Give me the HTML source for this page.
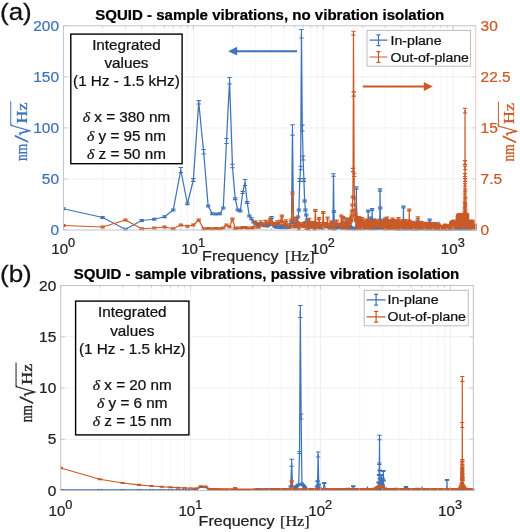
<!DOCTYPE html>
<html lang="en">
<head>
<meta charset="utf-8">
<title>SQUID sample vibrations</title>
<style>html,body{margin:0;padding:0;background:#fff}svg{display:block}</style>
</head>
<body>
<svg width="520" height="532" viewBox="0 0 520 532">
<rect width="520" height="532" fill="#fff"/>
<path d="M102.59 25.75V230M125.45 25.75V230M141.68 25.75V230M154.26 25.75V230M164.54 25.75V230M173.24 25.75V230M180.77 25.75V230M187.41 25.75V230M232.44 25.75V230M255.3 25.75V230M271.53 25.75V230M284.11 25.75V230M294.39 25.75V230M303.09 25.75V230M310.62 25.75V230M317.26 25.75V230M362.29 25.75V230M385.15 25.75V230M401.38 25.75V230M413.96 25.75V230M424.24 25.75V230M432.94 25.75V230M440.47 25.75V230M447.11 25.75V230" stroke="#f4f4f4" stroke-width="0.7" fill="none"/>
<path d="M193.35 25.75V230M323.2 25.75V230M453.05 25.75V230M63.5 178.94H475.75M63.5 127.88H475.75M63.5 76.81H475.75" stroke="#ebebeb" stroke-width="0.8" fill="none"/>
<clipPath id="c1"><rect x="63.5" y="24.75" width="413.25" height="206.25"/></clipPath>
<g clip-path="url(#c1)">
<path d="M63.5 208.75L102.59 217.5L125.45 229.25L141.68 220.5L154.26 219.25L164.54 216.75L173.24 210L180.77 170L187.41 203.75L193.35 180L198.72 102.3L203.63 151.75L208.15 206L212.32 213.75L216.22 214L219.85 213.75L223.27 208L226.5 141L229.55 80.75L232.44 166L235.19 198.75L237.81 210L240.32 211L242.72 192.5L245.02 182.5L247.23 202.5L249.36 216L251.41 218.75L253.39 222L255.3 223L257.15 224L258.94 225L260.68 224L262.36 225L264 225.5L265.59 225L267.13 226L268.63 225L270.1 224L271.53 217.5L272.92 224L274.28 226L275.61 226.68L276.9 227.33L278.17 225.44L279.41 227.63L280.62 225.87L281.81 226.52L282.97 227.68L284.11 225.98L285.23 227.76L286.32 226.26L287.4 227.64L288.45 227.56L289.49 226.3L290.5 224.77L291.5 222L292.48 130L293.45 221L294.39 224.32L295.33 225.75L296.24 226.45L297.14 222L298.03 217L298.91 210L299.77 180L300.62 168L301.45 33.75L302.27 128L303.09 158L303.89 180L304.67 201L305.45 210L306.22 215L306.98 220L307.72 222L308.46 227.92L309.19 227.44L309.91 225.87L310.62 226.73L311.32 227.13L312.01 226.25L312.69 226.71L313.37 227.22L314.04 225.64L314.69 225.97L315.35 227.44L315.99 226.4L316.63 226.58L317.26 225.49L317.88 225.97L318.5 227.37L319.11 225.23L319.71 227.92L320.31 227.01L320.9 225.98L321.48 227.85L322.06 226.83L322.63 228.21L323.2 226.32L323.76 226.05L324.32 226.64L324.87 225.76L325.41 227.43L325.95 226.32L326.49 226.64L327.02 226.69L327.54 227.06L328.06 225.97L328.57 225.68L329.09 227.05L329.59 226.52L330.09 228.25L330.59 226.44L331.08 226.61L331.57 225.65L332.05 226.14L332.53 227.66L333.01 222L333.48 175L333.95 211.5L334.41 223L334.87 228.02L335.33 228.17L335.78 228.33L336.23 226.42L336.68 228.15L337.12 227.84L337.56 227.46L338 226.19L338.43 228.31L338.86 227.34L339.28 227.08L339.7 226.21L340.12 226.39L340.54 226.29L340.95 227.83L341.36 227.48L341.77 227.63L342.17 226.28L342.58 226.11L342.97 228.19L343.37 228.13L343.76 227.99L344.15 228L344.54 227.36L344.93 227.11L345.31 227.94L345.69 228.6L346.07 222L346.44 227.69L346.81 227.21L347.18 226.26L347.55 226.92L347.91 227.36L348.28 227.12L348.64 226.98L349 228.51L349.35 226.45L349.7 221L350.06 226.53L350.41 226.73L350.75 227.71L351.1 227.71L351.44 228.42L351.78 227.15L352.12 228.53L352.46 228.52L352.79 228.19L353.12 228.3L353.45 227.89L353.78 228.57L354.11 228.7L354.44 228.35L354.76 228.47L355.08 227.86L355.4 228.65L355.72 226.69L356.03 220L356.35 188L356.66 218L356.97 227.93L357.28 227.9L357.59 228.45L357.89 226.8L358.2 226.48L358.5 227.68L358.8 227.65L359.1 228.55L359.4 228.52L359.69 227.98L359.99 228.16L360.28 226.91L360.57 228.4L360.86 228.71L361.15 226.66L361.44 227.6L361.72 228.45L362.01 227.58L362.29 228.72L362.57 227.62L362.85 226.64L363.13 226.9L363.41 227.27L363.68 228.22L363.96 228L364.23 228.44L364.5 227.13L364.77 227.65L365.04 227.13L365.31 228.1L365.57 228.33L365.84 227.08L366.1 226.71L366.37 227L366.63 227.11L366.89 227.09L367.15 227.26L367.41 228.35L367.66 227.74L367.92 228.08L368.17 211L368.43 221L368.68 228.26L368.93 228.3L369.18 227.4L369.43 226.86L369.68 227.92L369.92 226.91L370.17 226.81L370.42 226.89L370.66 218L370.9 228.41L371.14 228.4L371.38 228.46L371.62 228.45L371.86 227.6L372.1 209.5L372.33 221L372.57 227.9L372.8 227.56L373.04 227.27L373.27 228.71L373.5 227.55L373.73 227.06L373.96 220L374.19 227.39L374.42 227.94L374.65 228.54L374.87 227.33L375.1 228.24L375.32 227.31L375.55 226.98L375.77 228.12L375.99 228.11L376.21 227.04L376.43 227.49L376.65 228.58L376.87 228.66L377.08 228.62L377.3 227.15L377.52 227.35L377.73 228.64L377.95 227.32L378.16 227.02L378.37 227.65L378.58 228.25L378.79 227.87L379 228.68L379.21 228.91L379.42 227.07L379.63 227.69L379.84 220L380.04 190L380.25 208L380.45 220L380.66 227.38L380.86 228.55L381.06 228.47L381.26 222L381.46 228.5L381.66 227.85L381.86 228.47L382.06 228.17L382.26 228.71L382.46 227.26L382.66 228.3L382.85 228.11L383.05 227.88L383.24 227.28L383.44 228.19L383.63 227.27L383.82 228.04L384.01 227.99L384.21 228.01L384.4 228.94L384.59 228.17L384.78 228.64L384.97 228.97L385.15 219L385.34 228.67L385.53 228.12L385.72 227.66L385.9 227.97L386.09 228.4L386.27 228.05L386.45 227.99L386.64 227.57L386.82 228.8L387 227.99L387.18 228.55L387.37 228.5L387.55 227.61L387.73 228.09L387.91 228L388.08 227.65L388.26 227.38L388.44 228.22L388.62 227.92L388.79 228.11L388.97 228.1L389.15 227.78L389.32 228.21L389.49 228.07L389.67 228.17L389.84 227.36L390.01 227.79L390.19 227.48L390.36 227.37L390.53 228.57L390.7 228.05L390.87 227.38L391.04 227.56L391.21 228.79L391.38 228.82L391.55 228.26L391.71 228.91L391.88 228.62L392.05 228.91L392.21 227.88L392.38 227.68L392.54 227.49L392.71 228.78L392.87 227.81L393.04 227.91L393.2 228.8L393.36 227.53L393.52 227.39L393.69 228.67L393.85 227.42L394.01 228.37L394.17 228.22L394.33 227.37L394.49 227.64L394.65 228.78L394.81 228.33L394.96 228.19L395.12 228.49L395.28 228.73L395.44 221L395.59 227.85L395.75 229.03L395.9 228.13L396.06 228.33L396.21 229.04L396.37 228.51L396.52 228.03L396.68 228.22L396.83 228.97L396.98 227.43L397.13 227.76L397.29 227.46L397.44 228.9L397.59 228.64L397.74 229.01L397.89 227.79L398.04 228.63L398.19 228.87L398.34 228.39L398.48 227.58L398.63 227.74L398.78 228.66L398.93 228.84L399.08 227.58L399.22 228.16L399.37 227.95L399.51 228.95L399.66 229L399.8 227.97L399.95 228.4L400.09 228.98L400.24 227.57L400.38 228.07L400.53 227.8L400.67 228.97L400.81 227.72L400.95 229L401.09 227.71L401.24 228.37L401.38 228.56L401.52 228.22L401.66 227.62L401.8 228.68L401.94 228.9L402.08 228.27L402.22 228.73L402.36 228.94L402.49 228.86L402.63 229.03L402.77 228.79L402.91 228.62L403.04 228.63L403.18 227.91L403.32 222L403.45 207L403.59 221L403.72 228.57L403.86 229.09L403.99 228.73L404.13 229.1L404.26 227.97L404.4 228.26L404.53 228.83L404.66 228.38L404.8 227.67L404.93 228.96L405.06 227.85L405.19 228.46L405.32 228.36L405.46 227.83L405.59 228.52L405.72 228.35L405.85 228.07L405.98 227.61L406.11 228.61L406.24 227.85L406.37 228.05L406.5 228.16L406.62 228.52L406.75 228.61L406.88 229.06L407.01 228.95L407.14 229.04L407.26 228.01L407.39 228.76L407.52 228.9L407.64 229.02L407.77 227.86L407.89 227.82L408.02 228.13L408.14 228.72L408.27 228.78L408.39 228.71L408.52 228.46L408.64 228.92L408.77 228.48L408.89 228.76L409.01 227.7L409.14 227.69L409.26 228.33L409.38 228.79L409.5 227.71L409.63 228.7L409.75 228.63L409.87 229.16L409.99 228.59L410.11 228.45L410.23 228.41L410.35 228.87L410.47 228.41L410.59 229.16L410.71 228.78L410.83 229.04L410.95 228.58L411.07 229.11L411.19 229.14L411.31 228.72L411.42 228.83L411.54 228.31L411.66 222L411.78 228.07L411.89 228.2L412.01 228.12L412.13 227.88L412.24 228.61L412.36 228.7L412.48 227.73L412.59 228.96L412.71 228.12L412.82 228.24L412.94 229.12L413.05 227.96L413.17 227.88L413.28 228.27L413.39 228.11L413.51 228L413.62 228.99L413.74 228.43L413.85 228.46L413.96 227.98L414.07 228.02L414.19 227.99L414.3 228.35L414.41 227.9L414.52 228.21L414.63 228.19L414.75 228.86L414.86 229.15L414.97 229.01L415.08 228.68L415.19 229.05L415.3 228L415.41 228.4L415.52 228.3L415.63 228.3L415.74 228.23L415.85 228.5L415.96 229.2L416.06 228.06L416.17 228.14L416.28 228.49L416.39 228.44L416.5 228.27L416.61 229.11L416.71 228.16L416.82 228.85L416.93 229.1L417.03 228.83L417.14 228.18L417.25 228.92L417.35 228.16L417.46 227.83L417.57 221L417.67 228.67L417.78 228.54L417.88 228.25L417.99 228.14L418.09 228.35L418.2 228.31L418.3 229.11L418.41 229.01L418.51 228.86L418.61 228.18L418.72 228.79L418.82 228.43L418.92 229.21L419.03 229.14L419.13 228.85L419.23 228.29L419.34 228.26L419.44 228.28L419.54 228.82L419.64 228.51L419.74 228.58L419.85 228.58L419.95 229.06L420.05 227.99L420.15 228.95L420.25 227.88L420.35 227.94L420.45 229.21L420.55 228.6L420.65 228.1L420.75 227.9L420.85 228.62L420.95 228.87L421.05 228.95L421.15 227.94L421.25 228.95L421.35 228.44L421.45 229.04L421.55 228.52L421.65 227.93L421.74 229.06L421.84 228.12L421.94 228.55L422.04 228.03L422.14 228.28L422.23 228.93L422.33 228.02L422.43 228.58L422.53 229.21L422.62 229.24L422.72 228.58L422.82 228.63L422.91 228.84L423.01 229.06L423.1 228.78L423.2 228.82L423.3 228.11L423.39 229.25L423.49 228.24L423.58 228.12L423.68 229.09L423.77 228L423.87 228.29L423.96 228.04L424.05 228.86L424.15 228.75L424.24 228.73L424.34 227.92L424.43 228.47L424.52 228.77L424.62 228.68L424.71 228.89L424.8 229.19L424.9 229.12L424.99 228.15L425.08 228.88L425.18 228.01L425.27 228.93L425.36 228.91L425.45 228.58L425.54 229.01L425.64 228.77L425.73 228L425.82 228.09L425.91 228.19L426 228.43L426.09 228.06L426.18 228.02L426.27 228.54L426.36 228.32L426.45 229.2L426.55 228.3L426.64 228.68L426.73 228.28L426.82 228.42L426.9 228.89L426.99 229.21L427.08 228.06L427.17 229.11L427.26 228.65L427.35 228.82L427.44 228.88L427.53 228.31L427.62 228L427.71 228.94L427.79 228.42L427.88 228.88L427.97 228.55L428.06 228.76L428.15 229.06L428.23 229.07L428.32 229.01L428.41 228.1L428.5 228.64L428.58 229L428.67 228.11L428.76 227.99L428.84 228.7L428.93 229.1L429.02 229.03L429.1 229.17L429.19 228.84L429.27 229.17L429.36 228.98L429.45 228.95L429.53 228.55L429.62 220L429.7 228.32L429.79 228.76L429.87 228.76L429.96 228.62L430.04 228.81L430.13 228.86L430.21 229.21L430.3 228.94L430.38 228.05L430.47 229.13L430.55 228.65L430.63 228.49L430.72 228.19L430.8 229.02L430.89 228.95L430.97 228.98L431.05 228.79L431.14 228.73L431.22 228.09L431.3 228.22L431.38 228.19L431.47 229.27L431.55 229.26L431.63 228.4L431.71 228.17L431.8 228.7L431.88 228.56L431.96 229.3L432.04 228.81L432.12 228.13L432.21 228.26L432.29 228.23L432.37 228.08L432.45 228.99L432.53 229.17L432.61 229.11L432.69 228.65L432.77 228.45L432.86 228.13L432.94 228.4L433.02 228.5L433.1 228.35L433.18 228.74L433.26 228.62L433.34 229.26L433.42 228.33L433.5 229.02L433.58 228.16L433.66 228.51L433.74 228.93L433.82 229.15L433.89 229L433.97 228.52L434.05 228.44L434.13 229.17L434.21 229.22L434.29 228.66L434.37 228.59L434.45 228.83L434.52 229.04L434.6 228.57L434.68 229.3L434.76 228.94L434.84 228.75L434.91 228.13L434.99 228.52L435.07 228.23L435.15 228.73L435.23 229.03L435.3 229.01L435.38 228.14L435.46 228.45L435.53 228.94L435.61 229.29L435.69 228.71L435.76 228.5L435.84 228.81L435.92 229.01L435.99 228.51L436.07 228.19L436.15 229.05L436.22 229.28L436.3 228.91L436.37 228.81L436.45 228.49L436.53 229.08L436.6 228.36L436.68 228.43L436.75 228.71L436.83 229.08L436.9 228.15L436.98 228.95L437.05 228.33L437.13 229.05L437.2 229.06L437.28 228.41L437.35 228.97L437.43 228.18L437.5 228.73L437.57 229.1L437.65 229.06L437.72 228.83L437.8 228.53L437.87 228.19L437.94 229.16L438.02 228.86L438.09 229.08L438.16 228.16L438.24 229.16L438.31 229.27L438.38 229.26L438.46 228.86L438.53 228.26L438.6 228.28L438.68 228.46L438.75 228.14L438.82 228.22L438.89 228.94L438.97 229.12L439.04 222L439.11 228.45L439.18 229.3L439.25 228.55L439.33 228.89L439.4 228.9L439.47 228.95L439.54 229.14L439.61 229.34L439.69 229.01L439.76 228.93L439.83 228.21L439.9 229.2L439.97 228.2L440.04 229.1L440.11 228.92L440.18 228.37L440.25 228.37L440.33 228.83L440.4 229.29L440.47 228.79L440.54 229.2L440.61 229.2L440.68 229.2L440.75 229.2L440.82 229.2L440.89 229.2L440.96 229.2L441.03 229.2L441.1 229.2L441.17 229.2L441.24 229.2L441.31 229.2L441.38 229.2L441.44 229.2L441.51 229.2L441.58 229.2L441.65 229.2L441.72 229.2L441.79 229.2L441.86 229.2L441.93 229.2L442 229.2L442.06 229.2L442.13 229.2L442.2 229.2L442.27 229.2L442.34 229.2L442.41 229.2L442.47 229.2L442.54 229.2L442.61 229.2L442.68 229.2L442.75 229.2L442.81 229.2L442.88 229.2L442.95 229.2L443.02 229.2L443.08 229.2L443.15 229.2L443.22 229.2L443.28 229.2L443.35 229.2L443.42 229.2L443.49 229.2L443.55 229.2L443.62 229.2L443.69 229.2L443.75 229.2L443.82 229.2L443.89 229.2L443.95 229.2L444.02 229.2L444.08 229.2L444.15 229.2L444.22 229.2L444.28 229.2L444.35 229.2L444.41 229.2L444.48 229.2L444.54 229.2L444.61 229.2L444.68 229.2L444.74 229.2L444.81 229.2L444.87 229.2L444.94 229.2L445 229.2L445.07 229.2L445.13 229.2L445.2 229.2L445.26 229.2L445.33 229.2L445.39 229.2L445.46 229.2L445.52 229.2L445.58 229.2L445.65 229.2L445.71 229.2L445.78 229.2L445.84 229.2L445.91 229.2L445.97 229.2L446.03 229.2L446.1 229.2L446.16 229.2L446.22 229.2L446.29 229.2L446.35 229.2L446.41 229.2L446.48 229.2L446.54 229.2L446.6 229.2L446.67 229.2L446.73 229.2L446.79 229.2L446.86 229.2L446.92 229.2L446.98 229.2L447.05 229.2L447.11 229.2L447.17 229.2L447.23 229.2L447.3 229.2L447.36 229.2L447.42 229.2L447.48 229.2L447.55 229.2L447.61 229.2L447.67 229.2L447.73 229.2L447.79 229.2L447.86 229.2L447.92 229.2L447.98 229.2L448.04 229.2L448.1 229.2L448.16 229.2L448.23 229.2L448.29 229.2L448.35 229.2L448.41 229.2L448.47 229.2L448.53 229.2L448.59 229.2L448.65 229.2L448.71 229.2L448.78 229.2L448.84 229.2L448.9 229.2L448.96 229.2L449.02 229.2L449.08 229.2L449.14 229.2L449.2 229.2L449.26 229.2L449.32 229.2L449.38 229.2L449.44 229.2L449.5 229.2L449.56 229.2L449.62 229.2L449.68 229.2L449.74 229.2L449.8 229.2L449.86 229.2L449.92 229.2L449.98 229.2L450.04 229.2L450.1 229.2L450.16 229.2L450.22 229.2L450.28 229.2L450.34 229.2L450.39 229.2L450.45 229.2L450.51 229.2L450.57 229.2L450.63 229.2L450.69 229.2L450.75 229.2L450.81 229.2L450.87 229.2L450.92 229.2L450.98 229.2L451.04 229.2L451.1 229.2L451.16 229.2L451.22 229.2L451.27 229.2L451.33 229.2L451.39 229.2L451.45 229.2L451.51 229.2L451.56 229.2L451.62 229.2L451.68 229.2L451.74 229.2L451.8 229.2L451.85 229.2L451.91 229.2L451.97 229.2L452.03 229.2L452.08 229.2L452.14 229.2L452.2 229.2L452.25 229.2L452.31 229.2L452.37 229.2L452.43 229.2L452.48 229.2L452.54 229.2L452.6 229.2L452.65 229.2L452.71 229.2L452.77 229.2L452.82 229.2L452.88 229.2L452.94 229.2L452.99 229.2L453.05 229.2L453.11 229.2L453.16 229.2L453.22 229.2L453.28 229.2L453.33 229.2L453.39 229.2L453.44 229.2L453.5 229.2L453.56 229.2L453.61 229.2L453.67 229.2L453.72 229.2L453.78 229.2L453.83 229.2L453.89 229.2L453.95 229.2L454 229.2L454.06 229.2L454.11 229.2L454.17 229.2L454.22 229.2L454.28 229.2L454.33 229.2L454.39 229.2L454.44 229.2L454.5 229.2L454.55 229.2L454.61 229.2L454.66 229.2L454.72 229.2L454.77 229.2L454.83 229.2L454.88 229.2L454.94 229.2L454.99 229.2L455.04 229.2L455.1 229.2L455.15 229.2L455.21 229.2L455.26 229.2L455.32 229.2L455.37 229.2L455.42 229.2L455.48 229.2L455.53 229.2L455.59 229.2L455.64 229.2L455.69 229.2L455.75 229.2L455.8 229.2L455.86 229.2L455.91 229.2L455.96 229.2L456.02 229.2L456.07 229.2L456.12 229.2L456.18 229.2L456.23 229.2L456.28 229.2L456.34 229.2L456.39 229.2L456.44 229.2L456.5 229.2L456.55 229.2L456.6 229.2L456.65 229.2L456.71 229.2L456.76 229.2L456.81 229.2L456.87 229.2L456.92 229.2L456.97 229.2L457.02 229.2L457.08 229.2L457.13 229.2L457.18 229.2L457.23 229.2L457.29 229.2L457.34 229.2L457.39 229.2L457.44 229.2L457.49 229.2L457.55 229.2L457.6 229.2L457.65 229.2L457.7 229.2L457.75 229.2L457.81 229.2L457.86 229.2L457.91 229.2L457.96 229.2L458.01 229.2L458.06 229.2L458.12 229.2L458.17 229.2L458.22 229.2L458.27 229.2L458.32 229.2L458.37 229.2L458.42 229.2L458.48 229.2L458.53 229.2L458.58 229.2L458.63 229.2L458.68 229.2L458.73 229.2L458.78 229.2L458.83 229.2L458.88 229.2L458.94 229.2L458.99 229.2L459.04 229.2L459.09 229.2L459.14 229.2L459.19 229.2L459.24 229.2L459.29 229.2L459.34 229.2L459.39 229.2L459.44 229.2L459.49 229.2L459.54 229.2L459.59 229.2L459.64 229.2L459.69 229.2L459.74 229.2L459.79 229.2L459.84 229.2L459.89 229.2L459.94 229.2L459.99 229.2L460.04 229.2L460.09 229.2L460.14 229.2L460.19 229.2L460.24 229.2L460.29 229.2L460.34 229.2L460.39 229.2L460.44 229.2L460.49 229.2L460.54 229.2L460.59 229.2L460.64 229.2L460.69 229.2L460.74 229.2L460.78 229.2L460.83 229.2L460.88 229.2L460.93 229.2L460.98 229.2L461.03 229.2L461.08 229.2L461.13 229.2L461.18 229.2L461.23 229.2L461.27 229.2L461.32 229.2L461.37 229.2L461.42 229.2L461.47 229.2L461.52 229.2L461.57 229.2L461.61 229.2L461.66 229.2L461.71 229.2L461.76 229.2L461.81 229.2L461.86 229.2L461.9 229.2L461.95 229.2L462 229.2L462.05 229.2L462.1 229.2L462.14 229.2L462.19 229.2L462.24 229.2L462.29 229.2L462.34 229.2L462.38 229.2L462.43 229.2L462.48 229.2L462.53 229.2L462.57 229.2L462.62 229.2L462.67 229.2L462.72 229.2L462.76 229.2L462.81 229.2L462.86 229.2L462.91 229.2L462.95 229.2L463 229.2L463.05 229.2L463.1 229.2L463.14 229.2L463.19 229.2L463.24 229.2L463.28 229.2L463.33 229.2L463.38 229.2L463.43 229.2L463.47 229.2L463.52 229.2L463.57 229.2L463.61 229.2L463.66 229.2L463.71 229.2L463.75 229.2L463.8 229.2L463.85 229.2L463.89 229.2L463.94 229.2L463.99 229.2L464.03 229.2L464.08 229.2L464.12 229.2L464.17 229.2L464.22 229.2L464.26 229.2L464.31 229.2L464.36 229.2L464.4 229.2L464.45 229.2L464.49 229.2L464.54 229.2L464.59 229.2L464.63 229.2L464.68 229.2L464.72 229.2L464.77 229.2L464.82 229.2L464.86 229.2L464.91 229.2L464.95 229.2L465 229.2L465.04 229.2L465.09 229.2L465.14 229.2L465.18 229.2L465.23 229.2L465.27 229.2L465.32 229.2L465.36 229.2L465.41 229.2L465.45 229.2L465.5 229.2L465.54 229.2L465.59 229.2L465.63 229.2L465.68 229.2L465.72 229.2L465.77 229.2L465.81 229.2L465.86 229.2L465.9 229.2L465.95 229.2L465.99 229.2L466.04 229.2L466.08 229.2L466.13 229.2L466.17 229.2L466.22 229.2L466.26 229.2L466.31 229.2L466.35 229.2L466.4 229.2L466.44 229.2L466.48 229.2L466.53 229.2L466.57 229.2L466.62 229.2L466.66 229.2L466.71 229.2L466.75 229.2L466.79 229.2L466.84 229.2L466.88 229.2L466.93 229.2L466.97 229.2L467.02 229.2L467.06 229.2L467.1 229.2L467.15 229.2L467.19 229.2L467.23 229.2L467.28 229.2L467.32 229.2L467.37 229.2L467.41 229.2L467.45 229.2L467.5 229.2L467.54 229.2L467.58 229.2L467.63 229.2L467.67 229.2L467.72 229.2L467.76 229.2L467.8 229.2L467.85 229.2L467.89 229.2L467.93 229.2L467.98 229.2L468.02 229.2L468.06 229.2L468.11 229.2L468.15 229.2L468.19 229.2L468.23 229.2L468.28 229.2L468.32 229.2L468.36 229.2L468.41 229.2L468.45 229.2L468.49 229.2L468.54 229.2L468.58 229.2L468.62 229.2L468.66 229.2L468.71 229.2L468.75 229.2L468.79 229.2L468.83 229.2L468.88 229.2L468.92 229.2L468.96 229.2L469 229.2L469.05 229.2L469.09 229.2L469.13 229.2L469.17 229.2L469.22 229.2L469.26 229.2L469.3 229.2L469.34 229.2L469.39 229.2L469.43 229.2L469.47 229.2L469.51 229.2L469.55 229.2L469.6 229.2L469.64 229.2L469.68 229.2L469.72 229.2L469.76 229.2L469.81 229.2L469.85 229.2L469.89 229.2L469.93 229.2L469.97 229.2L470.02 229.2L470.06 229.2L470.1 229.2L470.14 229.2L470.18 229.2L470.22 229.2L470.27 229.2L470.31 229.2L470.35 229.2L470.39 229.2L470.43 229.2L470.47 229.2L470.51 229.2L470.56 229.2L470.6 229.2L470.64 229.2L470.68 229.2L470.72 229.2L470.76 229.2L470.8 229.2L470.84 229.2L470.89 229.2L470.93 229.2L470.97 229.2L471.01 229.2L471.05 229.2L471.09 229.2L471.13 229.2L471.17 229.2L471.21 229.2L471.25 229.2L471.29 229.2L471.34 229.2L471.38 229.2L471.42 229.2L471.46 229.2L471.5 229.2L471.54 229.2L471.58 229.2L471.62 229.2L471.66 229.2L471.7 229.2L471.74 229.2L471.78 229.2L471.82 229.2L471.86 229.2L471.9 229.2L471.94 229.2L471.98 229.2L472.02 229.2L472.06 229.2L472.11 229.2L472.15 229.2L472.19 229.2L472.23 229.2L472.27 229.2L472.31 229.2L472.35 229.2L472.39 229.2L472.43 229.2L472.47 229.2L472.51 229.2L472.55 229.2L472.59 229.2L472.63 229.2L472.67 229.2L472.71 229.2L472.75 229.2L472.78 229.2L472.82 229.2L472.86 229.2L472.9 229.2L472.94 229.2L472.98 229.2L473.02 229.2L473.06 229.2L473.1 229.2L473.14 229.2L473.18 229.2L473.22 229.2L473.26 229.2L473.3 229.2L473.34 229.2L473.38 229.2L473.42 229.2L473.46 229.2L473.5 229.2L473.53 229.2L473.57 229.2L473.61 229.2L473.65 229.2L473.69 229.2L473.73 229.2L473.77 229.2L473.81 229.2L473.85 229.2L473.89 229.2L473.93 229.2L473.96 229.2L474 229.2L474.04 229.2L474.08 229.2L474.12 229.2L474.16 229.2L474.2 229.2L474.24 229.2L474.28 229.2L474.31 229.2L474.35 229.2L474.39 229.2L474.43 229.2L474.47 229.2L474.51 229.2L474.55 229.2L474.58 229.2L474.62 229.2L474.66 229.2L474.7 229.2L474.74 229.2L474.78 229.2L474.81 229.2L474.85 229.2L474.89 229.2L474.93 229.2L474.97 229.2L475.01 229.2L475.04 229.2L475.08 229.2L475.12 229.2L475.16 229.2L475.2 229.2L475.23 229.2L475.27 229.2L475.31 229.2L475.35 229.2L475.39 229.2L475.42 229.2L475.46 229.2L475.5 229.2L475.54 229.2L475.58 229.2L475.61 229.2L475.65 229.2L475.69 229.2L475.73 229.2L475.76 229.2L475.8 229.2L475.84 229.2L475.88 229.2L475.92 229.2" stroke="#3f73b8" stroke-width="1.25" fill="none" stroke-linejoin="round"/>
<path d="M63.5 207.85V209.65M61.3 207.85h4.4M61.3 209.65h4.4M102.59 216.6V218.4M100.39 216.6h4.4M100.39 218.4h4.4M125.45 228.35V230M123.25 228.35h4.4M123.25 230h4.4M141.68 219.6V221.4M139.48 219.6h4.4M139.48 221.4h4.4M154.26 218.35V220.15M152.06 218.35h4.4M152.06 220.15h4.4M164.54 215.85V217.65M162.34 215.85h4.4M162.34 217.65h4.4M173.24 209.1V210.9M171.04 209.1h4.4M171.04 210.9h4.4M180.77 167.5V172.5M178.57 167.5h4.4M178.57 172.5h4.4M187.41 202.85V204.65M185.21 202.85h4.4M185.21 204.65h4.4M193.35 178.6V181.4M191.15 178.6h4.4M191.15 181.4h4.4M198.72 100.6V104M196.52 100.6h4.4M196.52 104h4.4M203.63 149.56V153.94M201.43 149.56h4.4M201.43 153.94h4.4M208.15 205.1V206.9M205.95 205.1h4.4M205.95 206.9h4.4M212.32 212.85V214.65M210.12 212.85h4.4M210.12 214.65h4.4M216.22 213.1V214.9M214.02 213.1h4.4M214.02 214.9h4.4M219.85 212.85V214.65M217.65 212.85h4.4M217.65 214.65h4.4M223.27 207.1V208.9M221.07 207.1h4.4M221.07 208.9h4.4M226.5 138.5V143.5M224.3 138.5h4.4M224.3 143.5h4.4M229.55 77.55V83.95M227.35 77.55h4.4M227.35 83.95h4.4M232.44 164.21V167.79M230.24 164.21h4.4M230.24 167.79h4.4M235.19 197.85V199.65M232.99 197.85h4.4M232.99 199.65h4.4M237.81 209.1V210.9M235.61 209.1h4.4M235.61 210.9h4.4M240.32 210.1V211.9M238.12 210.1h4.4M238.12 211.9h4.4M242.72 191.45V193.55M240.52 191.45h4.4M240.52 193.55h4.4M245.02 179.5V185.5M242.82 179.5h4.4M242.82 185.5h4.4M247.23 201.6V203.4M245.03 201.6h4.4M245.03 203.4h4.4M249.36 215.1V216.9M247.16 215.1h4.4M247.16 216.9h4.4M251.41 217.85V219.65M249.21 217.85h4.4M249.21 219.65h4.4M253.39 221.1V222.9M251.19 221.1h4.4M251.19 222.9h4.4M255.3 222.1V223.9M253.1 222.1h4.4M253.1 223.9h4.4M257.15 223.1V224.9M254.95 223.1h4.4M254.95 224.9h4.4M258.94 224.1V225.9M256.74 224.1h4.4M256.74 225.9h4.4M260.68 223.1V224.9M258.48 223.1h4.4M258.48 224.9h4.4M262.36 224.1V225.9M260.16 224.1h4.4M260.16 225.9h4.4M264 224.6V226.4M261.8 224.6h4.4M261.8 226.4h4.4M265.59 224.1V225.9M263.39 224.1h4.4M263.39 225.9h4.4M267.13 225.1V226.9M264.93 225.1h4.4M264.93 226.9h4.4M268.63 224.1V225.9M266.43 224.1h4.4M266.43 225.9h4.4M270.1 223.1V224.9M267.9 223.1h4.4M267.9 224.9h4.4M271.53 216.6V218.4M269.33 216.6h4.4M269.33 218.4h4.4M272.92 223.1V224.9M270.72 223.1h4.4M270.72 224.9h4.4M274.28 225.1V226.9M272.08 225.1h4.4M272.08 226.9h4.4M275.61 225.78V227.58M273.41 225.78h4.4M273.41 227.58h4.4M276.9 226.43V228.23M274.7 226.43h4.4M274.7 228.23h4.4M278.17 224.54V226.34M275.97 224.54h4.4M275.97 226.34h4.4M279.41 226.73V228.53M277.21 226.73h4.4M277.21 228.53h4.4M280.62 224.97V226.77M278.42 224.97h4.4M278.42 226.77h4.4M281.81 225.62V227.42M279.61 225.62h4.4M279.61 227.42h4.4M282.97 226.78V228.58M280.77 226.78h4.4M280.77 228.58h4.4M284.11 225.08V226.88M281.91 225.08h4.4M281.91 226.88h4.4M285.23 226.86V228.66M283.03 226.86h4.4M283.03 228.66h4.4M286.32 225.36V227.16M284.12 225.36h4.4M284.12 227.16h4.4M287.4 226.74V228.54M285.2 226.74h4.4M285.2 228.54h4.4M288.45 226.66V228.46M286.25 226.66h4.4M286.25 228.46h4.4M289.49 225.4V227.2M287.29 225.4h4.4M287.29 227.2h4.4M290.5 223.87V225.67M288.3 223.87h4.4M288.3 225.67h4.4M291.5 221.1V222.9M289.3 221.1h4.4M289.3 222.9h4.4M292.48 124.75V135.25M290.28 124.75h4.4M290.28 135.25h4.4M293.45 220.1V221.9M291.25 220.1h4.4M291.25 221.9h4.4M294.39 223.42V225.22M292.19 223.42h4.4M292.19 225.22h4.4M295.33 224.85V226.65M293.13 224.85h4.4M293.13 226.65h4.4M296.24 225.55V227.35M294.04 225.55h4.4M294.04 227.35h4.4M297.14 221.1V222.9M294.94 221.1h4.4M294.94 222.9h4.4M298.03 216.1V217.9M295.83 216.1h4.4M295.83 217.9h4.4M298.91 209.1V210.9M296.71 209.1h4.4M296.71 210.9h4.4M299.77 178.6V181.4M297.57 178.6h4.4M297.57 181.4h4.4M300.62 166.26V169.74M298.42 166.26h4.4M298.42 169.74h4.4M301.45 29.5V38M299.25 29.5h4.4M299.25 38h4.4M302.27 125.14V130.86M300.07 125.14h4.4M300.07 130.86h4.4M303.09 155.98V160.02M300.89 155.98h4.4M300.89 160.02h4.4M303.89 178.6V181.4M301.69 178.6h4.4M301.69 181.4h4.4M304.67 200.1V201.9M302.47 200.1h4.4M302.47 201.9h4.4M305.45 209.1V210.9M303.25 209.1h4.4M303.25 210.9h4.4M306.22 214.1V215.9M304.02 214.1h4.4M304.02 215.9h4.4M306.98 219.1V220.9M304.78 219.1h4.4M304.78 220.9h4.4M307.72 221.1V222.9M305.52 221.1h4.4M305.52 222.9h4.4M308.46 227.02V228.82M306.26 227.02h4.4M306.26 228.82h4.4M309.19 226.54V228.34M306.99 226.54h4.4M306.99 228.34h4.4M309.91 224.97V226.77M307.71 224.97h4.4M307.71 226.77h4.4M310.62 225.83V227.63M308.42 225.83h4.4M308.42 227.63h4.4M311.32 226.23V228.03M309.12 226.23h4.4M309.12 228.03h4.4M312.01 225.35V227.15M309.81 225.35h4.4M309.81 227.15h4.4M312.69 225.81V227.61M310.49 225.81h4.4M310.49 227.61h4.4M313.37 226.32V228.12M311.17 226.32h4.4M311.17 228.12h4.4M314.04 224.74V226.54M311.84 224.74h4.4M311.84 226.54h4.4M314.69 225.07V226.87M312.49 225.07h4.4M312.49 226.87h4.4M315.35 226.54V228.34M313.15 226.54h4.4M313.15 228.34h4.4M315.99 225.5V227.3M313.79 225.5h4.4M313.79 227.3h4.4M316.63 225.68V227.48M314.43 225.68h4.4M314.43 227.48h4.4M317.26 224.59V226.39M315.06 224.59h4.4M315.06 226.39h4.4M317.88 225.07V226.87M315.68 225.07h4.4M315.68 226.87h4.4M318.5 226.47V228.27M316.3 226.47h4.4M316.3 228.27h4.4M319.11 224.33V226.13M316.91 224.33h4.4M316.91 226.13h4.4M319.71 227.02V228.82M317.51 227.02h4.4M317.51 228.82h4.4M320.31 226.11V227.91M318.11 226.11h4.4M318.11 227.91h4.4M320.9 225.08V226.88M318.7 225.08h4.4M318.7 226.88h4.4M321.48 226.95V228.75M319.28 226.95h4.4M319.28 228.75h4.4M322.06 225.93V227.73M319.86 225.93h4.4M319.86 227.73h4.4M322.63 227.31V229.11M320.43 227.31h4.4M320.43 229.11h4.4M323.2 225.42V227.22M321 225.42h4.4M321 227.22h4.4M323.76 225.15V226.95M321.56 225.15h4.4M321.56 226.95h4.4M324.32 225.74V227.54M322.12 225.74h4.4M322.12 227.54h4.4M324.87 224.86V226.66M322.67 224.86h4.4M322.67 226.66h4.4M325.95 225.42V227.22M323.75 225.42h4.4M323.75 227.22h4.4M327.02 225.79V227.59M324.82 225.79h4.4M324.82 227.59h4.4M328.06 225.07V226.87M325.86 225.07h4.4M325.86 226.87h4.4M329.09 226.15V227.95M326.89 226.15h4.4M326.89 227.95h4.4M330.09 227.35V229.15M327.89 227.35h4.4M327.89 229.15h4.4M331.08 225.71V227.51M328.88 225.71h4.4M328.88 227.51h4.4M332.05 225.24V227.04M329.85 225.24h4.4M329.85 227.04h4.4M333.01 221.1V222.9M330.81 221.1h4.4M330.81 222.9h4.4M333.48 173.8V176.2M331.28 173.8h4.4M331.28 176.2h4.4M333.95 210.6V212.4M331.75 210.6h4.4M331.75 212.4h4.4M334.41 222.1V223.9M332.21 222.1h4.4M332.21 223.9h4.4M335.33 227.27V229.07M333.13 227.27h4.4M333.13 229.07h4.4M336.23 225.52V227.32M334.03 225.52h4.4M334.03 227.32h4.4M337.12 226.94V228.74M334.92 226.94h4.4M334.92 228.74h4.4M338 225.29V227.09M335.8 225.29h4.4M335.8 227.09h4.4M338.86 226.44V228.24M336.66 226.44h4.4M336.66 228.24h4.4M339.7 225.31V227.11M337.5 225.31h4.4M337.5 227.11h4.4M340.54 225.39V227.19M338.34 225.39h4.4M338.34 227.19h4.4M341.36 226.58V228.38M339.16 226.58h4.4M339.16 228.38h4.4M342.17 225.38V227.18M339.97 225.38h4.4M339.97 227.18h4.4M342.97 227.29V229.09M340.77 227.29h4.4M340.77 229.09h4.4M343.76 227.09V228.89M341.56 227.09h4.4M341.56 228.89h4.4M344.54 226.46V228.26M342.34 226.46h4.4M342.34 228.26h4.4M345.31 227.04V228.84M343.11 227.04h4.4M343.11 228.84h4.4M346.07 221.1V222.9M343.87 221.1h4.4M343.87 222.9h4.4M346.81 226.31V228.11M344.61 226.31h4.4M344.61 228.11h4.4M347.55 226.02V227.82M345.35 226.02h4.4M345.35 227.82h4.4M348.28 226.22V228.02M346.08 226.22h4.4M346.08 228.02h4.4M349 227.61V229.41M346.8 227.61h4.4M346.8 229.41h4.4M349.7 220.1V221.9M347.5 220.1h4.4M347.5 221.9h4.4M350.06 225.63V227.43M347.86 225.63h4.4M347.86 227.43h4.4M350.75 226.81V228.61M348.55 226.81h4.4M348.55 228.61h4.4M351.44 227.52V229.32M349.24 227.52h4.4M349.24 229.32h4.4M352.12 227.63V229.43M349.92 227.63h4.4M349.92 229.43h4.4M352.79 227.29V229.09M350.59 227.29h4.4M350.59 229.09h4.4M353.45 226.99V228.79M351.25 226.99h4.4M351.25 228.79h4.4M354.11 227.8V229.6M351.91 227.8h4.4M351.91 229.6h4.4M354.76 227.57V229.37M352.56 227.57h4.4M352.56 229.37h4.4M355.4 227.75V229.55M353.2 227.75h4.4M353.2 229.55h4.4M356.03 219.1V220.9M353.83 219.1h4.4M353.83 220.9h4.4M356.35 186.82V189.18M354.15 186.82h4.4M354.15 189.18h4.4M356.66 217.1V218.9M354.46 217.1h4.4M354.46 218.9h4.4M356.97 227.03V228.83M354.77 227.03h4.4M354.77 228.83h4.4M357.59 227.55V229.35M355.39 227.55h4.4M355.39 229.35h4.4M358.2 225.58V227.38M356 225.58h4.4M356 227.38h4.4M358.8 226.75V228.55M356.6 226.75h4.4M356.6 228.55h4.4M359.4 227.62V229.42M357.2 227.62h4.4M357.2 229.42h4.4M359.99 227.26V229.06M357.79 227.26h4.4M357.79 229.06h4.4M360.57 227.5V229.3M358.37 227.5h4.4M358.37 229.3h4.4M361.15 225.76V227.56M358.95 225.76h4.4M358.95 227.56h4.4M361.72 227.55V229.35M359.52 227.55h4.4M359.52 229.35h4.4M362.29 227.82V229.62M360.09 227.82h4.4M360.09 229.62h4.4M362.85 225.74V227.54M360.65 225.74h4.4M360.65 227.54h4.4M363.41 226.37V228.17M361.21 226.37h4.4M361.21 228.17h4.4M363.96 227.1V228.9M361.76 227.1h4.4M361.76 228.9h4.4M364.77 226.75V228.55M362.57 226.75h4.4M362.57 228.55h4.4M365.57 227.43V229.23M363.37 227.43h4.4M363.37 229.23h4.4M366.37 226.1V227.9M364.17 226.1h4.4M364.17 227.9h4.4M367.15 226.36V228.16M364.95 226.36h4.4M364.95 228.16h4.4M367.92 227.18V228.98M365.72 227.18h4.4M365.72 228.98h4.4M368.17 210.1V211.9M365.97 210.1h4.4M365.97 211.9h4.4M368.43 220.1V221.9M366.23 220.1h4.4M366.23 221.9h4.4M368.68 227.36V229.16M366.48 227.36h4.4M366.48 229.16h4.4M369.43 225.96V227.76M367.23 225.96h4.4M367.23 227.76h4.4M370.17 225.91V227.71M367.97 225.91h4.4M367.97 227.71h4.4M370.66 217.1V218.9M368.46 217.1h4.4M368.46 218.9h4.4M370.9 227.51V229.31M368.7 227.51h4.4M368.7 229.31h4.4M371.62 227.55V229.35M369.42 227.55h4.4M369.42 229.35h4.4M372.1 208.6V210.4M369.9 208.6h4.4M369.9 210.4h4.4M372.33 220.1V221.9M370.13 220.1h4.4M370.13 221.9h4.4M372.57 227V228.8M370.37 227h4.4M370.37 228.8h4.4M373.27 227.81V229.61M371.07 227.81h4.4M371.07 229.61h4.4M373.96 219.1V220.9M371.76 219.1h4.4M371.76 220.9h4.4M374.19 226.49V228.29M371.99 226.49h4.4M371.99 228.29h4.4M374.87 226.43V228.23M372.67 226.43h4.4M372.67 228.23h4.4M375.55 226.08V227.88M373.35 226.08h4.4M373.35 227.88h4.4M376.21 226.14V227.94M374.01 226.14h4.4M374.01 227.94h4.4M376.87 227.76V229.56M374.67 227.76h4.4M374.67 229.56h4.4M377.52 226.45V228.25M375.32 226.45h4.4M375.32 228.25h4.4M378.16 226.12V227.92M375.96 226.12h4.4M375.96 227.92h4.4M378.79 226.97V228.77M376.59 226.97h4.4M376.59 228.77h4.4M379.42 226.17V227.97M377.22 226.17h4.4M377.22 227.97h4.4M379.84 219.1V220.9M377.64 219.1h4.4M377.64 220.9h4.4M380.04 188.88V191.12M377.84 188.88h4.4M377.84 191.12h4.4M380.25 207.1V208.9M378.05 207.1h4.4M378.05 208.9h4.4M380.45 219.1V220.9M378.25 219.1h4.4M378.25 220.9h4.4M380.66 226.48V228.28M378.46 226.48h4.4M378.46 228.28h4.4M381.26 221.1V222.9M379.06 221.1h4.4M379.06 222.9h4.4M381.86 227.57V229.37M379.66 227.57h4.4M379.66 229.37h4.4M382.46 226.36V228.16M380.26 226.36h4.4M380.26 228.16h4.4M383.05 226.98V228.78M380.85 226.98h4.4M380.85 228.78h4.4M383.63 226.37V228.17M381.43 226.37h4.4M381.43 228.17h4.4M384.21 227.11V228.91M382.01 227.11h4.4M382.01 228.91h4.4M384.78 227.74V229.54M382.58 227.74h4.4M382.58 229.54h4.4M385.15 218.1V219.9M382.95 218.1h4.4M382.95 219.9h4.4M385.34 227.77V229.57M383.14 227.77h4.4M383.14 229.57h4.4M385.9 227.07V228.87M383.7 227.07h4.4M383.7 228.87h4.4M386.45 227.09V228.89M384.25 227.09h4.4M384.25 228.89h4.4M387.18 227.65V229.45M384.98 227.65h4.4M384.98 229.45h4.4M387.91 227.1V228.9M385.71 227.1h4.4M385.71 228.9h4.4M388.62 227.02V228.82M386.42 227.02h4.4M386.42 228.82h4.4M389.32 227.31V229.11M387.12 227.31h4.4M387.12 229.11h4.4M390.01 226.89V228.69M387.81 226.89h4.4M387.81 228.69h4.4M390.7 227.15V228.95M388.5 227.15h4.4M388.5 228.95h4.4M391.38 227.92V229.72M389.18 227.92h4.4M389.18 229.72h4.4M392.05 228.01V229.81M389.85 228.01h4.4M389.85 229.81h4.4M392.71 227.88V229.68M390.51 227.88h4.4M390.51 229.68h4.4M393.36 226.63V228.43M391.16 226.63h4.4M391.16 228.43h4.4M394.01 227.47V229.27M391.81 227.47h4.4M391.81 229.27h4.4M394.65 227.88V229.68M392.45 227.88h4.4M392.45 229.68h4.4M395.28 227.83V229.63M393.08 227.83h4.4M393.08 229.63h4.4M395.44 220.1V221.9M393.24 220.1h4.4M393.24 221.9h4.4M395.9 227.23V229.03M393.7 227.23h4.4M393.7 229.03h4.4M396.52 227.13V228.93M394.32 227.13h4.4M394.32 228.93h4.4M397.13 226.86V228.66M394.93 226.86h4.4M394.93 228.66h4.4M397.74 228.11V229.91M395.54 228.11h4.4M395.54 229.91h4.4M398.34 227.49V229.29M396.14 227.49h4.4M396.14 229.29h4.4M398.93 227.94V229.74M396.73 227.94h4.4M396.73 229.74h4.4M399.51 228.05V229.85M397.31 228.05h4.4M397.31 229.85h4.4M400.09 228.08V229.88M397.89 228.08h4.4M397.89 229.88h4.4M400.67 228.07V229.87M398.47 228.07h4.4M398.47 229.87h4.4M401.24 227.47V229.27M399.04 227.47h4.4M399.04 229.27h4.4M401.8 227.78V229.58M399.6 227.78h4.4M399.6 229.58h4.4M402.36 228.04V229.84M400.16 228.04h4.4M400.16 229.84h4.4M402.91 227.72V229.52M400.71 227.72h4.4M400.71 229.52h4.4M403.45 206.1V207.9M401.25 206.1h4.4M401.25 207.9h4.4M403.59 220.1V221.9M401.39 220.1h4.4M401.39 221.9h4.4M403.72 227.67V229.47M401.52 227.67h4.4M401.52 229.47h4.4M404.4 227.36V229.16M402.2 227.36h4.4M402.2 229.16h4.4M405.06 226.95V228.75M402.86 226.95h4.4M402.86 228.75h4.4M405.72 227.45V229.25M403.52 227.45h4.4M403.52 229.25h4.4M406.37 227.15V228.95M404.17 227.15h4.4M404.17 228.95h4.4M407.01 228.05V229.85M404.81 228.05h4.4M404.81 229.85h4.4M407.64 228.12V229.92M405.44 228.12h4.4M405.44 229.92h4.4M408.27 227.88V229.68M406.07 227.88h4.4M406.07 229.68h4.4M408.89 227.86V229.66M406.69 227.86h4.4M406.69 229.66h4.4M409.5 226.81V228.61M407.3 226.81h4.4M407.3 228.61h4.4M410.11 227.55V229.35M407.91 227.55h4.4M407.91 229.35h4.4M410.71 227.88V229.68M408.51 227.88h4.4M408.51 229.68h4.4M411.31 227.82V229.62M409.11 227.82h4.4M409.11 229.62h4.4M411.89 227.3V229.1M409.69 227.3h4.4M409.69 229.1h4.4M412.48 226.83V228.63M410.28 226.83h4.4M410.28 228.63h4.4M413.05 227.06V228.86M410.85 227.06h4.4M410.85 228.86h4.4M413.62 228.09V229.89M411.42 228.09h4.4M411.42 229.89h4.4M414.19 227.09V228.89M411.99 227.09h4.4M411.99 228.89h4.4M414.75 227.96V229.76M412.55 227.96h4.4M412.55 229.76h4.4M415.3 227.1V228.9M413.1 227.1h4.4M413.1 228.9h4.4M415.96 228.3V230M413.76 228.3h4.4M413.76 230h4.4M416.61 228.21V230M414.41 228.21h4.4M414.41 230h4.4M417.25 228.02V229.82M415.05 228.02h4.4M415.05 229.82h4.4M417.57 220.1V221.9M415.37 220.1h4.4M415.37 221.9h4.4M417.88 227.35V229.15M415.68 227.35h4.4M415.68 229.15h4.4M418.51 227.96V229.76M416.31 227.96h4.4M416.31 229.76h4.4M419.13 227.95V229.75M416.93 227.95h4.4M416.93 229.75h4.4M419.74 227.68V229.48M417.54 227.68h4.4M417.54 229.48h4.4M420.35 227.04V228.84M418.15 227.04h4.4M418.15 228.84h4.4M420.95 227.97V229.77M418.75 227.97h4.4M418.75 229.77h4.4M421.55 227.62V229.42M419.35 227.62h4.4M419.35 229.42h4.4M422.14 227.38V229.18M419.94 227.38h4.4M419.94 229.18h4.4M422.72 227.68V229.48M420.52 227.68h4.4M420.52 229.48h4.4M423.3 227.21V229.01M421.1 227.21h4.4M421.1 229.01h4.4M423.87 227.39V229.19M421.67 227.39h4.4M421.67 229.19h4.4M424.43 227.57V229.37M422.23 227.57h4.4M422.23 229.37h4.4M424.99 227.25V229.05M422.79 227.25h4.4M422.79 229.05h4.4M425.54 228.11V229.91M423.34 228.11h4.4M423.34 229.91h4.4M426.18 227.12V228.92M423.98 227.12h4.4M423.98 228.92h4.4M426.82 227.52V229.32M424.62 227.52h4.4M424.62 229.32h4.4M427.44 227.98V229.78M425.24 227.98h4.4M425.24 229.78h4.4M428.06 227.86V229.66M425.86 227.86h4.4M425.86 229.66h4.4M428.67 227.21V229.01M426.47 227.21h4.4M426.47 229.01h4.4M429.27 228.27V230M427.07 228.27h4.4M427.07 230h4.4M429.62 219.1V220.9M427.42 219.1h4.4M427.42 220.9h4.4M429.87 227.86V229.66M427.67 227.86h4.4M427.67 229.66h4.4M430.47 228.23V230M428.27 228.23h4.4M428.27 230h4.4M431.05 227.89V229.69M428.85 227.89h4.4M428.85 229.69h4.4M431.63 227.5V229.3M429.43 227.5h4.4M429.43 229.3h4.4M432.21 227.36V229.16M430.01 227.36h4.4M430.01 229.16h4.4M432.77 227.55V229.35M430.57 227.55h4.4M430.57 229.35h4.4M433.34 228.36V230M431.14 228.36h4.4M431.14 230h4.4M433.89 228.1V229.9M431.69 228.1h4.4M431.69 229.9h4.4M434.45 227.93V229.73M432.25 227.93h4.4M432.25 229.73h4.4M435.07 227.33V229.13M432.87 227.33h4.4M432.87 229.13h4.4M435.69 227.81V229.61M433.49 227.81h4.4M433.49 229.61h4.4M436.3 228.01V229.81M434.1 228.01h4.4M434.1 229.81h4.4M436.9 227.25V229.05M434.7 227.25h4.4M434.7 229.05h4.4M437.5 227.83V229.63M435.3 227.83h4.4M435.3 229.63h4.4M438.09 228.18V229.98M435.89 228.18h4.4M435.89 229.98h4.4M438.68 227.56V229.36M436.48 227.56h4.4M436.48 229.36h4.4M439.25 227.65V229.45M437.05 227.65h4.4M437.05 229.45h4.4M439.83 227.31V229.11M437.63 227.31h4.4M437.63 229.11h4.4M440.4 228.39V230M438.2 228.39h4.4M438.2 230h4.4M440.96 228.3V230M438.76 228.3h4.4M438.76 230h4.4M441.51 228.3V230M439.31 228.3h4.4M439.31 230h4.4M442.06 228.3V230M439.86 228.3h4.4M439.86 230h4.4M442.68 228.3V230M440.48 228.3h4.4M440.48 230h4.4M443.28 228.3V230M441.08 228.3h4.4M441.08 230h4.4M443.89 228.3V230M441.69 228.3h4.4M441.69 230h4.4M444.48 228.3V230M442.28 228.3h4.4M442.28 230h4.4M445.07 228.3V230M442.87 228.3h4.4M442.87 230h4.4M445.65 228.3V230M443.45 228.3h4.4M443.45 230h4.4M446.22 228.3V230M444.02 228.3h4.4M444.02 230h4.4M446.79 228.3V230M444.59 228.3h4.4M444.59 230h4.4M447.36 228.3V230M445.16 228.3h4.4M445.16 230h4.4M447.92 228.3V230M445.72 228.3h4.4M445.72 230h4.4M448.47 228.3V230M446.27 228.3h4.4M446.27 230h4.4M449.08 228.3V230M446.88 228.3h4.4M446.88 230h4.4M449.68 228.3V230M447.48 228.3h4.4M447.48 230h4.4M450.28 228.3V230M448.08 228.3h4.4M448.08 230h4.4M450.87 228.3V230M448.67 228.3h4.4M448.67 230h4.4M451.45 228.3V230M449.25 228.3h4.4M449.25 230h4.4M452.03 228.3V230M449.83 228.3h4.4M449.83 230h4.4M452.6 228.3V230M450.4 228.3h4.4M450.4 230h4.4M453.16 228.3V230M450.96 228.3h4.4M450.96 230h4.4M453.72 228.3V230M451.52 228.3h4.4M451.52 230h4.4M454.28 228.3V230M452.08 228.3h4.4M452.08 230h4.4M454.88 228.3V230M452.68 228.3h4.4M452.68 230h4.4M455.48 228.3V230M453.28 228.3h4.4M453.28 230h4.4M456.07 228.3V230M453.87 228.3h4.4M453.87 230h4.4M456.65 228.3V230M454.45 228.3h4.4M454.45 230h4.4M457.23 228.3V230M455.03 228.3h4.4M455.03 230h4.4M457.81 228.3V230M455.61 228.3h4.4M455.61 230h4.4M458.37 228.3V230M456.17 228.3h4.4M456.17 230h4.4M458.94 228.3V230M456.74 228.3h4.4M456.74 230h4.4M459.49 228.3V230M457.29 228.3h4.4M457.29 230h4.4M460.04 228.3V230M457.84 228.3h4.4M457.84 230h4.4M460.64 228.3V230M458.44 228.3h4.4M458.44 230h4.4M461.23 228.3V230M459.03 228.3h4.4M459.03 230h4.4M461.81 228.3V230M459.61 228.3h4.4M459.61 230h4.4M462.38 228.3V230M460.18 228.3h4.4M460.18 230h4.4M462.95 228.3V230M460.75 228.3h4.4M460.75 230h4.4M463.52 228.3V230M461.32 228.3h4.4M461.32 230h4.4M464.08 228.3V230M461.88 228.3h4.4M461.88 230h4.4M464.63 228.3V230M462.43 228.3h4.4M462.43 230h4.4M465.23 228.3V230M463.03 228.3h4.4M463.03 230h4.4M465.81 228.3V230M463.61 228.3h4.4M463.61 230h4.4M466.4 228.3V230M464.2 228.3h4.4M464.2 230h4.4M466.97 228.3V230M464.77 228.3h4.4M464.77 230h4.4M467.54 228.3V230M465.34 228.3h4.4M465.34 230h4.4M468.11 228.3V230M465.91 228.3h4.4M465.91 230h4.4M468.66 228.3V230M466.46 228.3h4.4M466.46 230h4.4M469.22 228.3V230M467.02 228.3h4.4M467.02 230h4.4M469.81 228.3V230M467.61 228.3h4.4M467.61 230h4.4M470.39 228.3V230M468.19 228.3h4.4M468.19 230h4.4M470.97 228.3V230M468.77 228.3h4.4M468.77 230h4.4M471.54 228.3V230M469.34 228.3h4.4M469.34 230h4.4M472.11 228.3V230M469.91 228.3h4.4M469.91 230h4.4M472.67 228.3V230M470.47 228.3h4.4M470.47 230h4.4M473.22 228.3V230M471.02 228.3h4.4M471.02 230h4.4M473.81 228.3V230M471.61 228.3h4.4M471.61 230h4.4M474.39 228.3V230M472.19 228.3h4.4M472.19 230h4.4M474.97 228.3V230M472.77 228.3h4.4M472.77 230h4.4M475.54 228.3V230M473.34 228.3h4.4M473.34 230h4.4" stroke="#3f73b8" stroke-width="1.125" fill="none"/>
<path d="M63.5 225.5L102.59 227L125.45 220L141.68 228.75L154.26 228L164.54 227L173.24 228.75L180.77 225L187.41 226.25L193.35 225L198.72 220L203.63 228.75L208.15 228.5L212.32 228.8L216.22 228.5L219.85 228.8L223.27 228L226.5 225L229.55 227L232.44 219L235.19 228.5L237.81 228L240.32 228L242.72 227.5L245.02 227.5L247.23 228L249.36 228L251.41 228L253.39 227.5L255.3 222L257.15 227.24L258.94 227.01L260.68 221.61L262.36 223.53L264 225.89L265.59 221.33L267.13 222.83L268.63 223.45L270.1 219.27L271.53 222.9L272.92 224.45L274.28 223.5L275.61 224.12L276.9 221.64L278.17 223.47L279.41 223.19L280.62 221L281.81 216L282.97 222L284.11 223.72L285.23 225.39L286.32 220.64L287.4 224.75L288.45 226.35L289.49 226.51L290.5 227.03L291.5 220L292.48 193L293.45 218L294.39 227.01L295.33 225.8L296.24 218.33L297.14 225.47L298.03 223.24L298.91 229.13L299.77 223.39L300.62 225.96L301.45 225.31L302.27 224.6L303.09 223.4L303.89 226.6L304.67 226.3L305.45 222.57L306.22 228.66L306.98 224.8L307.72 224.8L308.46 228.98L309.19 219.13L309.91 224.48L310.62 222.77L311.32 226.9L312.01 222.43L312.69 225.66L313.37 225.84L314.04 223L314.69 228.94L315.35 210.5L315.99 224.88L316.63 226.85L317.26 223.25L317.88 226.66L318.5 225.91L319.11 218.47L319.71 223.88L320.31 227.73L320.9 226.18L321.48 226.27L322.06 225.37L322.63 223.49L323.2 212.5L323.76 223.48L324.32 226.4L324.87 225.71L325.41 227.31L325.95 225.69L326.49 222.47L327.02 224.67L327.54 218.08L328.06 226.9L328.57 226.99L329.09 227.12L329.59 225.14L330.09 224.81L330.59 223.78L331.08 221.87L331.57 224.21L332.05 223.09L332.53 225.43L333.01 228.83L333.48 227.11L333.95 229.13L334.41 227.87L334.87 222.84L335.33 224.99L335.78 224.65L336.23 223.75L336.68 221.06L337.12 224.97L337.56 224.94L338 224.87L338.43 224.39L338.86 225.08L339.28 224.49L339.7 227.71L340.12 224.59L340.54 226.03L340.95 223.93L341.36 216L341.77 227.93L342.17 228.92L342.58 223.85L342.97 217.5L343.37 224.67L343.76 226.64L344.15 223.52L344.54 223.77L344.93 225.31L345.31 227.4L345.69 227.1L346.07 218.83L346.44 226.99L346.81 226.21L347.18 224.76L347.55 222.75L347.91 228.8L348.28 225.27L348.64 228.9L349 219.24L349.35 223.6L349.7 225.22L350.06 222.86L350.41 226.11L350.75 221L351.1 220L351.44 218L351.78 215L352.12 211L352.46 205L352.79 197L353.12 170L353.45 33.1L353.78 94L354.11 175L354.44 198L354.76 205L355.08 210L355.4 214L355.72 217L356.03 219L356.35 220.5L356.66 221L356.97 228.83L357.28 222.87L357.59 226.92L357.89 222.74L358.2 227.39L358.5 228.55L358.8 222.4L359.1 217.5L359.4 221.71L359.69 222.78L359.99 228.26L360.28 223.64L360.57 222.95L360.86 225.07L361.15 221.06L361.44 226.82L361.72 220.78L362.01 218.5L362.29 221.85L362.57 228.85L362.85 223.45L363.13 222.03L363.41 228.3L363.68 226.34L363.96 222.78L364.23 227.57L364.5 221.66L364.77 224.85L365.04 228.47L365.31 225.86L365.57 224.09L365.84 225.25L366.1 219.98L366.37 227.75L366.63 222.2L366.89 225.89L367.15 223.5L367.41 223.63L367.66 225.43L367.92 225.7L368.17 222.3L368.43 220.95L368.68 222.31L368.93 224.16L369.18 226.49L369.43 228.46L369.68 220.7L369.92 223L370.17 221.07L370.42 226.16L370.66 223.83L370.9 220.67L371.14 221.91L371.38 223.87L371.62 226.36L371.86 225.34L372.1 221.43L372.33 225.78L372.57 223.16L372.8 223.86L373.04 221.36L373.27 222.12L373.5 226.57L373.73 228.97L373.96 226.74L374.19 225.39L374.42 223.99L374.65 222.04L374.87 220.28L375.1 228.62L375.32 221.9L375.55 222.08L375.77 221.61L375.99 224.12L376.21 226.65L376.43 221.74L376.65 222.12L376.87 223.16L377.08 221.21L377.3 226.03L377.52 221.58L377.73 224.27L377.95 222.2L378.16 227.28L378.37 222.6L378.58 221.06L378.79 226.99L379 223.82L379.21 223.22L379.42 225.02L379.63 227.22L379.84 226.81L380.04 222.6L380.25 222.25L380.45 225.07L380.66 228.23L380.86 222.12L381.06 222.42L381.26 227L381.46 224.05L381.66 221.36L381.86 221.46L382.06 224.54L382.26 224.93L382.46 223.97L382.66 227.37L382.85 227.35L383.05 227.44L383.24 221.92L383.44 225.9L383.63 224.18L383.82 225.56L384.01 224.58L384.21 227.71L384.4 228.6L384.59 220.5L384.78 225.8L384.97 228.08L385.15 223.6L385.34 222.29L385.53 227.65L385.72 223.9L385.9 226.05L386.09 224.56L386.27 228.81L386.45 228.69L386.64 220.56L386.82 221.62L387 218.04L387.18 224.16L387.37 226.76L387.55 222.36L387.73 225.36L387.91 220.93L388.08 222.46L388.26 222.02L388.44 220.79L388.62 226.82L388.79 228.66L388.97 227.27L389.15 227.44L389.32 228.27L389.49 228.55L389.67 224.24L389.84 221.58L390.01 225.08L390.19 220.93L390.36 221.25L390.53 220.73L390.7 223.9L390.87 225.6L391.04 227.96L391.21 220.83L391.38 226.79L391.55 224.18L391.71 223.53L391.88 220.85L392.05 223.29L392.21 225.64L392.38 225.17L392.54 219L392.71 220.77L392.87 220.55L393.04 227.1L393.2 228.65L393.36 226.81L393.52 225.99L393.69 221.31L393.85 221.29L394.01 221.86L394.17 228.58L394.33 222.3L394.49 222.95L394.65 223.48L394.81 220.6L394.96 228.51L395.12 227.75L395.28 222.56L395.44 221L395.59 223.23L395.75 226.44L395.9 223.95L396.06 222.54L396.21 228.08L396.37 226.23L396.52 226.8L396.68 227.92L396.83 224.89L396.98 227.55L397.13 226.95L397.29 227.76L397.44 223.22L397.59 228.87L397.74 222.88L397.89 227.32L398.04 228.67L398.19 221.09L398.34 227.11L398.48 218.49L398.63 221.61L398.78 221.43L398.93 227.79L399.08 225.18L399.22 228.16L399.37 221.09L399.51 221.82L399.66 223.64L399.8 225.14L399.95 226.09L400.09 221.98L400.24 224.92L400.38 223.64L400.53 227.77L400.67 227.1L400.81 228.5L400.95 222.91L401.09 224.28L401.24 227.75L401.38 221.58L401.52 226.72L401.66 225.48L401.8 227.66L401.94 226.68L402.08 221.84L402.22 226.14L402.36 227.55L402.49 224.81L402.63 226.28L402.77 221.3L402.91 228.01L403.04 220.66L403.18 228.5L403.32 221.37L403.45 223.3L403.59 227.19L403.72 224.92L403.86 226.55L403.99 226.79L404.13 227.27L404.26 225.88L404.4 220.56L404.53 220.5L404.66 221.12L404.8 228.15L404.93 226.52L405.06 221.36L405.19 228.49L405.32 222.8L405.46 226.49L405.59 220.66L405.72 228.84L405.85 222.12L405.98 226.08L406.11 227.79L406.24 228.96L406.37 221.91L406.5 224.5L406.62 227.4L406.75 225.28L406.88 221.23L407.01 227.12L407.14 224.12L407.26 227.81L407.39 227.45L407.52 222.43L407.64 222.93L407.77 227.31L407.89 228.31L408.02 228.24L408.14 223.81L408.27 224.78L408.39 226.66L408.52 227.24L408.64 223.81L408.77 223.01L408.89 222.14L409.01 224.08L409.14 221L409.26 210L409.38 221L409.5 225.57L409.63 222.95L409.75 228.53L409.87 222.22L409.99 226.2L410.11 221.98L410.23 221.8L410.35 224.9L410.47 228.87L410.59 221.44L410.71 225.05L410.83 221.78L410.95 226.8L411.07 227.47L411.19 222.14L411.31 225.98L411.42 227.66L411.54 225.96L411.66 224.12L411.78 228.98L411.89 224.75L412.01 225.36L412.13 224.8L412.24 228.03L412.36 223.18L412.48 222.36L412.59 221.97L412.71 226.41L412.82 223.24L412.94 225.93L413.05 222.93L413.17 228.53L413.28 221.97L413.39 221.32L413.51 225.04L413.62 224.89L413.74 224.76L413.85 224.71L413.96 228.87L414.07 221.27L414.19 227.24L414.3 227.58L414.41 228.22L414.52 227.04L414.63 222.52L414.75 228.8L414.86 228.28L414.97 223.49L415.08 227.5L415.19 228.91L415.3 224.3L415.41 224.49L415.52 224.92L415.63 223.5L415.74 228.24L415.85 222.2L415.96 223.41L416.06 228.7L416.17 228.09L416.28 225.19L416.39 225.14L416.5 226.87L416.61 228.11L416.71 225.9L416.82 228L416.93 224.46L417.03 222.37L417.14 227.92L417.25 224.63L417.35 223.29L417.46 227.8L417.57 222.69L417.67 221.84L417.78 226.08L417.88 217.6L417.99 222.62L418.09 225.04L418.2 226.04L418.3 221.87L418.41 223.13L418.51 226.49L418.61 227.25L418.72 226.53L418.82 225.77L418.92 221.62L419.03 222.98L419.13 222.16L419.23 222.91L419.34 222.67L419.44 228.69L419.54 225.19L419.64 221.87L419.74 222.06L419.85 227.22L419.95 225.93L420.05 224.35L420.15 226.37L420.25 225.13L420.35 228.58L420.45 225.87L420.55 225.34L420.65 228.95L420.75 228.07L420.85 221.9L420.95 223.34L421.05 222.16L421.15 224.42L421.25 223.13L421.35 222.58L421.45 222.59L421.55 228.86L421.65 224.4L421.74 227.17L421.84 224.14L421.94 227.12L422.04 225.15L422.14 222.36L422.23 224.59L422.33 227.3L422.43 225.34L422.53 225.97L422.62 222.22L422.72 227.04L422.82 226.92L422.91 224.45L423.01 228.26L423.1 224.84L423.2 222.24L423.3 225.44L423.39 227.21L423.49 225.79L423.58 225.31L423.68 228.08L423.77 228.26L423.87 228.2L423.96 227.05L424.05 226.25L424.15 227.09L424.24 227.42L424.34 228.52L424.43 225.28L424.52 223.21L424.62 224.84L424.71 225.13L424.8 224.57L424.9 227.74L424.99 224.16L425.08 225.92L425.18 225.31L425.27 224.87L425.36 225.88L425.45 226.99L425.54 227.47L425.64 227.62L425.73 225.6L425.82 226.5L425.91 225.1L426 229.09L426.09 226.73L426.18 223.21L426.27 227.53L426.36 225.34L426.45 225.79L426.55 227.22L426.64 222.4L426.73 227.15L426.82 223.89L426.9 228.1L426.99 228.72L427.08 223.24L427.17 226.19L427.26 228.76L427.35 226.55L427.44 226.2L427.53 224.21L427.62 228.45L427.71 227.67L427.79 222.72L427.88 224.22L427.97 228.15L428.06 226.93L428.15 226.83L428.23 224.67L428.32 225.07L428.41 223.52L428.5 223.72L428.58 225.75L428.67 224.29L428.76 224.27L428.84 224.16L428.93 226.06L429.02 224.01L429.1 224.53L429.19 223.17L429.27 228.37L429.36 223.48L429.45 229.18L429.53 224.19L429.62 225.38L429.7 225.96L429.79 222.93L429.87 225.49L429.96 226.5L430.04 224.12L430.13 223.55L430.21 225.28L430.3 226.76L430.38 226.3L430.47 226.27L430.55 224.56L430.63 227.34L430.72 226.72L430.8 225.66L430.89 226.77L430.97 227.17L431.05 224.2L431.14 223.81L431.22 226.05L431.3 226.41L431.38 228.07L431.47 227.31L431.55 228.32L431.63 225.6L431.71 225.57L431.8 228.69L431.88 223.45L431.96 227.21L432.04 223.95L432.12 223.99L432.21 223.24L432.29 227.97L432.37 226.59L432.45 223.58L432.53 229.19L432.61 228.96L432.69 225.75L432.77 226.17L432.86 223.56L432.94 224.48L433.02 225.94L433.1 223.11L433.18 226.08L433.26 226.09L433.34 225.06L433.42 226.88L433.5 227.08L433.58 225.64L433.66 227.13L433.74 223.5L433.82 225.16L433.89 226.09L433.97 228.67L434.05 227.01L434.13 226.85L434.21 225.89L434.29 225.82L434.37 223.99L434.45 223.49L434.52 226.36L434.6 226.65L434.68 225.55L434.76 223.34L434.84 227.24L434.91 226.13L434.99 224.44L435.07 228.28L435.15 227.41L435.23 223.51L435.3 224.42L435.38 226.27L435.46 228.64L435.53 224.04L435.61 225.25L435.69 224.49L435.76 223.51L435.84 224.12L435.92 226.85L435.99 228.39L436.07 227.62L436.15 226.34L436.22 226.38L436.3 228.22L436.37 228.26L436.45 225.68L436.53 225.84L436.6 227.28L436.68 223.62L436.75 225.67L436.83 229.07L436.9 226.97L436.98 224.83L437.05 227.57L437.13 225.4L437.2 229.2L437.28 227.6L437.35 224.56L437.43 226.02L437.5 225.56L437.57 228.22L437.65 226.53L437.72 226.23L437.8 227.84L437.87 225.72L437.94 226.37L438.02 223.78L438.09 226.14L438.16 227.05L438.24 228.66L438.31 228.47L438.38 225.15L438.46 228.75L438.53 228.79L438.6 228.4L438.68 226.48L438.75 224.84L438.82 226L438.89 224.95L438.97 229.01L439.04 229.2L439.11 225.17L439.18 227.6L439.25 225.48L439.33 227.44L439.4 228.44L439.47 227.92L439.54 228.82L439.61 224.51L439.69 226.24L439.76 227.49L439.83 226.96L439.9 227.31L439.97 229.07L440.04 224.64L440.11 226.28L440.18 224.29L440.25 227.05L440.33 226.1L440.4 228.06L440.47 229.06L440.54 227.83L440.61 229.01L440.68 228.03L440.75 228.86L440.82 227.17L440.89 228.96L440.96 226.99L441.03 227.78L441.1 229.08L441.17 228.28L441.24 227.8L441.31 226.38L441.38 228.29L441.44 228.74L441.51 226.22L441.58 226.5L441.65 227.01L441.72 228.55L441.79 228.87L441.86 228.57L441.93 229.23L442 229.32L442.06 227.76L442.13 228.09L442.2 227.6L442.27 228.25L442.34 229.42L442.41 227.16L442.47 227.27L442.54 227.64L442.61 227.62L442.68 227.15L442.75 226.17L442.81 226.53L442.88 227.06L442.95 228.12L443.02 228.39L443.08 227.41L443.15 224.94L443.22 227.55L443.28 227.56L443.35 227.45L443.42 228.64L443.49 224.82L443.55 229.26L443.62 226.57L443.69 225.15L443.75 228.14L443.82 226.55L443.89 227.6L443.95 228.21L444.02 228.39L444.08 228.76L444.15 225.52L444.22 225.78L444.28 225.22L444.35 229.06L444.41 226.18L444.48 227.83L444.54 226.4L444.61 226.83L444.68 227.87L444.74 224.94L444.81 229.28L444.87 225.95L444.94 225.47L445 227L445.07 226.64L445.13 224.84L445.2 228.23L445.26 226.47L445.33 225.96L445.39 227.59L445.46 226.1L445.52 227.52L445.58 226.93L445.65 226.54L445.71 226.26L445.78 227.84L445.84 226.47L445.91 226.86L445.97 228.28L446.03 226.55L446.1 228.1L446.16 225.22L446.22 227.17L446.29 226.06L446.35 226.95L446.41 227.15L446.48 228.29L446.54 228.65L446.6 225.14L446.67 226.92L446.73 226.94L446.79 226.93L446.86 225.65L446.92 228.21L446.98 228.51L447.05 225.61L447.11 227.23L447.17 226.42L447.23 225.59L447.3 225.29L447.36 225.41L447.42 229.09L447.48 227.58L447.55 225.57L447.61 225.63L447.67 228.73L447.73 228.59L447.79 228.16L447.86 228.82L447.92 227.69L447.98 225.69L448.04 226.95L448.1 227.26L448.16 228.89L448.23 227.51L448.29 224.83L448.35 226.18L448.41 227.27L448.47 227.14L448.53 225.72L448.59 225.89L448.65 228.61L448.71 226.24L448.78 227.64L448.84 226.96L448.9 228.22L448.96 227.62L449.02 227.76L449.08 227.58L449.14 229.2L449.2 228.38L449.26 226.73L449.32 229.02L449.38 228.48L449.44 226.07L449.5 228.05L449.56 226.16L449.62 226.81L449.68 222.13L449.74 228L449.8 223.7L449.86 221.94L449.92 227.13L449.98 225.38L450.04 222.46L450.1 223.84L450.16 225.79L450.22 228.38L450.28 225.23L450.34 225.82L450.39 223.09L450.45 226.39L450.51 225.5L450.57 223.6L450.63 222.32L450.69 225.94L450.75 225.68L450.81 224.15L450.87 221.41L450.92 227.21L450.98 221.05L451.04 223.1L451.1 225.78L451.16 223.46L451.22 226.12L451.27 228.17L451.33 222.75L451.39 225.73L451.45 224.57L451.51 224.8L451.56 221.6L451.62 222.74L451.68 228.52L451.74 224.04L451.8 225.07L451.85 225.07L451.91 222.09L451.97 225.45L452.03 224.98L452.08 221.69L452.14 225.25L452.2 224.84L452.25 224.68L452.31 222.21L452.37 223.43L452.43 222.87L452.48 225.55L452.54 228.4L452.6 223.35L452.65 224.35L452.71 222.64L452.77 222.64L452.82 227.79L452.88 226.98L452.94 228.12L452.99 222.26L453.05 227.92L453.11 228.03L453.16 222.77L453.22 224.26L453.28 228.29L453.33 223.34L453.39 223.1L453.44 224.91L453.5 228.29L453.56 223.26L453.61 225.42L453.67 224.11L453.72 220.84L453.78 222.27L453.83 221.83L453.89 227.57L453.95 226.08L454 224.63L454.06 228.68L454.11 220.91L454.17 226.55L454.22 226.65L454.28 226.25L454.33 226.71L454.39 221.94L454.44 224.33L454.5 224.69L454.55 225.4L454.61 228.32L454.66 226.32L454.72 221.87L454.77 222.39L454.83 221.95L454.88 226.69L454.94 227.13L454.99 228.31L455.04 224.48L455.1 225.77L455.15 225.06L455.21 224.86L455.26 224.11L455.32 225.83L455.37 222.39L455.42 227.14L455.48 221.46L455.53 224.33L455.59 228.32L455.64 226.24L455.69 224.51L455.75 225.49L455.8 224.26L455.86 226.17L455.91 226.56L455.96 222.43L456.02 226.42L456.07 223.11L456.12 222.38L456.18 224.04L456.23 225.13L456.28 221.33L456.34 225.21L456.39 221.78L456.44 228.27L456.5 225.3L456.55 223.67L456.6 228.34L456.65 221.91L456.71 228.16L456.76 224.01L456.81 227.3L456.87 221.43L456.92 224.29L456.97 222.4L457.02 224.79L457.08 223.4L457.13 223.39L457.18 226.39L457.23 227.06L457.29 222.1L457.34 227.57L457.39 221.47L457.44 227.09L457.49 227.93L457.55 227.97L457.6 222.53L457.65 221.21L457.7 225.45L457.75 218.94L457.81 224.35L457.86 215.61L457.91 218.58L457.96 225.74L458.01 227.06L458.06 218.44L458.12 227.26L458.17 216.55L458.22 223.87L458.27 224.69L458.32 219.98L458.37 223.53L458.42 220.27L458.48 225.75L458.53 215.53L458.58 223.45L458.63 216.48L458.68 225.78L458.73 217.05L458.78 214.61L458.83 222.55L458.88 227.38L458.94 222.7L458.99 219.18L459.04 224.81L459.09 220.47L459.14 226.56L459.19 221.56L459.24 218L459.29 222.03L459.34 218.67L459.39 226.28L459.44 216.65L459.49 226.18L459.54 215.37L459.59 214.39L459.64 215.16L459.69 220.73L459.74 223.9L459.79 223.13L459.84 217.71L459.89 221.13L459.94 215.29L459.99 226.57L460.04 221.29L460.09 216.17L460.14 219.76L460.19 220.53L460.24 226.63L460.29 225.94L460.34 224.17L460.39 215.78L460.44 216.42L460.49 224.76L460.54 215.36L460.59 227.39L460.64 219.75L460.69 214.78L460.74 223.18L460.78 215.09L460.83 218.97L460.88 227.15L460.93 223.33L460.98 221.76L461.03 224.49L461.08 217.81L461.13 225.41L461.18 217.2L461.23 223.8L461.27 226.89L461.32 220.28L461.37 226.53L461.42 220.39L461.47 217.2L461.52 219.79L461.57 221.6L461.61 227.37L461.66 220.9L461.71 226.51L461.76 219.1L461.81 226.05L461.86 220.03L461.9 223.07L461.95 222.77L462 218.88L462.05 225.62L462.1 225.54L462.14 215.13L462.19 223.35L462.24 216.47L462.29 216.05L462.34 221.35L462.38 225.82L462.43 226.56L462.48 215.97L462.53 226.25L462.57 221.13L462.62 220.6L462.67 226.24L462.72 221.52L462.76 225.61L462.81 220.6L462.86 220.99L462.91 222.88L462.95 225.16L463 222.38L463.05 225.08L463.1 226.11L463.14 224.59L463.19 216.07L463.24 221.06L463.28 215.82L463.33 227.62L463.38 215.1L463.43 221.24L463.47 217.16L463.52 220.13L463.57 218.53L463.61 224.73L463.66 217.71L463.71 225.75L463.75 224.26L463.8 227.41L463.85 222.52L463.89 220.84L463.94 223.89L463.99 215.82L464.03 226.69L464.08 220.02L464.12 224.67L464.17 219.8L464.22 217.25L464.26 218.24L464.31 226.99L464.36 224.51L464.4 219.75L464.45 214.57L464.49 227.27L464.54 219.49L464.59 218.5L464.63 216.84L464.68 223.21L464.72 212L464.77 208L464.82 202L464.86 194L464.91 185L464.95 175L465 162.5L465.04 110.6L465.09 168L465.14 180L465.18 190L465.23 198L465.27 205L465.32 210L465.36 213.5L465.41 224.86L465.45 223.36L465.5 214.66L465.54 214.38L465.59 217.15L465.63 221.36L465.68 221.12L465.72 217.32L465.77 215.58L465.81 217.69L465.86 219.24L465.9 225.14L465.95 219.39L465.99 216.42L466.04 217.22L466.08 226.58L466.13 218.15L466.17 223.12L466.22 225.64L466.26 214.8L466.31 218.75L466.35 217.77L466.4 226.01L466.44 216.65L466.48 215.19L466.53 215.62L466.57 217.78L466.62 216.6L466.66 217.01L466.71 219.86L466.75 221.95L466.79 216.7L466.84 217.25L466.88 216.08L466.93 223.79L466.97 214.87L467.02 220.66L467.06 215.07L467.1 226.26L467.15 214.77L467.19 217.21L467.23 224.43L467.28 222.1L467.32 226.89L467.37 227.16L467.41 225.11L467.45 226.85L467.5 224.83L467.54 221.55L467.58 223.31L467.63 223.11L467.67 225.63L467.72 222.53L467.76 222.45L467.8 223.33L467.85 221.28L467.89 222.2L467.93 225.51L467.98 228.04L468.02 223.57L468.06 222.11L468.11 226.04L468.15 224.02L468.19 222.11L468.23 222.46L468.28 228.69L468.32 224.86L468.36 228.6L468.41 227.85L468.45 222.3L468.49 225.42L468.54 223.94L468.58 225.11L468.62 226.07L468.66 227.04L468.71 225.93L468.75 222.05L468.79 223.83L468.83 226.42L468.88 228.03L468.92 226.58L468.96 223.18L469 225.23L469.05 223.5L469.09 222.34L469.13 227.77L469.17 223.33L469.22 228.4L469.26 222.22L469.3 227.27L469.34 226.58L469.39 221.15L469.43 225.86L469.47 226.95L469.51 221.69L469.55 223.9L469.6 221.66L469.64 225.61L469.68 224.78L469.72 221.17L469.76 224.72L469.81 220.91L469.85 227.23L469.89 222.16L469.93 227.44L469.97 224.56L470.02 228.72L470.06 227.34L470.1 221.25L470.14 225.13L470.18 222.33L470.22 226.74L470.27 225.94L470.31 227.93L470.35 224.36L470.39 221.91L470.43 224.66L470.47 225.75L470.51 221.38L470.56 221.66L470.6 223.46L470.64 228.12L470.68 223.79L470.72 225.21L470.76 221.15L470.8 225.86L470.84 223.5L470.89 223.73L470.93 225.75L470.97 224.6L471.01 223.38L471.05 221.55L471.09 224.79L471.13 225.85L471.17 221.01L471.21 228.27L471.25 222.13L471.29 223.32L471.34 224.32L471.38 225.19L471.42 222.79L471.46 221.68L471.5 222.96L471.54 222.8L471.58 228.45L471.62 226.15L471.66 227.64L471.7 221.19L471.74 221.68L471.78 227.58L471.82 224.08L471.86 224.17L471.9 228.36L471.94 225.62L471.98 222.82L472.02 223.65L472.06 226.5L472.11 222.7L472.15 226.42L472.19 224.42L472.23 225.4L472.27 220.99L472.31 223.6L472.35 222.36L472.39 223.38L472.43 225.72L472.47 221.11L472.51 223.11L472.55 223.26L472.59 226.53L472.63 227.45L472.67 224.18L472.71 222.2L472.75 222.45L472.78 225.98L472.82 227.62L472.86 224.65L472.9 221.79L472.94 227.44L472.98 222.89L473.02 227.38L473.06 226.26L473.1 228.3L473.14 226.37L473.18 225.7L473.22 221.08L473.26 221.12L473.3 227.25L473.34 226.28L473.38 221.26L473.42 227.16L473.46 226.19L473.5 225.26L473.53 227.87L473.57 226.67L473.61 225.61L473.65 225.68L473.69 221.11L473.73 226.62L473.77 227.11L473.81 221.54L473.85 225.17L473.89 222.11L473.93 223.69L473.96 222.57L474 226.24L474.04 227.52L474.08 225.9L474.12 227.18L474.16 226.79L474.2 226.29L474.24 225.92L474.28 228.05L474.31 227.66L474.35 225.18L474.39 226.92L474.43 227.99L474.47 226.47L474.51 228.12L474.55 225.84L474.58 229.1L474.62 225.59L474.66 226.75L474.7 227.7L474.74 225.08L474.78 228.09L474.81 228.19L474.85 228.97L474.89 226.83L474.93 225.92L474.97 226.25L475.01 227.44L475.04 225.67L475.08 228.78L475.12 227.91L475.16 226.4L475.2 224.96L475.23 226.45L475.27 226.19L475.31 225.82L475.35 227.52L475.39 225.08L475.42 225.97L475.46 227.75L475.5 227.53L475.54 225.68L475.58 227.72L475.61 228.45L475.65 225.39L475.69 226.91L475.73 226.95L475.76 226.29L475.8 225.26L475.84 228.68L475.88 227.77L475.92 228.99" stroke="#c95a27" stroke-width="1.25" fill="none" stroke-linejoin="round"/>
<path d="M63.5 224.6V226.4M61.3 224.6h4.4M61.3 226.4h4.4M102.59 226.1V227.9M100.39 226.1h4.4M100.39 227.9h4.4M125.45 219.1V220.9M123.25 219.1h4.4M123.25 220.9h4.4M141.68 227.85V229.65M139.48 227.85h4.4M139.48 229.65h4.4M154.26 227.1V228.9M152.06 227.1h4.4M152.06 228.9h4.4M164.54 226.1V227.9M162.34 226.1h4.4M162.34 227.9h4.4M173.24 227.85V229.65M171.04 227.85h4.4M171.04 229.65h4.4M180.77 224.1V225.9M178.57 224.1h4.4M178.57 225.9h4.4M187.41 225.35V227.15M185.21 225.35h4.4M185.21 227.15h4.4M193.35 224.1V225.9M191.15 224.1h4.4M191.15 225.9h4.4M198.72 219.1V220.9M196.52 219.1h4.4M196.52 220.9h4.4M203.63 227.85V229.65M201.43 227.85h4.4M201.43 229.65h4.4M208.15 227.6V229.4M205.95 227.6h4.4M205.95 229.4h4.4M212.32 227.9V229.7M210.12 227.9h4.4M210.12 229.7h4.4M216.22 227.6V229.4M214.02 227.6h4.4M214.02 229.4h4.4M219.85 227.9V229.7M217.65 227.9h4.4M217.65 229.7h4.4M223.27 227.1V228.9M221.07 227.1h4.4M221.07 228.9h4.4M226.5 224.1V225.9M224.3 224.1h4.4M224.3 225.9h4.4M229.55 226.1V227.9M227.35 226.1h4.4M227.35 227.9h4.4M232.44 218.1V219.9M230.24 218.1h4.4M230.24 219.9h4.4M235.19 227.6V229.4M232.99 227.6h4.4M232.99 229.4h4.4M237.81 227.1V228.9M235.61 227.1h4.4M235.61 228.9h4.4M240.32 227.1V228.9M238.12 227.1h4.4M238.12 228.9h4.4M242.72 226.6V228.4M240.52 226.6h4.4M240.52 228.4h4.4M245.02 226.6V228.4M242.82 226.6h4.4M242.82 228.4h4.4M247.23 227.1V228.9M245.03 227.1h4.4M245.03 228.9h4.4M249.36 227.1V228.9M247.16 227.1h4.4M247.16 228.9h4.4M251.41 227.1V228.9M249.21 227.1h4.4M249.21 228.9h4.4M253.39 226.6V228.4M251.19 226.6h4.4M251.19 228.4h4.4M255.3 221.1V222.9M253.1 221.1h4.4M253.1 222.9h4.4M257.15 226.34V228.14M254.95 226.34h4.4M254.95 228.14h4.4M258.94 226.11V227.91M256.74 226.11h4.4M256.74 227.91h4.4M260.68 220.71V222.51M258.48 220.71h4.4M258.48 222.51h4.4M262.36 222.63V224.43M260.16 222.63h4.4M260.16 224.43h4.4M264 224.99V226.79M261.8 224.99h4.4M261.8 226.79h4.4M265.59 220.43V222.23M263.39 220.43h4.4M263.39 222.23h4.4M267.13 221.93V223.73M264.93 221.93h4.4M264.93 223.73h4.4M268.63 222.55V224.35M266.43 222.55h4.4M266.43 224.35h4.4M270.1 218.37V220.17M267.9 218.37h4.4M267.9 220.17h4.4M271.53 222V223.8M269.33 222h4.4M269.33 223.8h4.4M272.92 223.55V225.35M270.72 223.55h4.4M270.72 225.35h4.4M274.28 222.6V224.4M272.08 222.6h4.4M272.08 224.4h4.4M275.61 223.22V225.02M273.41 223.22h4.4M273.41 225.02h4.4M276.9 220.74V222.54M274.7 220.74h4.4M274.7 222.54h4.4M278.17 222.57V224.37M275.97 222.57h4.4M275.97 224.37h4.4M279.41 222.29V224.09M277.21 222.29h4.4M277.21 224.09h4.4M280.62 220.1V221.9M278.42 220.1h4.4M278.42 221.9h4.4M281.81 215.1V216.9M279.61 215.1h4.4M279.61 216.9h4.4M282.97 221.1V222.9M280.77 221.1h4.4M280.77 222.9h4.4M284.11 222.82V224.62M281.91 222.82h4.4M281.91 224.62h4.4M285.23 224.49V226.29M283.03 224.49h4.4M283.03 226.29h4.4M286.32 219.74V221.54M284.12 219.74h4.4M284.12 221.54h4.4M287.4 223.85V225.65M285.2 223.85h4.4M285.2 225.65h4.4M288.45 225.45V227.25M286.25 225.45h4.4M286.25 227.25h4.4M289.49 225.61V227.41M287.29 225.61h4.4M287.29 227.41h4.4M290.5 226.13V227.93M288.3 226.13h4.4M288.3 227.93h4.4M291.5 219.1V220.9M289.3 219.1h4.4M289.3 220.9h4.4M292.48 191.96V194.04M290.28 191.96h4.4M290.28 194.04h4.4M293.45 217.1V218.9M291.25 217.1h4.4M291.25 218.9h4.4M294.39 226.11V227.91M292.19 226.11h4.4M292.19 227.91h4.4M295.33 224.9V226.7M293.13 224.9h4.4M293.13 226.7h4.4M296.24 217.43V219.23M294.04 217.43h4.4M294.04 219.23h4.4M297.14 224.57V226.37M294.94 224.57h4.4M294.94 226.37h4.4M298.03 222.34V224.14M295.83 222.34h4.4M295.83 224.14h4.4M298.91 228.23V230M296.71 228.23h4.4M296.71 230h4.4M299.77 222.49V224.29M297.57 222.49h4.4M297.57 224.29h4.4M300.62 225.06V226.86M298.42 225.06h4.4M298.42 226.86h4.4M301.45 224.41V226.21M299.25 224.41h4.4M299.25 226.21h4.4M302.27 223.7V225.5M300.07 223.7h4.4M300.07 225.5h4.4M303.09 222.5V224.3M300.89 222.5h4.4M300.89 224.3h4.4M303.89 225.7V227.5M301.69 225.7h4.4M301.69 227.5h4.4M304.67 225.4V227.2M302.47 225.4h4.4M302.47 227.2h4.4M305.45 221.67V223.47M303.25 221.67h4.4M303.25 223.47h4.4M306.22 227.76V229.56M304.02 227.76h4.4M304.02 229.56h4.4M306.98 223.9V225.7M304.78 223.9h4.4M304.78 225.7h4.4M307.72 223.9V225.7M305.52 223.9h4.4M305.52 225.7h4.4M308.46 228.08V229.88M306.26 228.08h4.4M306.26 229.88h4.4M309.19 218.23V220.03M306.99 218.23h4.4M306.99 220.03h4.4M309.91 223.58V225.38M307.71 223.58h4.4M307.71 225.38h4.4M310.62 221.87V223.67M308.42 221.87h4.4M308.42 223.67h4.4M311.32 226V227.8M309.12 226h4.4M309.12 227.8h4.4M312.01 221.53V223.33M309.81 221.53h4.4M309.81 223.33h4.4M312.69 224.76V226.56M310.49 224.76h4.4M310.49 226.56h4.4M313.37 224.94V226.74M311.17 224.94h4.4M311.17 226.74h4.4M314.04 222.1V223.9M311.84 222.1h4.4M311.84 223.9h4.4M314.69 228.04V229.84M312.49 228.04h4.4M312.49 229.84h4.4M315.35 209.6V211.4M313.15 209.6h4.4M313.15 211.4h4.4M315.99 223.98V225.78M313.79 223.98h4.4M313.79 225.78h4.4M316.63 225.95V227.75M314.43 225.95h4.4M314.43 227.75h4.4M317.26 222.35V224.15M315.06 222.35h4.4M315.06 224.15h4.4M317.88 225.76V227.56M315.68 225.76h4.4M315.68 227.56h4.4M318.5 225.01V226.81M316.3 225.01h4.4M316.3 226.81h4.4M319.11 217.57V219.37M316.91 217.57h4.4M316.91 219.37h4.4M319.71 222.98V224.78M317.51 222.98h4.4M317.51 224.78h4.4M320.31 226.83V228.63M318.11 226.83h4.4M318.11 228.63h4.4M320.9 225.28V227.08M318.7 225.28h4.4M318.7 227.08h4.4M321.48 225.37V227.17M319.28 225.37h4.4M319.28 227.17h4.4M322.06 224.47V226.27M319.86 224.47h4.4M319.86 226.27h4.4M322.63 222.59V224.39M320.43 222.59h4.4M320.43 224.39h4.4M323.2 211.6V213.4M321 211.6h4.4M321 213.4h4.4M323.76 222.58V224.38M321.56 222.58h4.4M321.56 224.38h4.4M324.32 225.5V227.3M322.12 225.5h4.4M322.12 227.3h4.4M324.87 224.81V226.61M322.67 224.81h4.4M322.67 226.61h4.4M325.95 224.79V226.59M323.75 224.79h4.4M323.75 226.59h4.4M327.02 223.77V225.57M324.82 223.77h4.4M324.82 225.57h4.4M327.54 217.18V218.98M325.34 217.18h4.4M325.34 218.98h4.4M328.06 226V227.8M325.86 226h4.4M325.86 227.8h4.4M329.09 226.22V228.02M326.89 226.22h4.4M326.89 228.02h4.4M330.09 223.91V225.71M327.89 223.91h4.4M327.89 225.71h4.4M331.08 220.97V222.77M328.88 220.97h4.4M328.88 222.77h4.4M332.05 222.19V223.99M329.85 222.19h4.4M329.85 223.99h4.4M333.01 227.93V229.73M330.81 227.93h4.4M330.81 229.73h4.4M333.95 228.23V230M331.75 228.23h4.4M331.75 230h4.4M334.87 221.94V223.74M332.67 221.94h4.4M332.67 223.74h4.4M335.78 223.75V225.55M333.58 223.75h4.4M333.58 225.55h4.4M336.68 220.16V221.96M334.48 220.16h4.4M334.48 221.96h4.4M337.56 224.04V225.84M335.36 224.04h4.4M335.36 225.84h4.4M338.43 223.49V225.29M336.23 223.49h4.4M336.23 225.29h4.4M339.28 223.59V225.39M337.08 223.59h4.4M337.08 225.39h4.4M340.12 223.69V225.49M337.92 223.69h4.4M337.92 225.49h4.4M340.95 223.03V224.83M338.75 223.03h4.4M338.75 224.83h4.4M341.36 215.1V216.9M339.16 215.1h4.4M339.16 216.9h4.4M341.77 227.03V228.83M339.57 227.03h4.4M339.57 228.83h4.4M342.58 222.95V224.75M340.38 222.95h4.4M340.38 224.75h4.4M342.97 216.6V218.4M340.77 216.6h4.4M340.77 218.4h4.4M343.37 223.77V225.57M341.17 223.77h4.4M341.17 225.57h4.4M344.15 222.62V224.42M341.95 222.62h4.4M341.95 224.42h4.4M344.93 224.41V226.21M342.73 224.41h4.4M342.73 226.21h4.4M345.69 226.2V228M343.49 226.2h4.4M343.49 228h4.4M346.07 217.93V219.73M343.87 217.93h4.4M343.87 219.73h4.4M346.44 226.09V227.89M344.24 226.09h4.4M344.24 227.89h4.4M347.18 223.86V225.66M344.98 223.86h4.4M344.98 225.66h4.4M347.91 227.9V229.7M345.71 227.9h4.4M345.71 229.7h4.4M348.64 228V229.8M346.44 228h4.4M346.44 229.8h4.4M349 218.34V220.14M346.8 218.34h4.4M346.8 220.14h4.4M349.35 222.7V224.5M347.15 222.7h4.4M347.15 224.5h4.4M350.06 221.96V223.76M347.86 221.96h4.4M347.86 223.76h4.4M350.75 220.1V221.9M348.55 220.1h4.4M348.55 221.9h4.4M351.1 219.1V220.9M348.9 219.1h4.4M348.9 220.9h4.4M351.44 217.1V218.9M349.24 217.1h4.4M349.24 218.9h4.4M351.78 214.1V215.9M349.58 214.1h4.4M349.58 215.9h4.4M352.12 210.1V211.9M349.92 210.1h4.4M349.92 211.9h4.4M352.46 204.1V205.9M350.26 204.1h4.4M350.26 205.9h4.4M352.79 196.08V197.92M350.59 196.08h4.4M350.59 197.92h4.4M353.12 168.32V171.68M350.92 168.32h4.4M350.92 171.68h4.4M353.45 31.2V35M351.25 31.2h4.4M351.25 35h4.4M353.78 91.9V96.1M351.58 91.9h4.4M351.58 96.1h4.4M354.11 173.46V176.54M351.91 173.46h4.4M351.91 176.54h4.4M354.44 197.1V198.9M352.24 197.1h4.4M352.24 198.9h4.4M354.76 204.1V205.9M352.56 204.1h4.4M352.56 205.9h4.4M355.08 209.1V210.9M352.88 209.1h4.4M352.88 210.9h4.4M355.4 213.1V214.9M353.2 213.1h4.4M353.2 214.9h4.4M355.72 216.1V217.9M353.52 216.1h4.4M353.52 217.9h4.4M356.03 218.1V219.9M353.83 218.1h4.4M353.83 219.9h4.4M356.35 219.6V221.4M354.15 219.6h4.4M354.15 221.4h4.4M356.66 220.1V221.9M354.46 220.1h4.4M354.46 221.9h4.4M356.97 227.93V229.73M354.77 227.93h4.4M354.77 229.73h4.4M357.59 226.02V227.82M355.39 226.02h4.4M355.39 227.82h4.4M358.2 226.49V228.29M356 226.49h4.4M356 228.29h4.4M358.8 221.5V223.3M356.6 221.5h4.4M356.6 223.3h4.4M359.1 216.6V218.4M356.9 216.6h4.4M356.9 218.4h4.4M359.4 220.81V222.61M357.2 220.81h4.4M357.2 222.61h4.4M359.99 227.36V229.16M357.79 227.36h4.4M357.79 229.16h4.4M360.57 222.05V223.85M358.37 222.05h4.4M358.37 223.85h4.4M361.15 220.16V221.96M358.95 220.16h4.4M358.95 221.96h4.4M361.72 219.88V221.68M359.52 219.88h4.4M359.52 221.68h4.4M362.01 217.6V219.4M359.81 217.6h4.4M359.81 219.4h4.4M362.29 220.95V222.75M360.09 220.95h4.4M360.09 222.75h4.4M362.85 222.55V224.35M360.65 222.55h4.4M360.65 224.35h4.4M363.41 227.4V229.2M361.21 227.4h4.4M361.21 229.2h4.4M363.96 221.88V223.68M361.76 221.88h4.4M361.76 223.68h4.4M364.77 223.95V225.75M362.57 223.95h4.4M362.57 225.75h4.4M365.57 223.19V224.99M363.37 223.19h4.4M363.37 224.99h4.4M366.1 219.08V220.88M363.9 219.08h4.4M363.9 220.88h4.4M366.37 226.85V228.65M364.17 226.85h4.4M364.17 228.65h4.4M367.15 222.6V224.4M364.95 222.6h4.4M364.95 224.4h4.4M367.92 224.8V226.6M365.72 224.8h4.4M365.72 226.6h4.4M368.43 220.05V221.85M366.23 220.05h4.4M366.23 221.85h4.4M368.68 221.41V223.21M366.48 221.41h4.4M366.48 223.21h4.4M369.43 227.56V229.36M367.23 227.56h4.4M367.23 229.36h4.4M369.68 219.8V221.6M367.48 219.8h4.4M367.48 221.6h4.4M370.17 220.17V221.97M367.97 220.17h4.4M367.97 221.97h4.4M370.9 219.77V221.57M368.7 219.77h4.4M368.7 221.57h4.4M371.14 221.01V222.81M368.94 221.01h4.4M368.94 222.81h4.4M371.86 224.44V226.24M369.66 224.44h4.4M369.66 226.24h4.4M372.57 222.26V224.06M370.37 222.26h4.4M370.37 224.06h4.4M373.27 221.22V223.02M371.07 221.22h4.4M371.07 223.02h4.4M373.96 225.84V227.64M371.76 225.84h4.4M371.76 227.64h4.4M374.65 221.14V222.94M372.45 221.14h4.4M372.45 222.94h4.4M374.87 219.38V221.18M372.67 219.38h4.4M372.67 221.18h4.4M375.32 221V222.8M373.12 221h4.4M373.12 222.8h4.4M375.99 223.22V225.02M373.79 223.22h4.4M373.79 225.02h4.4M376.65 221.22V223.02M374.45 221.22h4.4M374.45 223.02h4.4M377.3 225.13V226.93M375.1 225.13h4.4M375.1 226.93h4.4M377.95 221.3V223.1M375.75 221.3h4.4M375.75 223.1h4.4M378.58 220.16V221.96M376.38 220.16h4.4M376.38 221.96h4.4M379.21 222.32V224.12M377.01 222.32h4.4M377.01 224.12h4.4M379.84 225.91V227.71M377.64 225.91h4.4M377.64 227.71h4.4M380.45 224.17V225.97M378.25 224.17h4.4M378.25 225.97h4.4M381.06 221.52V223.32M378.86 221.52h4.4M378.86 223.32h4.4M381.66 220.46V222.26M379.46 220.46h4.4M379.46 222.26h4.4M382.26 224.03V225.83M380.06 224.03h4.4M380.06 225.83h4.4M382.85 226.45V228.25M380.65 226.45h4.4M380.65 228.25h4.4M383.44 225V226.8M381.24 225h4.4M381.24 226.8h4.4M384.01 223.68V225.48M381.81 223.68h4.4M381.81 225.48h4.4M384.59 219.6V221.4M382.39 219.6h4.4M382.39 221.4h4.4M384.78 224.9V226.7M382.58 224.9h4.4M382.58 226.7h4.4M385.34 221.39V223.19M383.14 221.39h4.4M383.14 223.19h4.4M385.9 225.15V226.95M383.7 225.15h4.4M383.7 226.95h4.4M386.45 227.79V229.59M384.25 227.79h4.4M384.25 229.59h4.4M386.64 219.66V221.46M384.44 219.66h4.4M384.44 221.46h4.4M387 217.14V218.94M384.8 217.14h4.4M384.8 218.94h4.4M387.18 223.26V225.06M384.98 223.26h4.4M384.98 225.06h4.4M387.91 220.03V221.83M385.71 220.03h4.4M385.71 221.83h4.4M388.08 221.56V223.36M385.88 221.56h4.4M385.88 223.36h4.4M388.44 219.89V221.69M386.24 219.89h4.4M386.24 221.69h4.4M388.79 227.76V229.56M386.59 227.76h4.4M386.59 229.56h4.4M389.49 227.65V229.45M387.29 227.65h4.4M387.29 229.45h4.4M390.19 220.03V221.83M387.99 220.03h4.4M387.99 221.83h4.4M390.36 220.35V222.15M388.16 220.35h4.4M388.16 222.15h4.4M390.53 219.83V221.63M388.33 219.83h4.4M388.33 221.63h4.4M391.04 227.06V228.86M388.84 227.06h4.4M388.84 228.86h4.4M391.21 219.93V221.73M389.01 219.93h4.4M389.01 221.73h4.4M391.71 222.63V224.43M389.51 222.63h4.4M389.51 224.43h4.4M391.88 219.95V221.75M389.68 219.95h4.4M389.68 221.75h4.4M392.38 224.27V226.07M390.18 224.27h4.4M390.18 226.07h4.4M392.54 218.1V219.9M390.34 218.1h4.4M390.34 219.9h4.4M392.71 219.87V221.67M390.51 219.87h4.4M390.51 221.67h4.4M392.87 219.65V221.45M390.67 219.65h4.4M390.67 221.45h4.4M393.04 226.2V228M390.84 226.2h4.4M390.84 228h4.4M393.69 220.41V222.21M391.49 220.41h4.4M391.49 222.21h4.4M394.33 221.4V223.2M392.13 221.4h4.4M392.13 223.2h4.4M394.81 219.7V221.5M392.61 219.7h4.4M392.61 221.5h4.4M394.96 227.61V229.41M392.76 227.61h4.4M392.76 229.41h4.4M395.44 220.1V221.9M393.24 220.1h4.4M393.24 221.9h4.4M395.59 222.33V224.13M393.39 222.33h4.4M393.39 224.13h4.4M396.21 227.18V228.98M394.01 227.18h4.4M394.01 228.98h4.4M396.83 223.99V225.79M394.63 223.99h4.4M394.63 225.79h4.4M397.44 222.32V224.12M395.24 222.32h4.4M395.24 224.12h4.4M398.04 227.77V229.57M395.84 227.77h4.4M395.84 229.57h4.4M398.48 217.59V219.39M396.28 217.59h4.4M396.28 219.39h4.4M398.63 220.71V222.51M396.43 220.71h4.4M396.43 222.51h4.4M399.22 227.26V229.06M397.02 227.26h4.4M397.02 229.06h4.4M399.8 224.24V226.04M397.6 224.24h4.4M397.6 226.04h4.4M400.38 222.74V224.54M398.18 222.74h4.4M398.18 224.54h4.4M400.95 222.01V223.81M398.75 222.01h4.4M398.75 223.81h4.4M401.52 225.82V227.62M399.32 225.82h4.4M399.32 227.62h4.4M402.08 220.94V222.74M399.88 220.94h4.4M399.88 222.74h4.4M402.63 225.38V227.18M400.43 225.38h4.4M400.43 227.18h4.4M403.04 219.76V221.56M400.84 219.76h4.4M400.84 221.56h4.4M403.32 220.47V222.27M401.12 220.47h4.4M401.12 222.27h4.4M403.99 225.89V227.69M401.79 225.89h4.4M401.79 227.69h4.4M404.4 219.66V221.46M402.2 219.66h4.4M402.2 221.46h4.4M404.53 219.6V221.4M402.33 219.6h4.4M402.33 221.4h4.4M404.66 220.22V222.02M402.46 220.22h4.4M402.46 222.02h4.4M405.32 221.9V223.7M403.12 221.9h4.4M403.12 223.7h4.4M405.59 219.76V221.56M403.39 219.76h4.4M403.39 221.56h4.4M405.98 225.18V226.98M403.78 225.18h4.4M403.78 226.98h4.4M406.62 226.5V228.3M404.42 226.5h4.4M404.42 228.3h4.4M407.26 226.91V228.71M405.06 226.91h4.4M405.06 228.71h4.4M407.89 227.41V229.21M405.69 227.41h4.4M405.69 229.21h4.4M408.52 226.34V228.14M406.32 226.34h4.4M406.32 228.14h4.4M409.14 220.1V221.9M406.94 220.1h4.4M406.94 221.9h4.4M409.26 209.1V210.9M407.06 209.1h4.4M407.06 210.9h4.4M409.38 220.1V221.9M407.18 220.1h4.4M407.18 221.9h4.4M409.5 224.67V226.47M407.3 224.67h4.4M407.3 226.47h4.4M410.11 221.08V222.88M407.91 221.08h4.4M407.91 222.88h4.4M410.71 224.15V225.95M408.51 224.15h4.4M408.51 225.95h4.4M411.31 225.08V226.88M409.11 225.08h4.4M409.11 226.88h4.4M411.89 223.85V225.65M409.69 223.85h4.4M409.69 225.65h4.4M412.48 221.46V223.26M410.28 221.46h4.4M410.28 223.26h4.4M413.05 222.03V223.83M410.85 222.03h4.4M410.85 223.83h4.4M413.62 223.99V225.79M411.42 223.99h4.4M411.42 225.79h4.4M414.19 226.34V228.14M411.99 226.34h4.4M411.99 228.14h4.4M414.75 227.9V229.7M412.55 227.9h4.4M412.55 229.7h4.4M415.3 223.4V225.2M413.1 223.4h4.4M413.1 225.2h4.4M415.96 222.51V224.31M413.76 222.51h4.4M413.76 224.31h4.4M416.61 227.21V229.01M414.41 227.21h4.4M414.41 229.01h4.4M417.25 223.73V225.53M415.05 223.73h4.4M415.05 225.53h4.4M417.88 216.7V218.5M415.68 216.7h4.4M415.68 218.5h4.4M417.99 221.72V223.52M415.79 221.72h4.4M415.79 223.52h4.4M418.61 226.35V228.15M416.41 226.35h4.4M416.41 228.15h4.4M419.23 222.01V223.81M417.03 222.01h4.4M417.03 223.81h4.4M419.85 226.32V228.12M417.65 226.32h4.4M417.65 228.12h4.4M420.45 224.97V226.77M418.25 224.97h4.4M418.25 226.77h4.4M421.05 221.26V223.06M418.85 221.26h4.4M418.85 223.06h4.4M421.65 223.5V225.3M419.45 223.5h4.4M419.45 225.3h4.4M422.23 223.69V225.49M420.03 223.69h4.4M420.03 225.49h4.4M422.82 226.02V227.82M420.62 226.02h4.4M420.62 227.82h4.4M423.39 226.31V228.11M421.19 226.31h4.4M421.19 228.11h4.4M423.96 226.15V227.95M421.76 226.15h4.4M421.76 227.95h4.4M424.52 222.31V224.11M422.32 222.31h4.4M422.32 224.11h4.4M425.08 225.02V226.82M422.88 225.02h4.4M422.88 226.82h4.4M425.64 226.72V228.52M423.44 226.72h4.4M423.44 228.52h4.4M426.27 226.63V228.43M424.07 226.63h4.4M424.07 228.43h4.4M426.9 227.2V229M424.7 227.2h4.4M424.7 229h4.4M427.53 223.31V225.11M425.33 223.31h4.4M425.33 225.11h4.4M428.15 225.93V227.73M425.95 225.93h4.4M425.95 227.73h4.4M428.76 223.37V225.17M426.56 223.37h4.4M426.56 225.17h4.4M429.36 222.58V224.38M427.16 222.58h4.4M427.16 224.38h4.4M429.96 225.6V227.4M427.76 225.6h4.4M427.76 227.4h4.4M430.55 223.66V225.46M428.35 223.66h4.4M428.35 225.46h4.4M431.14 222.91V224.71M428.94 222.91h4.4M428.94 224.71h4.4M431.71 224.67V226.47M429.51 224.67h4.4M429.51 226.47h4.4M432.29 227.07V228.87M430.09 227.07h4.4M430.09 228.87h4.4M432.86 222.66V224.46M430.66 222.66h4.4M430.66 224.46h4.4M433.42 225.98V227.78M431.22 225.98h4.4M431.22 227.78h4.4M433.97 227.77V229.57M431.77 227.77h4.4M431.77 229.57h4.4M434.52 225.46V227.26M432.32 225.46h4.4M432.32 227.26h4.4M435.15 226.51V228.31M432.95 226.51h4.4M432.95 228.31h4.4M435.76 222.61V224.41M433.56 222.61h4.4M433.56 224.41h4.4M436.37 227.36V229.16M434.17 227.36h4.4M434.17 229.16h4.4M436.98 223.93V225.73M434.78 223.93h4.4M434.78 225.73h4.4M437.57 227.32V229.12M435.37 227.32h4.4M435.37 229.12h4.4M438.16 226.15V227.95M435.96 226.15h4.4M435.96 227.95h4.4M438.75 223.94V225.74M436.55 223.94h4.4M436.55 225.74h4.4M439.33 226.54V228.34M437.13 226.54h4.4M437.13 228.34h4.4M439.9 226.41V228.21M437.7 226.41h4.4M437.7 228.21h4.4M440.47 228.16V229.96M438.27 228.16h4.4M438.27 229.96h4.4M441.03 226.88V228.68M438.83 226.88h4.4M438.83 228.68h4.4M441.58 225.6V227.4M439.38 225.6h4.4M439.38 227.4h4.4M442.13 227.19V228.99M439.93 227.19h4.4M439.93 228.99h4.4M442.75 225.27V227.07M440.55 225.27h4.4M440.55 227.07h4.4M443.35 226.55V228.35M441.15 226.55h4.4M441.15 228.35h4.4M443.95 227.31V229.11M441.75 227.31h4.4M441.75 229.11h4.4M444.54 225.5V227.3M442.34 225.5h4.4M442.34 227.3h4.4M445.13 223.94V225.74M442.93 223.94h4.4M442.93 225.74h4.4M445.71 225.36V227.16M443.51 225.36h4.4M443.51 227.16h4.4M446.29 225.16V226.96M444.09 225.16h4.4M444.09 226.96h4.4M446.86 224.75V226.55M444.66 224.75h4.4M444.66 226.55h4.4M447.42 228.19V229.99M445.22 228.19h4.4M445.22 229.99h4.4M447.98 224.79V226.59M445.78 224.79h4.4M445.78 226.59h4.4M448.53 224.82V226.62M446.33 224.82h4.4M446.33 226.62h4.4M449.14 228.3V230M446.94 228.3h4.4M446.94 230h4.4M449.74 227.1V228.9M447.54 227.1h4.4M447.54 228.9h4.4M450.34 224.92V226.72M448.14 224.92h4.4M448.14 226.72h4.4M450.92 226.31V228.11M448.72 226.31h4.4M448.72 228.11h4.4M451.51 223.9V225.7M449.31 223.9h4.4M449.31 225.7h4.4M452.08 220.79V222.59M449.88 220.79h4.4M449.88 222.59h4.4M452.65 223.45V225.25M450.45 223.45h4.4M450.45 225.25h4.4M453.22 223.36V225.16M451.02 223.36h4.4M451.02 225.16h4.4M453.72 219.94V221.74M451.52 219.94h4.4M451.52 221.74h4.4M453.78 221.37V223.17M451.58 221.37h4.4M451.58 223.17h4.4M454.11 220.01V221.81M451.91 220.01h4.4M451.91 221.81h4.4M454.33 225.81V227.61M452.13 225.81h4.4M452.13 227.61h4.4M454.94 226.23V228.03M452.74 226.23h4.4M452.74 228.03h4.4M455.53 223.43V225.23M453.33 223.43h4.4M453.33 225.23h4.4M456.12 221.48V223.28M453.92 221.48h4.4M453.92 223.28h4.4M456.71 227.26V229.06M454.51 227.26h4.4M454.51 229.06h4.4M457.29 221.2V223M455.09 221.2h4.4M455.09 223h4.4M457.75 218.04V219.84M455.55 218.04h4.4M455.55 219.84h4.4M457.86 214.71V216.51M455.66 214.71h4.4M455.66 216.51h4.4M457.91 217.68V219.48M455.71 217.68h4.4M455.71 219.48h4.4M457.96 224.84V226.64M455.76 224.84h4.4M455.76 226.64h4.4M458.06 217.54V219.34M455.86 217.54h4.4M455.86 219.34h4.4M458.17 215.65V217.45M455.97 215.65h4.4M455.97 217.45h4.4M458.32 219.08V220.88M456.12 219.08h4.4M456.12 220.88h4.4M458.42 219.37V221.17M456.22 219.37h4.4M456.22 221.17h4.4M458.53 214.63V216.43M456.33 214.63h4.4M456.33 216.43h4.4M458.58 222.55V224.35M456.38 222.55h4.4M456.38 224.35h4.4M458.63 215.58V217.38M456.43 215.58h4.4M456.43 217.38h4.4M458.73 216.15V217.95M456.53 216.15h4.4M456.53 217.95h4.4M458.78 213.71V215.51M456.58 213.71h4.4M456.58 215.51h4.4M458.99 218.28V220.08M456.79 218.28h4.4M456.79 220.08h4.4M459.09 219.57V221.37M456.89 219.57h4.4M456.89 221.37h4.4M459.14 225.66V227.46M456.94 225.66h4.4M456.94 227.46h4.4M459.24 217.1V218.9M457.04 217.1h4.4M457.04 218.9h4.4M459.34 217.77V219.57M457.14 217.77h4.4M457.14 219.57h4.4M459.44 215.75V217.55M457.24 215.75h4.4M457.24 217.55h4.4M459.54 214.47V216.27M457.34 214.47h4.4M457.34 216.27h4.4M459.59 213.49V215.29M457.39 213.49h4.4M457.39 215.29h4.4M459.64 214.26V216.06M457.44 214.26h4.4M457.44 216.06h4.4M459.69 219.83V221.63M457.49 219.83h4.4M457.49 221.63h4.4M459.74 223V224.8M457.54 223h4.4M457.54 224.8h4.4M459.84 216.81V218.61M457.64 216.81h4.4M457.64 218.61h4.4M459.94 214.39V216.19M457.74 214.39h4.4M457.74 216.19h4.4M460.09 215.27V217.07M457.89 215.27h4.4M457.89 217.07h4.4M460.14 218.86V220.66M457.94 218.86h4.4M457.94 220.66h4.4M460.19 219.63V221.43M457.99 219.63h4.4M457.99 221.43h4.4M460.34 223.27V225.07M458.14 223.27h4.4M458.14 225.07h4.4M460.39 214.88V216.68M458.19 214.88h4.4M458.19 216.68h4.4M460.44 215.52V217.32M458.24 215.52h4.4M458.24 217.32h4.4M460.54 214.46V216.26M458.34 214.46h4.4M458.34 216.26h4.4M460.64 218.85V220.65M458.44 218.85h4.4M458.44 220.65h4.4M460.69 213.88V215.68M458.49 213.88h4.4M458.49 215.68h4.4M460.78 214.19V215.99M458.58 214.19h4.4M458.58 215.99h4.4M460.83 218.07V219.87M458.63 218.07h4.4M458.63 219.87h4.4M460.93 222.43V224.23M458.73 222.43h4.4M458.73 224.23h4.4M461.08 216.91V218.71M458.88 216.91h4.4M458.88 218.71h4.4M461.18 216.3V218.1M458.98 216.3h4.4M458.98 218.1h4.4M461.32 219.38V221.18M459.12 219.38h4.4M459.12 221.18h4.4M461.42 219.49V221.29M459.22 219.49h4.4M459.22 221.29h4.4M461.47 216.3V218.1M459.27 216.3h4.4M459.27 218.1h4.4M461.52 218.89V220.69M459.32 218.89h4.4M459.32 220.69h4.4M461.57 220.7V222.5M459.37 220.7h4.4M459.37 222.5h4.4M461.66 220V221.8M459.46 220h4.4M459.46 221.8h4.4M461.76 218.2V220M459.56 218.2h4.4M459.56 220h4.4M461.86 219.13V220.93M459.66 219.13h4.4M459.66 220.93h4.4M462 217.98V219.78M459.8 217.98h4.4M459.8 219.78h4.4M462.14 214.23V216.03M459.94 214.23h4.4M459.94 216.03h4.4M462.19 222.45V224.25M459.99 222.45h4.4M459.99 224.25h4.4M462.24 215.57V217.37M460.04 215.57h4.4M460.04 217.37h4.4M462.29 215.15V216.95M460.09 215.15h4.4M460.09 216.95h4.4M462.48 215.07V216.87M460.28 215.07h4.4M460.28 216.87h4.4M462.62 219.7V221.5M460.42 219.7h4.4M460.42 221.5h4.4M462.76 224.71V226.51M460.56 224.71h4.4M460.56 226.51h4.4M462.81 219.7V221.5M460.61 219.7h4.4M460.61 221.5h4.4M462.86 220.09V221.89M460.66 220.09h4.4M460.66 221.89h4.4M463.19 215.17V216.97M460.99 215.17h4.4M460.99 216.97h4.4M463.28 214.92V216.72M461.08 214.92h4.4M461.08 216.72h4.4M463.33 226.72V228.52M461.13 226.72h4.4M461.13 228.52h4.4M463.38 214.2V216M461.18 214.2h4.4M461.18 216h4.4M463.47 216.26V218.06M461.27 216.26h4.4M461.27 218.06h4.4M463.52 219.23V221.03M461.32 219.23h4.4M461.32 221.03h4.4M463.57 217.63V219.43M461.37 217.63h4.4M461.37 219.43h4.4M463.66 216.81V218.61M461.46 216.81h4.4M461.46 218.61h4.4M463.89 219.94V221.74M461.69 219.94h4.4M461.69 221.74h4.4M463.94 222.99V224.79M461.74 222.99h4.4M461.74 224.79h4.4M463.99 214.92V216.72M461.79 214.92h4.4M461.79 216.72h4.4M464.08 219.12V220.92M461.88 219.12h4.4M461.88 220.92h4.4M464.17 218.9V220.7M461.97 218.9h4.4M461.97 220.7h4.4M464.22 216.35V218.15M462.02 216.35h4.4M462.02 218.15h4.4M464.26 217.34V219.14M462.06 217.34h4.4M462.06 219.14h4.4M464.4 218.85V220.65M462.2 218.85h4.4M462.2 220.65h4.4M464.45 213.67V215.47M462.25 213.67h4.4M462.25 215.47h4.4M464.49 226.37V228.17M462.29 226.37h4.4M462.29 228.17h4.4M464.54 218.59V220.39M462.34 218.59h4.4M462.34 220.39h4.4M464.59 217.6V219.4M462.39 217.6h4.4M462.39 219.4h4.4M464.63 215.94V217.74M462.43 215.94h4.4M462.43 217.74h4.4M464.72 211.1V212.9M462.52 211.1h4.4M462.52 212.9h4.4M464.77 207.1V208.9M462.57 207.1h4.4M462.57 208.9h4.4M464.82 201.1V202.9M462.62 201.1h4.4M462.62 202.9h4.4M464.86 192.99V195.01M462.66 192.99h4.4M462.66 195.01h4.4M464.91 183.74V186.26M462.71 183.74h4.4M462.71 186.26h4.4M464.95 173.46V176.54M462.75 173.46h4.4M462.75 176.54h4.4M465 160.61V164.39M462.8 160.61h4.4M462.8 164.39h4.4M465.04 108.2V113M462.84 108.2h4.4M462.84 113h4.4M465.09 166.26V169.74M462.89 166.26h4.4M462.89 169.74h4.4M465.14 178.6V181.4M462.94 178.6h4.4M462.94 181.4h4.4M465.18 188.88V191.12M462.98 188.88h4.4M462.98 191.12h4.4M465.23 197.1V198.9M463.03 197.1h4.4M463.03 198.9h4.4M465.27 204.1V205.9M463.07 204.1h4.4M463.07 205.9h4.4M465.32 209.1V210.9M463.12 209.1h4.4M463.12 210.9h4.4M465.36 212.6V214.4M463.16 212.6h4.4M463.16 214.4h4.4M465.41 223.96V225.76M463.21 223.96h4.4M463.21 225.76h4.4M465.5 213.76V215.56M463.3 213.76h4.4M463.3 215.56h4.4M465.54 213.48V215.28M463.34 213.48h4.4M463.34 215.28h4.4M465.59 216.25V218.05M463.39 216.25h4.4M463.39 218.05h4.4M465.72 216.42V218.22M463.52 216.42h4.4M463.52 218.22h4.4M465.77 214.68V216.48M463.57 214.68h4.4M463.57 216.48h4.4M465.81 216.79V218.59M463.61 216.79h4.4M463.61 218.59h4.4M465.86 218.34V220.14M463.66 218.34h4.4M463.66 220.14h4.4M465.95 218.49V220.29M463.75 218.49h4.4M463.75 220.29h4.4M465.99 215.52V217.32M463.79 215.52h4.4M463.79 217.32h4.4M466.04 216.32V218.12M463.84 216.32h4.4M463.84 218.12h4.4M466.08 225.68V227.48M463.88 225.68h4.4M463.88 227.48h4.4M466.13 217.25V219.05M463.93 217.25h4.4M463.93 219.05h4.4M466.26 213.9V215.7M464.06 213.9h4.4M464.06 215.7h4.4M466.31 217.85V219.65M464.11 217.85h4.4M464.11 219.65h4.4M466.35 216.87V218.67M464.15 216.87h4.4M464.15 218.67h4.4M466.44 215.75V217.55M464.24 215.75h4.4M464.24 217.55h4.4M466.48 214.29V216.09M464.28 214.29h4.4M464.28 216.09h4.4M466.53 214.72V216.52M464.33 214.72h4.4M464.33 216.52h4.4M466.57 216.88V218.68M464.37 216.88h4.4M464.37 218.68h4.4M466.62 215.7V217.5M464.42 215.7h4.4M464.42 217.5h4.4M466.66 216.11V217.91M464.46 216.11h4.4M464.46 217.91h4.4M466.71 218.96V220.76M464.51 218.96h4.4M464.51 220.76h4.4M466.75 221.05V222.85M464.55 221.05h4.4M464.55 222.85h4.4M466.79 215.8V217.6M464.59 215.8h4.4M464.59 217.6h4.4M466.84 216.35V218.15M464.64 216.35h4.4M464.64 218.15h4.4M466.88 215.18V216.98M464.68 215.18h4.4M464.68 216.98h4.4M466.97 213.97V215.77M464.77 213.97h4.4M464.77 215.77h4.4M467.02 219.76V221.56M464.82 219.76h4.4M464.82 221.56h4.4M467.06 214.17V215.97M464.86 214.17h4.4M464.86 215.97h4.4M467.15 213.87V215.67M464.95 213.87h4.4M464.95 215.67h4.4M467.19 216.31V218.11M464.99 216.31h4.4M464.99 218.11h4.4M467.32 225.99V227.79M465.12 225.99h4.4M465.12 227.79h4.4M467.89 221.3V223.1M465.69 221.3h4.4M465.69 223.1h4.4M468.45 221.4V223.2M466.25 221.4h4.4M466.25 223.2h4.4M469 224.33V226.13M466.8 224.33h4.4M466.8 226.13h4.4M469.6 220.76V222.56M467.4 220.76h4.4M467.4 222.56h4.4M469.81 220.01V221.81M467.61 220.01h4.4M467.61 221.81h4.4M470.18 221.43V223.23M467.98 221.43h4.4M467.98 223.23h4.4M470.76 220.25V222.05M468.56 220.25h4.4M468.56 222.05h4.4M471.34 223.42V225.22M469.14 223.42h4.4M469.14 225.22h4.4M471.9 227.46V229.26M469.7 227.46h4.4M469.7 229.26h4.4M472.27 220.09V221.89M470.07 220.09h4.4M470.07 221.89h4.4M472.47 220.21V222.01M470.27 220.21h4.4M470.27 222.01h4.4M473.02 226.48V228.28M470.82 226.48h4.4M470.82 228.28h4.4M473.57 225.77V227.57M471.37 225.77h4.4M471.37 227.57h4.4M474.16 225.89V227.69M471.96 225.89h4.4M471.96 227.69h4.4M474.74 224.18V225.98M472.54 224.18h4.4M472.54 225.98h4.4M475.31 224.92V226.72M473.11 224.92h4.4M473.11 226.72h4.4M475.88 226.87V228.67M473.68 226.87h4.4M473.68 228.67h4.4" stroke="#c95a27" stroke-width="1.125" fill="none"/>
</g>
<path d="M63.5 25.75H475.75" stroke="#bdbdbd" stroke-width="0.9" fill="none"/>
<path d="M63.5 230H475.75" stroke="#bdbdbd" stroke-width="0.9" fill="none"/>
<path d="M63.5 25.75V230" stroke="#b4c4de" stroke-width="0.9" fill="none"/>
<path d="M475.75 25.75V230" stroke="#e6c3b3" stroke-width="0.9" fill="none"/>
<path d="M63.5 230v-4M63.5 25.75v4M102.59 230v-2M102.59 25.75v2M125.45 230v-2M125.45 25.75v2M141.68 230v-2M141.68 25.75v2M154.26 230v-2M154.26 25.75v2M164.54 230v-2M164.54 25.75v2M173.24 230v-2M173.24 25.75v2M180.77 230v-2M180.77 25.75v2M187.41 230v-2M187.41 25.75v2M193.35 230v-4M193.35 25.75v4M232.44 230v-2M232.44 25.75v2M255.3 230v-2M255.3 25.75v2M271.53 230v-2M271.53 25.75v2M284.11 230v-2M284.11 25.75v2M294.39 230v-2M294.39 25.75v2M303.09 230v-2M303.09 25.75v2M310.62 230v-2M310.62 25.75v2M317.26 230v-2M317.26 25.75v2M323.2 230v-4M323.2 25.75v4M362.29 230v-2M362.29 25.75v2M385.15 230v-2M385.15 25.75v2M401.38 230v-2M401.38 25.75v2M413.96 230v-2M413.96 25.75v2M424.24 230v-2M424.24 25.75v2M432.94 230v-2M432.94 25.75v2M440.47 230v-2M440.47 25.75v2M447.11 230v-2M447.11 25.75v2M453.05 230v-4M453.05 25.75v4" stroke="#bdbdbd" stroke-width="0.7" fill="none"/>
<path d="M63.5 230h4M63.5 178.94h4M63.5 127.88h4M63.5 76.81h4M63.5 25.75h4" stroke="#b4c4de" stroke-width="0.7" fill="none"/>
<path d="M475.75 230h-4M475.75 178.94h-4M475.75 127.88h-4M475.75 76.81h-4M475.75 25.75h-4" stroke="#e6c3b3" stroke-width="0.7" fill="none"/>
<text transform="translate(59 235.2) scale(1.045 1)" font-family="'Liberation Sans', Arial, Helvetica, sans-serif" font-size="14.8" fill="#3f73b8" stroke="#3f73b8" stroke-width="0.25" text-anchor="end">0</text>
<text transform="translate(59 184.14) scale(1.045 1)" font-family="'Liberation Sans', Arial, Helvetica, sans-serif" font-size="14.8" fill="#3f73b8" stroke="#3f73b8" stroke-width="0.25" text-anchor="end">50</text>
<text transform="translate(59 133.07) scale(1.045 1)" font-family="'Liberation Sans', Arial, Helvetica, sans-serif" font-size="14.8" fill="#3f73b8" stroke="#3f73b8" stroke-width="0.25" text-anchor="end">100</text>
<text transform="translate(59 82.01) scale(1.045 1)" font-family="'Liberation Sans', Arial, Helvetica, sans-serif" font-size="14.8" fill="#3f73b8" stroke="#3f73b8" stroke-width="0.25" text-anchor="end">150</text>
<text transform="translate(59 30.95) scale(1.045 1)" font-family="'Liberation Sans', Arial, Helvetica, sans-serif" font-size="14.8" fill="#3f73b8" stroke="#3f73b8" stroke-width="0.25" text-anchor="end">200</text>
<text transform="translate(480.55 235.2) scale(1.045 1)" font-family="'Liberation Sans', Arial, Helvetica, sans-serif" font-size="14.8" fill="#c95a27" stroke="#c95a27" stroke-width="0.25">0</text>
<text transform="translate(480.55 184.14) scale(1.045 1)" font-family="'Liberation Sans', Arial, Helvetica, sans-serif" font-size="14.8" fill="#c95a27" stroke="#c95a27" stroke-width="0.25">7.5</text>
<text transform="translate(480.55 133.07) scale(1.045 1)" font-family="'Liberation Sans', Arial, Helvetica, sans-serif" font-size="14.8" fill="#c95a27" stroke="#c95a27" stroke-width="0.25">15</text>
<text transform="translate(480.55 82.01) scale(1.045 1)" font-family="'Liberation Sans', Arial, Helvetica, sans-serif" font-size="14.8" fill="#c95a27" stroke="#c95a27" stroke-width="0.25">22.5</text>
<text transform="translate(480.55 30.95) scale(1.045 1)" font-family="'Liberation Sans', Arial, Helvetica, sans-serif" font-size="14.8" fill="#c95a27" stroke="#c95a27" stroke-width="0.25">30</text>
<text transform="translate(51.28 253.75) scale(1.045 1)" font-family="'Liberation Sans', Arial, Helvetica, sans-serif" font-size="14.5" fill="#222222" stroke="#262626" stroke-width="0.25">10<tspan dy="-6.9" font-size="12.2">0</tspan></text>
<text transform="translate(181.13 253.75) scale(1.045 1)" font-family="'Liberation Sans', Arial, Helvetica, sans-serif" font-size="14.5" fill="#222222" stroke="#262626" stroke-width="0.25">10<tspan dy="-6.9" font-size="12.2">1</tspan></text>
<text transform="translate(310.98 253.75) scale(1.045 1)" font-family="'Liberation Sans', Arial, Helvetica, sans-serif" font-size="14.5" fill="#222222" stroke="#262626" stroke-width="0.25">10<tspan dy="-6.9" font-size="12.2">2</tspan></text>
<text transform="translate(440.83 253.75) scale(1.045 1)" font-family="'Liberation Sans', Arial, Helvetica, sans-serif" font-size="14.5" fill="#222222" stroke="#262626" stroke-width="0.25">10<tspan dy="-6.9" font-size="12.2">3</tspan></text>
<path d="M297 51.15H236" stroke="#3f73b8" stroke-width="2" fill="none"/>
<path d="M228.2 51.15L237.2 46.7V55.6Z" fill="#3f73b8"/>
<path d="M362.8 86.6H425" stroke="#c95a27" stroke-width="2" fill="none"/>
<path d="M432.8 86.6L423.8 82.1V91.1Z" fill="#c95a27"/>
<rect x="70.8" y="34.1" width="111.3" height="129.6" fill="#fff" stroke="#000" stroke-width="1.4"/>
<text transform="translate(126.45 50) scale(1.045 1)" font-family="'Liberation Sans', Arial, Helvetica, sans-serif" font-size="14.6" fill="#111" stroke="#111" stroke-width="0.25" text-anchor="middle">Integrated</text>
<text transform="translate(126.45 68.1) scale(1.045 1)" font-family="'Liberation Sans', Arial, Helvetica, sans-serif" font-size="14.6" fill="#111" stroke="#111" stroke-width="0.25" text-anchor="middle">values</text>
<text transform="translate(126.45 86.2) scale(1.045 1)" font-family="'Liberation Sans', Arial, Helvetica, sans-serif" font-size="14.6" fill="#111" stroke="#111" stroke-width="0.25" text-anchor="middle">(1 Hz - 1.5 kHz)</text>
<text transform="translate(126.45 122.4) scale(1.045 1)" text-anchor="middle" font-family="'Liberation Sans', Arial, Helvetica, sans-serif" font-size="14.6" fill="#111" stroke="#111" stroke-width="0.25"><tspan font-family="'Liberation Serif', 'Times New Roman', serif" font-style="italic" font-size="15.1">δ</tspan> x = 380 nm</text>
<text transform="translate(126.45 140.5) scale(1.045 1)" text-anchor="middle" font-family="'Liberation Sans', Arial, Helvetica, sans-serif" font-size="14.6" fill="#111" stroke="#111" stroke-width="0.25"><tspan font-family="'Liberation Serif', 'Times New Roman', serif" font-style="italic" font-size="15.1">δ</tspan> y = 95 nm</text>
<text transform="translate(126.45 158.6) scale(1.045 1)" text-anchor="middle" font-family="'Liberation Sans', Arial, Helvetica, sans-serif" font-size="14.6" fill="#111" stroke="#111" stroke-width="0.25"><tspan font-family="'Liberation Serif', 'Times New Roman', serif" font-style="italic" font-size="15.1">δ</tspan> z = 50 nm</text>
<rect x="367" y="30.4" width="103.6" height="35.8" fill="#fff" stroke="#b5b5b5" stroke-width="0.9"/>
<path d="M369.6 40.2H387.4M378.5 34.8V45.6M376.5 34.8h4M376.5 45.6h4" stroke="#3f73b8" stroke-width="1.2" fill="none"/>
<text transform="translate(390.6 44.8) scale(1.045 1)" font-family="'Liberation Sans', Arial, Helvetica, sans-serif" font-size="13.5" fill="#111" stroke="#111" stroke-width="0.25">In-plane</text>
<path d="M369.6 57H387.4M378.5 51.6V62.4M376.5 51.6h4M376.5 62.4h4" stroke="#c95a27" stroke-width="1.2" fill="none"/>
<text transform="translate(390.6 61.6) scale(1.045 1)" font-family="'Liberation Sans', Arial, Helvetica, sans-serif" font-size="13.5" fill="#111" stroke="#111" stroke-width="0.25">Out-of-plane</text>
<text transform="translate(269.75 19.5) scale(1.045 1)" font-family="'Liberation Sans', Arial, Helvetica, sans-serif" font-size="14.7" fill="#000" stroke="#000" stroke-width="0.25" text-anchor="middle" font-weight="bold" textLength="333.97" lengthAdjust="spacingAndGlyphs">SQUID - sample vibrations, no vibration isolation</text>
<text transform="translate(202 261.2) scale(1.045 1)" font-family="'Liberation Sans', Arial, Helvetica, sans-serif" font-size="15.4" fill="#222222" stroke="#222222" stroke-width="0.25" textLength="73.21" lengthAdjust="spacingAndGlyphs">Frequency</text>
<text transform="translate(285 261.4) scale(1.045 1)" font-family="'Liberation Serif', 'Times New Roman', serif" font-size="14.8" fill="#222222" stroke="#222222" stroke-width="0.25" textLength="28.33" lengthAdjust="spacingAndGlyphs">[Hz]</text>
<g transform="translate(26.5 160.7) rotate(-90)"><text transform="translate(-0.3 0) scale(0.87 1.1)" font-family="'Liberation Serif', 'Times New Roman', serif" font-size="15.4" fill="#3f73b8" stroke="#3f73b8" stroke-width="0.3">nm</text><text transform="translate(18.2 1.3) scale(1.77 1.3)" font-family="'Liberation Serif', 'Times New Roman', serif" font-size="14.8" fill="#3f73b8" stroke="#3f73b8" stroke-width="0.3">/</text><text transform="translate(25.05 3.16) scale(0.76 1)" font-family="'DejaVu Sans', sans-serif" font-size="23.9" fill="#3f73b8" stroke="#3f73b8" stroke-width="0.3">√</text><path d="M36.2 -15.75H59.5" stroke="#3f73b8" stroke-width="1.0" fill="none"/><text transform="translate(37.3 0) scale(1.21 1)" font-family="'Liberation Serif', 'Times New Roman', serif" font-size="14.8" fill="#3f73b8" stroke="#3f73b8" stroke-width="0.3">Hz</text></g>
<g transform="translate(514.2 161.2) rotate(-90)"><text transform="translate(-0.3 0) scale(0.87 1.1)" font-family="'Liberation Serif', 'Times New Roman', serif" font-size="15.4" fill="#c95a27" stroke="#c95a27" stroke-width="0.3">nm</text><text transform="translate(18.2 1.3) scale(1.77 1.3)" font-family="'Liberation Serif', 'Times New Roman', serif" font-size="14.8" fill="#c95a27" stroke="#c95a27" stroke-width="0.3">/</text><text transform="translate(25.05 3.16) scale(0.76 1)" font-family="'DejaVu Sans', sans-serif" font-size="23.9" fill="#c95a27" stroke="#c95a27" stroke-width="0.3">√</text><path d="M36.2 -15.75H59.5" stroke="#c95a27" stroke-width="1.0" fill="none"/><text transform="translate(37.3 0) scale(1.21 1)" font-family="'Liberation Serif', 'Times New Roman', serif" font-size="14.8" fill="#c95a27" stroke="#c95a27" stroke-width="0.3">Hz</text></g>
<text transform="translate(0 20.1) scale(1.07 1)" font-family="'Liberation Sans', Arial, Helvetica, sans-serif" font-size="24.3" fill="#111" stroke="#111" stroke-width="0.25">(a)</text>
<path d="M99.84 285.5V490.5M122.7 285.5V490.5M138.93 285.5V490.5M151.51 285.5V490.5M161.79 285.5V490.5M170.49 285.5V490.5M178.02 285.5V490.5M184.66 285.5V490.5M229.69 285.5V490.5M252.55 285.5V490.5M268.78 285.5V490.5M281.36 285.5V490.5M291.64 285.5V490.5M300.34 285.5V490.5M307.87 285.5V490.5M314.51 285.5V490.5M359.54 285.5V490.5M382.4 285.5V490.5M398.63 285.5V490.5M411.21 285.5V490.5M421.49 285.5V490.5M430.19 285.5V490.5M437.72 285.5V490.5M444.36 285.5V490.5" stroke="#f4f4f4" stroke-width="0.7" fill="none"/>
<path d="M190.6 285.5V490.5M320.45 285.5V490.5M450.3 285.5V490.5M60.75 439.25H473.25M60.75 388H473.25M60.75 336.75H473.25" stroke="#ebebeb" stroke-width="0.8" fill="none"/>
<clipPath id="c2"><rect x="60.75" y="284.5" width="413.5" height="207"/></clipPath>
<g clip-path="url(#c2)">
<path d="M60.75 489.95L99.84 489.95L122.7 489.95L138.93 489.95L151.51 489.95L161.79 489.95L170.49 489.95L178.02 489.95L184.66 489.95L190.6 489.95L195.97 489.5L200.88 487L205.4 487.3L209.57 489.5L213.47 489.95L217.1 489.95L220.52 489.95L223.75 489.95L226.8 489.95L229.69 489.95L232.44 489.95L235.06 489L237.57 489.95L239.97 489.95L242.27 489.95L244.48 489.95L246.61 489.95L248.66 489.95L250.64 489.95L252.55 489.95L254.4 489.6L256.19 489.5L257.93 489.08L259.61 489.3L261.25 489.41L262.84 489.62L264.38 489.41L265.88 489.77L267.35 489.09L268.78 489.15L270.17 489.09L271.53 489.92L272.86 489.29L274.15 489.2L275.42 489.5L276.66 489.02L277.87 489.02L279.06 489.21L280.22 489.11L281.36 489.32L282.48 489.05L283.57 489.94L284.65 489.26L285.7 489.26L286.74 489.37L287.75 489.77L288.75 490.02L289.73 489.38L290.7 486.5L291.64 462.75L292.58 486.5L293.49 489.83L294.39 489.99L295.28 489.29L296.16 487.5L297.02 486L297.87 485L298.7 484.5L299.52 452.5L300.34 311.5L301.14 416.5L301.92 483.5L302.7 485L303.47 485.5L304.23 486.5L304.97 487.5L305.71 489.57L306.44 489.43L307.16 489.13L307.87 490.05L308.57 489.11L309.26 489.97L309.94 489.83L310.62 489.34L311.29 489.69L311.94 489.7L312.6 489.42L313.24 489.84L313.88 489.15L314.51 489.85L315.13 489.09L315.75 489.13L316.36 489.46L316.96 486.5L317.56 481.25L318.15 454.5L318.73 484.5L319.31 487.5L319.88 490.02L320.45 489.34L321.01 489.23L321.57 489.4L322.12 489.62L322.66 489.49L323.2 489.39L323.74 486.5L324.27 483L324.79 486.5L325.31 489.13L325.82 488.95L326.34 489.7L326.84 488.92L327.34 490.01L327.84 489.53L328.33 489.94L328.82 489.56L329.3 489.28L329.78 489.25L330.26 489.55L330.73 489.69L331.2 489.87L331.66 489.62L332.12 489.76L332.58 489.87L333.03 489.22L333.48 489.48L333.93 489.57L334.37 489.86L334.81 489.26L335.25 489.86L335.68 489.78L336.11 489.43L336.53 489.26L336.95 488.93L337.37 489.2L337.79 488.96L338.2 489L338.61 489.23L339.02 489.24L339.42 490.02L339.83 489.85L340.22 490.08L340.62 489.06L341.01 489.23L341.4 489.34L341.79 489.78L342.18 489.67L342.56 489.9L342.94 489.34L343.32 488.91L343.69 489.73L344.06 490.05L344.43 489.89L344.8 489.67L345.16 489.02L345.53 489.13L345.89 489.55L346.25 489.98L346.6 489.97L346.95 489.92L347.31 489.17L347.66 489.53L348 488.91L348.35 489.01L348.69 489.15L349.03 489.53L349.37 489.11L349.71 489.95L350.04 489.97L350.37 489.42L350.7 489.49L351.03 489.85L351.36 489.8L351.69 490.07L352.01 489.01L352.33 489.25L352.65 488.97L352.97 488.92L353.28 486.25L353.6 489.22L353.91 489.64L354.22 489.13L354.53 489.09L354.84 489.94L355.14 490.08L355.45 489.84L355.75 489.4L356.05 489.65L356.35 490.09L356.65 489.1L356.94 489.16L357.24 489.54L357.53 490.05L357.82 489.03L358.11 489.46L358.4 490.01L358.69 489.71L358.97 489.35L359.26 489.04L359.54 489.52L359.82 489.33L360.1 489.85L360.38 489.81L360.66 489.01L360.93 489.64L361.21 489.98L361.48 489.39L361.75 489.95L362.02 489.86L362.29 489.55L362.56 489.4L362.82 489.34L363.09 489.25L363.35 489.57L363.62 490.02L363.88 489.23L364.14 490.04L364.4 489.54L364.66 489.62L364.91 489.29L365.17 489.24L365.42 489.81L365.68 489.32L365.93 489.27L366.18 489.53L366.43 489.93L366.68 489.01L366.93 489.38L367.17 490.02L367.42 487L367.67 488.92L367.91 489.83L368.15 489.63L368.39 489.15L368.63 489.11L368.87 489.34L369.11 489.21L369.35 490.05L369.58 489.99L369.82 488.93L370.05 489.14L370.29 490.05L370.52 490.04L370.75 489.81L370.98 488.98L371.21 489.84L371.44 489.29L371.67 488.98L371.9 489.33L372.12 489L372.35 489.78L372.57 489.92L372.8 490.08L373.02 489.19L373.24 489.98L373.46 488.93L373.68 489.25L373.9 489.88L374.12 489.13L374.33 489.9L374.55 489.49L374.77 489.97L374.98 489.16L375.2 489.03L375.41 489L375.62 490.1L375.83 489.08L376.04 489.43L376.25 489.11L376.46 487.5L376.67 489.36L376.88 489.39L377.09 489.14L377.29 490.01L377.5 485.5L377.7 489.45L377.91 489.75L378.11 489.62L378.31 490.09L378.51 482.5L378.71 490.07L378.91 489.1L379.11 475L379.31 463.75L379.51 437.5L379.71 470.5L379.91 478.5L380.1 489.59L380.3 489.97L380.49 481.5L380.69 489.44L380.88 489.68L381.07 489.99L381.26 489.22L381.46 475L381.65 481.5L381.84 489.98L382.03 489.66L382.22 489.74L382.4 478.5L382.59 489.92L382.78 489.37L382.97 488.93L383.15 489.18L383.34 471L383.52 480.5L383.7 489.96L383.89 489.27L384.07 489.38L384.25 484.5L384.43 489.55L384.62 489.61L384.8 489.37L384.98 489.32L385.16 489L385.33 489.22L385.51 489.14L385.69 489L385.87 489.1L386.04 487.5L386.22 490.06L386.4 489.28L386.57 489.08L386.74 489.58L386.92 489.05L387.09 489.88L387.26 488.97L387.44 489.57L387.61 489.25L387.78 489.8L387.95 489.74L388.12 489.68L388.29 489.71L388.46 489.99L388.63 489.57L388.8 488.92L388.96 489.32L389.13 488.98L389.3 489.19L389.46 489.1L389.63 488.91L389.79 489.2L389.96 489.77L390.12 489.8L390.29 489.61L390.45 490.07L390.61 489.82L390.77 489.04L390.94 488.99L391.1 489.71L391.26 489.18L391.42 489.17L391.58 489.03L391.74 489.15L391.9 489.46L392.06 489.97L392.21 489.11L392.37 489.72L392.53 489.35L392.69 489.66L392.84 489.46L393 488.94L393.15 489.91L393.31 489.46L393.46 489.32L393.62 489.45L393.77 488.97L393.93 489.61L394.08 489L394.23 489.27L394.38 488.94L394.54 489.99L394.69 489.85L394.84 489.76L394.99 489.01L395.14 490.08L395.29 489.79L395.44 489.24L395.59 488.91L395.73 489.89L395.88 489.57L396.03 489.28L396.18 489.27L396.33 489.2L396.47 489.2L396.62 489.8L396.76 489.79L396.91 490.07L397.05 489.27L397.2 489.85L397.34 489.79L397.49 488.94L397.63 489.33L397.78 489.39L397.92 489.31L398.06 489.38L398.2 489.27L398.34 489.74L398.49 490.02L398.63 490.02L398.77 490.08L398.91 489.67L399.05 489.93L399.19 489.96L399.33 489.51L399.47 488.94L399.61 489.27L399.74 489.77L399.88 489.18L400.02 489.89L400.16 489.98L400.29 489.74L400.43 489.61L400.57 489.27L400.7 489.57L400.84 489.23L400.97 489.99L401.11 488.98L401.24 489.69L401.38 489.1L401.51 490.06L401.65 489.11L401.78 489.83L401.91 489.07L402.05 489.14L402.18 489.3L402.31 489.77L402.44 490.09L402.57 489.87L402.71 489.01L402.84 489.91L402.97 489.31L403.1 489.4L403.23 489.31L403.36 489.88L403.49 489.93L403.62 489.98L403.75 488.92L403.87 489.64L404 489.32L404.13 489.42L404.26 489.83L404.39 490.02L404.51 490.08L404.64 489.08L404.77 489.94L404.89 488.94L405.02 489.66L405.14 489.23L405.27 489.93L405.39 489.15L405.52 489.8L405.64 489.66L405.77 489.47L405.89 489.97L406.02 487L406.14 489.14L406.26 489.76L406.39 489.64L406.51 489.18L406.63 489.83L406.75 489.87L406.88 489.84L407 489.64L407.12 489.66L407.24 489.33L407.36 489.53L407.48 489.06L407.6 490.04L407.72 489.3L407.84 489.1L407.96 489.82L408.08 490.06L408.2 489.57L408.32 489.96L408.44 489.55L408.56 489.25L408.67 489.99L408.79 489.96L408.91 489.52L409.03 489.89L409.14 489.82L409.26 489.57L409.38 489.96L409.49 490.02L409.61 489.67L409.73 489.54L409.84 488.98L409.96 489.43L410.07 490.01L410.19 489.83L410.3 489.21L410.42 489.42L410.53 489.06L410.64 488.95L410.76 489.07L410.87 489.97L410.99 488.97L411.1 489.47L411.21 489.81L411.32 489.9L411.44 489.06L411.55 489.85L411.66 490L411.77 489.78L411.88 488.99L412 489.55L412.11 489.22L412.22 490.01L412.33 489.56L412.44 489.72L412.55 489.85L412.66 489.3L412.77 489.67L412.88 489.96L412.99 488.92L413.1 489.52L413.21 489.88L413.31 490.09L413.42 489.32L413.53 489.48L413.64 490.07L413.75 489.54L413.86 489.21L413.96 489.46L414.07 489.82L414.18 489.5L414.28 489.37L414.39 489.32L414.5 489.93L414.6 489.14L414.71 488.97L414.82 489.21L414.92 489.07L415.03 489.66L415.13 489.02L415.24 489.88L415.34 489.83L415.45 489.38L415.55 489.02L415.66 490L415.76 489.84L415.86 490.06L415.97 489.57L416.07 489.93L416.17 489.87L416.28 489.2L416.38 489.4L416.48 488.97L416.59 489.62L416.69 489.29L416.79 490.08L416.89 488.96L416.99 489.82L417.1 489.53L417.2 489.49L417.3 488.96L417.4 489.51L417.5 488.91L417.6 489.35L417.7 489.84L417.8 489.1L417.9 489.86L418 488.9L418.1 489.55L418.2 489.83L418.3 488.95L418.4 489.71L418.5 489.61L418.6 489.69L418.7 489.3L418.8 490.07L418.9 489.65L418.99 489.91L419.09 489.11L419.19 490.1L419.29 489.37L419.39 489.79L419.48 489.56L419.58 489.43L419.68 489.25L419.78 489.93L419.87 489.81L419.97 489.96L420.07 488.95L420.16 489.92L420.26 489.94L420.35 489.47L420.45 489.4L420.55 489.04L420.64 490.03L420.74 489.82L420.83 489.9L420.93 489.4L421.02 489.56L421.12 489.61L421.21 489.03L421.3 489.31L421.4 489.07L421.49 488.95L421.59 489.78L421.68 488.97L421.77 489.61L421.87 490.04L421.96 489L422.05 487L422.15 490.08L422.24 489.75L422.33 489.75L422.43 488.94L422.52 489.06L422.61 489.6L422.7 489.46L422.79 489.08L422.89 489.13L422.98 489.32L423.07 489.48L423.16 489.96L423.25 489.81L423.34 489.31L423.43 489.4L423.52 489.14L423.61 489.02L423.7 488.95L423.8 489.87L423.89 490.01L423.98 489.02L424.07 489.42L424.15 489.88L424.24 489.27L424.33 489.79L424.42 489.82L424.51 489.66L424.6 489.47L424.69 489.29L424.78 490.01L424.87 489.21L424.96 489.35L425.04 489.53L425.13 489.29L425.22 489.14L425.31 490.09L425.4 489.53L425.48 489.29L425.57 489.25L425.66 489.32L425.75 489.88L425.83 488.95L425.92 489.16L426.01 489.82L426.09 489.58L426.18 488.95L426.27 489.85L426.35 489.61L426.44 488.95L426.52 489.02L426.61 489.82L426.7 489.22L426.78 489.67L426.87 489.3L426.95 489.18L427.04 489.95L427.12 489.83L427.21 489.84L427.29 489.78L427.38 490.06L427.46 489.94L427.55 489.61L427.63 489.6L427.72 490.01L427.8 489.4L427.88 488.97L427.97 489.41L428.05 489.67L428.14 489.25L428.22 489.58L428.3 489.89L428.39 489.52L428.47 490.08L428.55 489.29L428.63 489.91L428.72 489.66L428.8 488.95L428.88 489.18L428.96 489.1L429.05 489.33L429.13 489.34L429.21 489.25L429.29 488.94L429.37 489.86L429.46 489.18L429.54 489.74L429.62 489.79L429.7 489.11L429.78 489.38L429.86 489.08L429.94 489.05L430.02 489.39L430.11 489.86L430.19 490.08L430.27 489.46L430.35 489.23L430.43 489.77L430.51 490.02L430.59 490.09L430.67 489.89L430.75 489.26L430.83 490.1L430.91 489.82L430.99 489.78L431.07 489.25L431.14 488.92L431.22 490.08L431.3 489.96L431.38 488.98L431.46 488.94L431.54 489.92L431.62 489.7L431.7 489.47L431.77 489.72L431.85 489.6L431.93 489.53L432.01 489.79L432.09 490.03L432.16 490L432.24 489.91L432.32 489.99L432.4 489.35L432.48 489.26L432.55 489.78L432.63 489.15L432.71 489.23L432.78 489.69L432.86 489.51L432.94 489.87L433.01 488.99L433.09 489.43L433.17 490.04L433.24 489.92L433.32 489.27L433.4 489.64L433.47 489.24L433.55 489.82L433.62 489.14L433.7 489.14L433.78 489.99L433.85 489.4L433.93 489.87L434 489.25L434.08 489.14L434.15 489.15L434.23 489.82L434.3 489.99L434.38 489.3L434.45 489.42L434.53 489.93L434.6 489.87L434.68 489.4L434.75 489.97L434.82 489.34L434.9 489.81L434.97 489.79L435.05 489.59L435.12 489.46L435.19 489.23L435.27 490.06L435.34 489.23L435.41 489.83L435.49 489.75L435.56 489.33L435.63 489.27L435.71 489.36L435.78 489.02L435.85 489.85L435.93 489.73L436 489.3L436.07 489.79L436.14 489.91L436.22 489.83L436.29 489.17L436.36 489.11L436.43 489.24L436.5 488.95L436.58 489.15L436.65 489.73L436.72 489.72L436.79 489.23L436.86 490.03L436.94 489.37L437.01 489.99L437.08 490.04L437.15 489.48L437.22 489.92L437.29 488.98L437.36 489.05L437.43 489.55L437.5 489.86L437.58 489.96L437.65 489.49L437.72 489.47L437.79 489.66L437.86 489.24L437.93 489.46L438 489.17L438.07 489.97L438.14 490.02L438.21 489.64L438.28 489.52L438.35 489.8L438.42 489.3L438.49 489.83L438.56 489.72L438.63 489.53L438.69 489.25L438.76 489.18L438.83 489.65L438.9 489.56L438.97 488.99L439.04 488.98L439.11 489.36L439.18 489.97L439.25 489.55L439.31 489.34L439.38 489.77L439.45 490.06L439.52 488.92L439.59 489.01L439.66 489.95L439.72 489.54L439.79 489.36L439.86 489.74L439.93 490.02L440 489.2L440.06 489.18L440.13 489.58L440.2 490L440.27 489.63L440.33 489.99L440.4 488.94L440.47 490.04L440.53 489.75L440.6 489.18L440.67 489.94L440.74 489.97L440.8 490.02L440.87 489.9L440.94 489.46L441 489.1L441.07 489.9L441.14 489.89L441.2 489.18L441.27 489.59L441.33 489.69L441.4 489.95L441.47 489.81L441.53 488.93L441.6 489.96L441.66 489.79L441.73 489.21L441.79 489.03L441.86 489.01L441.93 489.53L441.99 488.95L442.06 489.38L442.12 489.75L442.19 489.54L442.25 489.24L442.32 489.22L442.38 489.94L442.45 489.87L442.51 488.95L442.58 489.97L442.64 489.12L442.71 489.69L442.77 489.8L442.83 489.79L442.9 489.54L442.96 488.91L443.03 489.92L443.09 489.07L443.16 489.71L443.22 489.89L443.28 489.21L443.35 489.69L443.41 489.87L443.47 489.6L443.54 489.11L443.6 489.06L443.66 489.41L443.73 490.09L443.79 489.18L443.85 489.37L443.92 489.02L443.98 488.96L444.04 489.71L444.11 489.08L444.17 489.12L444.23 489.78L444.3 489.66L444.36 489.65L444.42 489.68L444.48 489.65L444.55 489.97L444.61 489.83L444.67 489.01L444.73 489.61L444.8 489.34L444.86 489.04L444.92 489.19L444.98 489.81L445.04 489L445.11 489.13L445.17 488.91L445.23 489.23L445.29 489.19L445.35 489.12L445.41 489.8L445.48 489.31L445.54 489.64L445.6 489.09L445.66 489.94L445.72 489.45L445.78 489.7L445.84 489.12L445.9 489.69L445.96 489.09L446.03 489.08L446.09 489.05L446.15 489.93L446.21 488.97L446.27 489.21L446.33 489.29L446.39 489.32L446.45 490.04L446.51 489.06L446.57 489.44L446.63 489.55L446.69 489.69L446.75 489.16L446.81 486.5L446.87 489.06L446.93 482.5L446.99 480L447.05 482.5L447.11 489.98L447.17 486.5L447.23 490.07L447.29 489.14L447.35 489.83L447.41 490.02L447.47 490.02L447.53 489.21L447.59 489.86L447.64 489.55L447.7 489.62L447.76 489.14L447.82 488.96L447.88 489.73L447.94 489.34L448 489.03L448.06 489.54L448.12 489.02L448.17 489.22L448.23 489.73L448.29 489.05L448.35 489.41L448.41 489.97L448.47 489.4L448.52 489.1L448.58 489.48L448.64 489.52L448.7 489.6L448.76 489.04L448.81 489.3L448.87 489.85L448.93 489.67L448.99 489.66L449.05 488.95L449.1 489.26L449.16 489.95L449.22 489L449.28 490.06L449.33 489.39L449.39 489.58L449.45 489.24L449.5 489.58L449.56 489.99L449.62 489.47L449.68 489.12L449.73 489.15L449.79 489.67L449.85 489.83L449.9 489.21L449.96 489.14L450.02 489.84L450.07 489.04L450.13 488.91L450.19 489.58L450.24 489.64L450.3 489.25L450.36 488.98L450.41 489.86L450.47 489.74L450.53 489.71L450.58 489.22L450.64 489.88L450.69 489.44L450.75 489.5L450.81 489.3L450.86 489.93L450.92 488.95L450.97 488.9L451.03 489.43L451.08 489.15L451.14 489.88L451.2 489.01L451.25 489.44L451.31 489.19L451.36 489.06L451.42 489.67L451.47 488.99L451.53 489.85L451.58 490.07L451.64 489.5L451.69 489.02L451.75 489.02L451.8 488.95L451.86 489.49L451.91 488.98L451.97 489.43L452.02 489.93L452.08 489.34L452.13 489.14L452.19 489.59L452.24 489.38L452.29 489.79L452.35 489.77L452.4 489.6L452.46 489.48L452.51 489.54L452.57 489.99L452.62 490.09L452.67 489.69L452.73 489.24L452.78 489.2L452.84 489.82L452.89 489.79L452.94 489.48L453 489.89L453.05 489.38L453.11 489.02L453.16 489.86L453.21 489.4L453.27 489.24L453.32 489.2L453.37 489.25L453.43 489.25L453.48 489.77L453.53 489.09L453.59 488.99L453.64 490.04L453.69 488.97L453.75 489.57L453.8 490L453.85 490.02L453.9 489.14L453.96 489.29L454.01 489.93L454.06 489.55L454.12 489.33L454.17 488.9L454.22 489.7L454.27 489.18L454.33 489.81L454.38 489.86L454.43 489.91L454.48 489.61L454.54 489.36L454.59 489.74L454.64 489.91L454.69 489.84L454.74 490L454.8 489.87L454.85 489.72L454.9 489.49L454.95 489.88L455 489.52L455.06 489.57L455.11 488.93L455.16 489.52L455.21 488.97L455.26 489.53L455.31 489.86L455.37 489.39L455.42 489.93L455.47 489.9L455.52 490.01L455.57 489.26L455.62 488.94L455.67 489.62L455.73 489.68L455.78 489.59L455.83 489.68L455.88 489.27L455.93 489.63L455.98 489.92L456.03 489.06L456.08 489.41L456.13 490.09L456.19 489.08L456.24 489.23L456.29 489.67L456.34 489.34L456.39 489L456.44 489.62L456.49 489.58L456.54 489.74L456.59 489.43L456.64 489.3L456.69 489.22L456.74 488.96L456.79 489.93L456.84 489.66L456.89 489.08L456.94 489.15L456.99 489.39L457.04 489.29L457.09 489.69L457.14 488.97L457.19 489.44L457.24 489.62L457.29 489.88L457.34 489.96L457.39 489.02L457.44 489.14L457.49 490.07L457.54 489.71L457.59 489.52L457.64 489.51L457.69 489.66L457.74 489.03L457.79 489.68L457.84 489.46L457.89 488.98L457.94 489.33L457.99 489.53L458.03 489.7L458.08 489.64L458.13 489.37L458.18 489.16L458.23 489.79L458.28 489.66L458.33 489.63L458.38 489.66L458.43 489L458.48 489.45L458.52 489.77L458.57 489.7L458.62 489.11L458.67 489.91L458.72 489.27L458.77 490.07L458.82 489.87L458.86 490.03L458.91 489.13L458.96 489.92L459.01 489.83L459.06 490.03L459.11 489.78L459.15 489.22L459.2 489.24L459.25 489.01L459.3 488.96L459.35 489.44L459.39 488.99L459.44 489.99L459.49 488.99L459.54 489.58L459.59 489.87L459.63 489.2L459.68 489.07L459.73 489.64L459.78 489.99L459.82 489.05L459.87 489.2L459.92 489.38L459.97 488.93L460.01 490.05L460.06 490.03L460.11 489.95L460.16 490.07L460.2 489.25L460.25 489.34L460.3 489.97L460.35 489.91L460.39 489.88L460.44 489.37L460.49 489.29L460.53 488.94L460.58 489.67L460.63 488.93L460.68 489.58L460.72 489.63L460.77 489.8L460.82 489.82L460.86 488.93L460.91 488.91L460.96 489.25L461 489.89L461.05 489.88L461.1 489.92L461.14 489.68L461.19 489.22L461.24 490.03L461.28 489.46L461.33 489.28L461.37 490.06L461.42 489.57L461.47 489.15L461.51 489.41L461.56 489.56L461.61 489.04L461.65 489.38L461.7 489.7L461.74 489.62L461.79 488.97L461.84 489.07L461.88 489L461.93 489.43L461.97 489.93L462.02 489.89L462.07 489.64L462.11 489.27L462.16 490.09L462.2 489.14L462.25 489.16L462.29 489.48L462.34 490.09L462.39 489.14L462.43 489.6L462.48 489.3L462.52 489.42L462.57 489.23L462.61 489.61L462.66 488.95L462.7 488.95L462.75 488.99L462.79 489.36L462.84 489.72L462.88 489.65L462.93 489.78L462.97 489.02L463.02 489.15L463.06 489.15L463.11 489.11L463.15 488.91L463.2 489.27L463.24 489.72L463.29 489.19L463.33 489.79L463.38 489.37L463.42 489.91L463.47 489.07L463.51 489.51L463.56 489.77L463.6 488.99L463.65 490L463.69 488.98L463.73 489.19L463.78 489.92L463.82 489.19L463.87 489.41L463.91 489.01L463.96 489.4L464 489.59L464.04 488.98L464.09 490L464.13 489.17L464.18 489.98L464.22 489.77L464.27 489.96L464.31 489.05L464.35 489.57L464.4 489.23L464.44 489.79L464.48 489.22L464.53 489.32L464.57 489.98L464.62 489.51L464.66 489.23L464.7 489.84L464.75 489.31L464.79 489.77L464.83 489.66L464.88 489L464.92 488.97L464.97 488.9L465.01 489.59L465.05 489.41L465.1 489.13L465.14 489.19L465.18 489.55L465.23 489.06L465.27 489.62L465.31 488.96L465.36 489.53L465.4 489.96L465.44 489.2L465.48 489.93L465.53 489.28L465.57 490.04L465.61 488.91L465.66 489.45L465.7 489.21L465.74 489.94L465.79 489.34L465.83 489.65L465.87 489.8L465.91 489.12L465.96 490.06L466 489.53L466.04 490L466.08 489.08L466.13 489.03L466.17 490.06L466.21 489.54L466.25 489.54L466.3 489.24L466.34 489.23L466.38 489.69L466.42 488.98L466.47 489.88L466.51 489.94L466.55 489.12L466.59 489.96L466.64 489.88L466.68 489.5L466.72 489.7L466.76 489.9L466.8 488.98L466.85 489.53L466.89 489.16L466.93 489.8L466.97 489L467.01 489.83L467.06 489.01L467.1 489.36L467.14 488.93L467.18 489.17L467.22 489.34L467.27 489.46L467.31 489.07L467.35 489.57L467.39 489.98L467.43 489L467.47 489.13L467.52 489.28L467.56 489.21L467.6 489.82L467.64 489.54L467.68 489.11L467.72 488.95L467.76 488.99L467.81 489.91L467.85 489.28L467.89 489.44L467.93 489.61L467.97 489.9L468.01 489.94L468.05 489.54L468.09 489.51L468.14 489.78L468.18 489.66L468.22 489.44L468.26 489.19L468.3 489.39L468.34 489.91L468.38 489.04L468.42 489.66L468.46 488.95L468.5 488.92L468.54 489.93L468.59 489.4L468.63 488.94L468.67 489.64L468.71 489.44L468.75 489.72L468.79 490.07L468.83 489.85L468.87 489.95L468.91 489.76L468.95 489.34L468.99 489.42L469.03 488.96L469.07 489.28L469.11 489.67L469.15 488.96L469.19 489.34L469.23 489.45L469.27 489.06L469.31 489.3L469.36 489.67L469.4 489.37L469.44 489.74L469.48 488.94L469.52 489.81L469.56 488.93L469.6 490.02L469.64 490.09L469.68 489.44L469.72 489.85L469.76 489.49L469.8 489.96L469.84 489.1L469.88 489.3L469.92 489.28L469.96 488.99L470 488.91L470.03 489.29L470.07 489.24L470.11 490.1L470.15 490.04L470.19 489.59L470.23 488.94L470.27 489.72L470.31 489.42L470.35 490.09L470.39 489.6L470.43 489.02L470.47 489.39L470.51 489.11L470.55 490.08L470.59 489.86L470.63 489.88L470.67 489.1L470.71 489.98L470.75 488.98L470.78 489.78L470.82 489.04L470.86 489.48L470.9 489.71L470.94 488.94L470.98 489.61L471.02 489.26L471.06 490.02L471.1 489.1L471.14 488.92L471.18 489.97L471.21 489.2L471.25 489.78L471.29 489.92L471.33 489.66L471.37 489.31L471.41 488.96L471.45 488.91L471.49 488.91L471.53 489.35L471.56 489.32L471.6 489.91L471.64 489.23L471.68 489.44L471.72 489.67L471.76 489.02L471.8 489.79L471.83 489.93L471.87 489.91L471.91 489.92L471.95 489.39L471.99 489.14L472.03 489.91L472.06 489.5L472.1 489.41L472.14 489.43L472.18 489.6L472.22 489.45L472.26 490.08L472.29 490.03L472.33 489.59L472.37 489.82L472.41 489.19L472.45 489.81L472.48 489.11L472.52 489.81L472.56 489.99L472.6 489.53L472.64 489.63L472.67 489.7L472.71 489.18L472.75 489.83L472.79 489.3L472.83 489.1L472.86 489.56L472.9 489.5L472.94 488.99L472.98 489.38L473.01 489.88L473.05 490.02L473.09 490L473.13 489.7L473.17 489.99" stroke="#3f73b8" stroke-width="1.25" fill="none" stroke-linejoin="round"/>
<path d="M60.75 489.45V490.45M58.55 489.45h4.4M58.55 490.45h4.4M99.84 489.45V490.45M97.64 489.45h4.4M97.64 490.45h4.4M122.7 489.45V490.45M120.5 489.45h4.4M120.5 490.45h4.4M138.93 489.45V490.45M136.73 489.45h4.4M136.73 490.45h4.4M151.51 489.45V490.45M149.31 489.45h4.4M149.31 490.45h4.4M161.79 489.45V490.45M159.59 489.45h4.4M159.59 490.45h4.4M170.49 489.45V490.45M168.29 489.45h4.4M168.29 490.45h4.4M178.02 489.45V490.45M175.82 489.45h4.4M175.82 490.45h4.4M184.66 489.45V490.45M182.46 489.45h4.4M182.46 490.45h4.4M190.6 489.45V490.45M188.4 489.45h4.4M188.4 490.45h4.4M195.97 489V490M193.77 489h4.4M193.77 490h4.4M200.88 486.5V487.5M198.68 486.5h4.4M198.68 487.5h4.4M205.4 486.8V487.8M203.2 486.8h4.4M203.2 487.8h4.4M209.57 489V490M207.37 489h4.4M207.37 490h4.4M213.47 489.45V490.45M211.27 489.45h4.4M211.27 490.45h4.4M217.1 489.45V490.45M214.9 489.45h4.4M214.9 490.45h4.4M220.52 489.45V490.45M218.32 489.45h4.4M218.32 490.45h4.4M223.75 489.45V490.45M221.55 489.45h4.4M221.55 490.45h4.4M226.8 489.45V490.45M224.6 489.45h4.4M224.6 490.45h4.4M229.69 489.45V490.45M227.49 489.45h4.4M227.49 490.45h4.4M232.44 489.45V490.45M230.24 489.45h4.4M230.24 490.45h4.4M235.06 488.5V489.5M232.86 488.5h4.4M232.86 489.5h4.4M237.57 489.45V490.45M235.37 489.45h4.4M235.37 490.45h4.4M239.97 489.45V490.45M237.77 489.45h4.4M237.77 490.45h4.4M242.27 489.45V490.45M240.07 489.45h4.4M240.07 490.45h4.4M244.48 489.45V490.45M242.28 489.45h4.4M242.28 490.45h4.4M246.61 489.45V490.45M244.41 489.45h4.4M244.41 490.45h4.4M248.66 489.45V490.45M246.46 489.45h4.4M246.46 490.45h4.4M250.64 489.45V490.45M248.44 489.45h4.4M248.44 490.45h4.4M252.55 489.45V490.45M250.35 489.45h4.4M250.35 490.45h4.4M254.4 489.1V490.1M252.2 489.1h4.4M252.2 490.1h4.4M256.19 489V490M253.99 489h4.4M253.99 490h4.4M257.93 488.58V489.58M255.73 488.58h4.4M255.73 489.58h4.4M259.61 488.8V489.8M257.41 488.8h4.4M257.41 489.8h4.4M261.25 488.91V489.91M259.05 488.91h4.4M259.05 489.91h4.4M262.84 489.12V490.12M260.64 489.12h4.4M260.64 490.12h4.4M264.38 488.91V489.91M262.18 488.91h4.4M262.18 489.91h4.4M265.88 489.27V490.27M263.68 489.27h4.4M263.68 490.27h4.4M267.35 488.59V489.59M265.15 488.59h4.4M265.15 489.59h4.4M268.78 488.65V489.65M266.58 488.65h4.4M266.58 489.65h4.4M270.17 488.59V489.59M267.97 488.59h4.4M267.97 489.59h4.4M271.53 489.42V490.42M269.33 489.42h4.4M269.33 490.42h4.4M272.86 488.79V489.79M270.66 488.79h4.4M270.66 489.79h4.4M274.15 488.7V489.7M271.95 488.7h4.4M271.95 489.7h4.4M275.42 489V490M273.22 489h4.4M273.22 490h4.4M276.66 488.52V489.52M274.46 488.52h4.4M274.46 489.52h4.4M277.87 488.52V489.52M275.67 488.52h4.4M275.67 489.52h4.4M279.06 488.71V489.71M276.86 488.71h4.4M276.86 489.71h4.4M280.22 488.61V489.61M278.02 488.61h4.4M278.02 489.61h4.4M281.36 488.82V489.82M279.16 488.82h4.4M279.16 489.82h4.4M282.48 488.55V489.55M280.28 488.55h4.4M280.28 489.55h4.4M283.57 489.44V490.44M281.37 489.44h4.4M281.37 490.44h4.4M284.65 488.76V489.76M282.45 488.76h4.4M282.45 489.76h4.4M285.7 488.76V489.76M283.5 488.76h4.4M283.5 489.76h4.4M286.74 488.87V489.87M284.54 488.87h4.4M284.54 489.87h4.4M287.75 489.27V490.27M285.55 489.27h4.4M285.55 490.27h4.4M288.75 489.52V490.5M286.55 489.52h4.4M286.55 490.5h4.4M289.73 488.88V489.88M287.53 488.88h4.4M287.53 489.88h4.4M290.7 486V487M288.5 486h4.4M288.5 487h4.4M291.64 459.25V466.25M289.44 459.25h4.4M289.44 466.25h4.4M292.58 486V487M290.38 486h4.4M290.38 487h4.4M293.49 489.33V490.33M291.29 489.33h4.4M291.29 490.33h4.4M294.39 489.49V490.49M292.19 489.49h4.4M292.19 490.49h4.4M295.28 488.79V489.79M293.08 488.79h4.4M293.08 489.79h4.4M296.16 487V488M293.96 487h4.4M293.96 488h4.4M297.02 485.5V486.5M294.82 485.5h4.4M294.82 486.5h4.4M297.87 484.5V485.5M295.67 484.5h4.4M295.67 485.5h4.4M298.7 484V485M296.5 484h4.4M296.5 485h4.4M299.52 451.44V453.56M297.32 451.44h4.4M297.32 453.56h4.4M300.34 305.5V317.5M298.14 305.5h4.4M298.14 317.5h4.4M301.14 414V419M298.94 414h4.4M298.94 419h4.4M301.92 483V484M299.72 483h4.4M299.72 484h4.4M302.7 484.5V485.5M300.5 484.5h4.4M300.5 485.5h4.4M303.47 485V486M301.27 485h4.4M301.27 486h4.4M304.23 486V487M302.03 486h4.4M302.03 487h4.4M304.97 487V488M302.77 487h4.4M302.77 488h4.4M305.71 489.07V490.07M303.51 489.07h4.4M303.51 490.07h4.4M306.44 488.93V489.93M304.24 488.93h4.4M304.24 489.93h4.4M307.16 488.63V489.63M304.96 488.63h4.4M304.96 489.63h4.4M307.87 489.55V490.5M305.67 489.55h4.4M305.67 490.5h4.4M308.57 488.61V489.61M306.37 488.61h4.4M306.37 489.61h4.4M309.26 489.47V490.47M307.06 489.47h4.4M307.06 490.47h4.4M309.94 489.33V490.33M307.74 489.33h4.4M307.74 490.33h4.4M310.62 488.84V489.84M308.42 488.84h4.4M308.42 489.84h4.4M311.29 489.19V490.19M309.09 489.19h4.4M309.09 490.19h4.4M311.94 489.2V490.2M309.74 489.2h4.4M309.74 490.2h4.4M312.6 488.92V489.92M310.4 488.92h4.4M310.4 489.92h4.4M313.24 489.34V490.34M311.04 489.34h4.4M311.04 490.34h4.4M313.88 488.65V489.65M311.68 488.65h4.4M311.68 489.65h4.4M314.51 489.35V490.35M312.31 489.35h4.4M312.31 490.35h4.4M315.13 488.59V489.59M312.93 488.59h4.4M312.93 489.59h4.4M315.75 488.63V489.63M313.55 488.63h4.4M313.55 489.63h4.4M316.36 488.96V489.96M314.16 488.96h4.4M314.16 489.96h4.4M316.96 486V487M314.76 486h4.4M314.76 487h4.4M317.56 480.75V481.75M315.36 480.75h4.4M315.36 481.75h4.4M318.15 452V457M315.95 452h4.4M315.95 457h4.4M318.73 484V485M316.53 484h4.4M316.53 485h4.4M319.31 487V488M317.11 487h4.4M317.11 488h4.4M319.88 489.52V490.5M317.68 489.52h4.4M317.68 490.5h4.4M320.45 488.84V489.84M318.25 488.84h4.4M318.25 489.84h4.4M321.01 488.73V489.73M318.81 488.73h4.4M318.81 489.73h4.4M321.57 488.9V489.9M319.37 488.9h4.4M319.37 489.9h4.4M322.12 489.12V490.12M319.92 489.12h4.4M319.92 490.12h4.4M323.2 488.89V489.89M321 488.89h4.4M321 489.89h4.4M324.27 482.5V483.5M322.07 482.5h4.4M322.07 483.5h4.4M325.31 488.63V489.63M323.11 488.63h4.4M323.11 489.63h4.4M326.34 489.2V490.2M324.14 489.2h4.4M324.14 490.2h4.4M327.34 489.51V490.5M325.14 489.51h4.4M325.14 490.5h4.4M328.33 489.44V490.44M326.13 489.44h4.4M326.13 490.44h4.4M329.3 488.78V489.78M327.1 488.78h4.4M327.1 489.78h4.4M330.26 489.05V490.05M328.06 489.05h4.4M328.06 490.05h4.4M331.2 489.37V490.37M329 489.37h4.4M329 490.37h4.4M332.12 489.26V490.26M329.92 489.26h4.4M329.92 490.26h4.4M333.03 488.72V489.72M330.83 488.72h4.4M330.83 489.72h4.4M333.93 489.07V490.07M331.73 489.07h4.4M331.73 490.07h4.4M334.81 488.76V489.76M332.61 488.76h4.4M332.61 489.76h4.4M335.68 489.28V490.28M333.48 489.28h4.4M333.48 490.28h4.4M336.53 488.76V489.76M334.33 488.76h4.4M334.33 489.76h4.4M337.37 488.7V489.7M335.17 488.7h4.4M335.17 489.7h4.4M338.2 488.5V489.5M336 488.5h4.4M336 489.5h4.4M339.02 488.74V489.74M336.82 488.74h4.4M336.82 489.74h4.4M339.83 489.35V490.35M337.63 489.35h4.4M337.63 490.35h4.4M340.62 488.56V489.56M338.42 488.56h4.4M338.42 489.56h4.4M341.4 488.84V489.84M339.2 488.84h4.4M339.2 489.84h4.4M342.18 489.17V490.17M339.98 489.17h4.4M339.98 490.17h4.4M342.94 488.84V489.84M340.74 488.84h4.4M340.74 489.84h4.4M343.69 489.23V490.23M341.49 489.23h4.4M341.49 490.23h4.4M344.43 489.39V490.39M342.23 489.39h4.4M342.23 490.39h4.4M345.16 488.52V489.52M342.96 488.52h4.4M342.96 489.52h4.4M345.89 489.05V490.05M343.69 489.05h4.4M343.69 490.05h4.4M346.6 489.47V490.47M344.4 489.47h4.4M344.4 490.47h4.4M347.31 488.67V489.67M345.11 488.67h4.4M345.11 489.67h4.4M348 488.41V489.41M345.8 488.41h4.4M345.8 489.41h4.4M348.69 488.65V489.65M346.49 488.65h4.4M346.49 489.65h4.4M349.37 488.61V489.61M347.17 488.61h4.4M347.17 489.61h4.4M350.04 489.47V490.47M347.84 489.47h4.4M347.84 490.47h4.4M350.7 488.99V489.99M348.5 488.99h4.4M348.5 489.99h4.4M351.36 489.3V490.3M349.16 489.3h4.4M349.16 490.3h4.4M352.01 488.51V489.51M349.81 488.51h4.4M349.81 489.51h4.4M352.65 488.47V489.47M350.45 488.47h4.4M350.45 489.47h4.4M353.28 485.75V486.75M351.08 485.75h4.4M351.08 486.75h4.4M353.91 489.14V490.14M351.71 489.14h4.4M351.71 490.14h4.4M354.53 488.59V489.59M352.33 488.59h4.4M352.33 489.59h4.4M355.14 489.58V490.5M352.94 489.58h4.4M352.94 490.5h4.4M355.75 488.9V489.9M353.55 488.9h4.4M353.55 489.9h4.4M356.35 489.59V490.5M354.15 489.59h4.4M354.15 490.5h4.4M356.94 488.66V489.66M354.74 488.66h4.4M354.74 489.66h4.4M357.53 489.55V490.5M355.33 489.55h4.4M355.33 490.5h4.4M358.11 488.96V489.96M355.91 488.96h4.4M355.91 489.96h4.4M358.69 489.21V490.21M356.49 489.21h4.4M356.49 490.21h4.4M359.26 488.54V489.54M357.06 488.54h4.4M357.06 489.54h4.4M359.82 488.83V489.83M357.62 488.83h4.4M357.62 489.83h4.4M360.38 489.31V490.31M358.18 489.31h4.4M358.18 490.31h4.4M360.93 489.14V490.14M358.73 489.14h4.4M358.73 490.14h4.4M361.75 489.45V490.45M359.55 489.45h4.4M359.55 490.45h4.4M362.56 488.9V489.9M360.36 488.9h4.4M360.36 489.9h4.4M363.35 489.07V490.07M361.15 489.07h4.4M361.15 490.07h4.4M364.14 489.54V490.5M361.94 489.54h4.4M361.94 490.5h4.4M364.91 488.79V489.79M362.71 488.79h4.4M362.71 489.79h4.4M365.68 488.82V489.82M363.48 488.82h4.4M363.48 489.82h4.4M366.43 489.43V490.43M364.23 489.43h4.4M364.23 490.43h4.4M367.17 489.52V490.5M364.97 489.52h4.4M364.97 490.5h4.4M367.91 489.33V490.33M365.71 489.33h4.4M365.71 490.33h4.4M368.63 488.61V489.61M366.43 488.61h4.4M366.43 489.61h4.4M369.35 489.55V490.5M367.15 489.55h4.4M367.15 490.5h4.4M370.05 488.64V489.64M367.85 488.64h4.4M367.85 489.64h4.4M370.75 489.31V490.31M368.55 489.31h4.4M368.55 490.31h4.4M371.44 488.79V489.79M369.24 488.79h4.4M369.24 489.79h4.4M372.12 488.5V489.5M369.92 488.5h4.4M369.92 489.5h4.4M372.8 489.58V490.5M370.6 489.58h4.4M370.6 490.5h4.4M373.46 488.43V489.43M371.26 488.43h4.4M371.26 489.43h4.4M374.12 488.63V489.63M371.92 488.63h4.4M371.92 489.63h4.4M374.77 489.47V490.47M372.57 489.47h4.4M372.57 490.47h4.4M375.41 488.5V489.5M373.21 488.5h4.4M373.21 489.5h4.4M376.04 488.93V489.93M373.84 488.93h4.4M373.84 489.93h4.4M376.67 488.86V489.86M374.47 488.86h4.4M374.47 489.86h4.4M377.29 489.51V490.5M375.09 489.51h4.4M375.09 490.5h4.4M377.91 489.25V490.25M375.71 489.25h4.4M375.71 490.25h4.4M378.51 482V483M376.31 482h4.4M376.31 483h4.4M379.11 474.5V475.5M376.91 474.5h4.4M376.91 475.5h4.4M379.31 463V464.5M377.11 463h4.4M377.11 464.5h4.4M379.51 435.25V439.75M377.31 435.25h4.4M377.31 439.75h4.4M379.71 469.94V471.06M377.51 469.94h4.4M377.51 471.06h4.4M379.91 478V479M377.71 478h4.4M377.71 479h4.4M380.1 489.09V490.09M377.9 489.09h4.4M377.9 490.09h4.4M380.49 481V482M378.29 481h4.4M378.29 482h4.4M380.69 488.94V489.94M378.49 488.94h4.4M378.49 489.94h4.4M381.26 488.72V489.72M379.06 488.72h4.4M379.06 489.72h4.4M381.46 474.5V475.5M379.26 474.5h4.4M379.26 475.5h4.4M381.65 481V482M379.45 481h4.4M379.45 482h4.4M381.84 489.48V490.48M379.64 489.48h4.4M379.64 490.48h4.4M382.4 478V479M380.2 478h4.4M380.2 479h4.4M382.59 489.42V490.42M380.39 489.42h4.4M380.39 490.42h4.4M383.15 488.68V489.68M380.95 488.68h4.4M380.95 489.68h4.4M383.34 470.45V471.55M381.14 470.45h4.4M381.14 471.55h4.4M383.52 480V481M381.32 480h4.4M381.32 481h4.4M383.7 489.46V490.46M381.5 489.46h4.4M381.5 490.46h4.4M384.43 489.05V490.05M382.23 489.05h4.4M382.23 490.05h4.4M385.16 488.5V489.5M382.96 488.5h4.4M382.96 489.5h4.4M385.87 488.6V489.6M383.67 488.6h4.4M383.67 489.6h4.4M386.57 488.58V489.58M384.37 488.58h4.4M384.37 489.58h4.4M387.26 488.47V489.47M385.06 488.47h4.4M385.06 489.47h4.4M387.95 489.24V490.24M385.75 489.24h4.4M385.75 490.24h4.4M388.63 489.07V490.07M386.43 489.07h4.4M386.43 490.07h4.4M389.3 488.69V489.69M387.1 488.69h4.4M387.1 489.69h4.4M389.96 489.27V490.27M387.76 489.27h4.4M387.76 490.27h4.4M390.61 489.32V490.32M388.41 489.32h4.4M388.41 490.32h4.4M391.26 488.68V489.68M389.06 488.68h4.4M389.06 489.68h4.4M391.9 488.96V489.96M389.7 488.96h4.4M389.7 489.96h4.4M392.53 488.85V489.85M390.33 488.85h4.4M390.33 489.85h4.4M393.15 489.41V490.41M390.95 489.41h4.4M390.95 490.41h4.4M393.77 488.47V489.47M391.57 488.47h4.4M391.57 489.47h4.4M394.38 488.44V489.44M392.18 488.44h4.4M392.18 489.44h4.4M394.99 488.51V489.51M392.79 488.51h4.4M392.79 489.51h4.4M395.59 488.41V489.41M393.39 488.41h4.4M393.39 489.41h4.4M396.18 488.77V489.77M393.98 488.77h4.4M393.98 489.77h4.4M396.76 489.29V490.29M394.56 489.29h4.4M394.56 490.29h4.4M397.34 489.29V490.29M395.14 489.29h4.4M395.14 490.29h4.4M397.92 488.81V489.81M395.72 488.81h4.4M395.72 489.81h4.4M398.49 489.52V490.5M396.29 489.52h4.4M396.29 490.5h4.4M399.05 489.43V490.43M396.85 489.43h4.4M396.85 490.43h4.4M399.61 488.77V489.77M397.41 488.77h4.4M397.41 489.77h4.4M400.16 489.48V490.48M397.96 489.48h4.4M397.96 490.48h4.4M400.84 488.73V489.73M398.64 488.73h4.4M398.64 489.73h4.4M401.51 489.56V490.5M399.31 489.56h4.4M399.31 490.5h4.4M402.18 488.8V489.8M399.98 488.8h4.4M399.98 489.8h4.4M402.84 489.41V490.41M400.64 489.41h4.4M400.64 490.41h4.4M403.49 489.43V490.43M401.29 489.43h4.4M401.29 490.43h4.4M404.13 488.92V489.92M401.93 488.92h4.4M401.93 489.92h4.4M404.77 489.44V490.44M402.57 489.44h4.4M402.57 490.44h4.4M405.39 488.65V489.65M403.19 488.65h4.4M403.19 489.65h4.4M406.02 486.5V487.5M403.82 486.5h4.4M403.82 487.5h4.4M406.63 489.33V490.33M404.43 489.33h4.4M404.43 490.33h4.4M407.24 488.83V489.83M405.04 488.83h4.4M405.04 489.83h4.4M407.84 488.6V489.6M405.64 488.6h4.4M405.64 489.6h4.4M408.44 489.05V490.05M406.24 489.05h4.4M406.24 490.05h4.4M409.03 489.39V490.39M406.83 489.39h4.4M406.83 490.39h4.4M409.61 489.17V490.17M407.41 489.17h4.4M407.41 490.17h4.4M410.19 489.33V490.33M407.99 489.33h4.4M407.99 490.33h4.4M410.76 488.57V489.57M408.56 488.57h4.4M408.56 489.57h4.4M411.32 489.4V490.4M409.12 489.4h4.4M409.12 490.4h4.4M411.88 488.49V489.49M409.68 488.49h4.4M409.68 489.49h4.4M412.44 489.22V490.22M410.24 489.22h4.4M410.24 490.22h4.4M413.1 489.02V490.02M410.9 489.02h4.4M410.9 490.02h4.4M413.75 489.04V490.04M411.55 489.04h4.4M411.55 490.04h4.4M414.39 488.82V489.82M412.19 488.82h4.4M412.19 489.82h4.4M415.03 489.16V490.16M412.83 489.16h4.4M412.83 490.16h4.4M415.66 489.5V490.5M413.46 489.5h4.4M413.46 490.5h4.4M416.28 488.7V489.7M414.08 488.7h4.4M414.08 489.7h4.4M416.89 488.46V489.46M414.69 488.46h4.4M414.69 489.46h4.4M417.5 488.41V489.41M415.3 488.41h4.4M415.3 489.41h4.4M418.1 489.05V490.05M415.9 489.05h4.4M415.9 490.05h4.4M418.7 488.8V489.8M416.5 488.8h4.4M416.5 489.8h4.4M419.29 488.87V489.87M417.09 488.87h4.4M417.09 489.87h4.4M419.87 489.31V490.31M417.67 489.31h4.4M417.67 490.31h4.4M420.45 488.9V489.9M418.25 488.9h4.4M418.25 489.9h4.4M421.02 489.06V490.06M418.82 489.06h4.4M418.82 490.06h4.4M421.59 489.28V490.28M419.39 489.28h4.4M419.39 490.28h4.4M422.15 489.58V490.5M419.95 489.58h4.4M419.95 490.5h4.4M422.7 488.96V489.96M420.5 488.96h4.4M420.5 489.96h4.4M423.34 488.81V489.81M421.14 488.81h4.4M421.14 489.81h4.4M423.98 488.52V489.52M421.78 488.52h4.4M421.78 489.52h4.4M424.6 488.97V489.97M422.4 488.97h4.4M422.4 489.97h4.4M425.22 488.64V489.64M423.02 488.64h4.4M423.02 489.64h4.4M425.83 488.45V489.45M423.63 488.45h4.4M423.63 489.45h4.4M426.44 488.45V489.45M424.24 488.45h4.4M424.24 489.45h4.4M427.04 489.45V490.45M424.84 489.45h4.4M424.84 490.45h4.4M427.63 489.1V490.1M425.43 489.1h4.4M425.43 490.1h4.4M428.22 489.08V490.08M426.02 489.08h4.4M426.02 490.08h4.4M428.8 488.45V489.45M426.6 488.45h4.4M426.6 489.45h4.4M429.37 489.36V490.36M427.17 489.36h4.4M427.17 490.36h4.4M429.94 488.55V489.55M427.74 488.55h4.4M427.74 489.55h4.4M430.51 489.52V490.5M428.31 489.52h4.4M428.31 490.5h4.4M431.07 488.75V489.75M428.87 488.75h4.4M428.87 489.75h4.4M431.62 489.2V490.2M429.42 489.2h4.4M429.42 490.2h4.4M432.24 489.41V490.41M430.04 489.41h4.4M430.04 490.41h4.4M432.86 489.01V490.01M430.66 489.01h4.4M430.66 490.01h4.4M433.47 488.74V489.74M431.27 488.74h4.4M431.27 489.74h4.4M434.08 488.64V489.64M431.88 488.64h4.4M431.88 489.64h4.4M434.68 488.9V489.9M432.48 488.9h4.4M432.48 489.9h4.4M435.27 489.56V490.5M433.07 489.56h4.4M433.07 490.5h4.4M435.85 489.35V490.35M433.65 489.35h4.4M433.65 490.35h4.4M436.43 488.74V489.74M434.23 488.74h4.4M434.23 489.74h4.4M437.01 489.49V490.49M434.81 489.49h4.4M434.81 490.49h4.4M437.58 489.46V490.46M435.38 489.46h4.4M435.38 490.46h4.4M438.14 489.52V490.5M435.94 489.52h4.4M435.94 490.5h4.4M438.69 488.75V489.75M436.49 488.75h4.4M436.49 489.75h4.4M439.25 489.05V490.05M437.05 489.05h4.4M437.05 490.05h4.4M439.86 489.24V490.24M437.66 489.24h4.4M437.66 490.24h4.4M440.47 489.54V490.5M438.27 489.54h4.4M438.27 490.5h4.4M441.07 489.4V490.4M438.87 489.4h4.4M438.87 490.4h4.4M441.66 489.29V490.29M439.46 489.29h4.4M439.46 490.29h4.4M442.25 488.74V489.74M440.05 488.74h4.4M440.05 489.74h4.4M442.83 489.29V490.29M440.63 489.29h4.4M440.63 490.29h4.4M443.41 489.37V490.37M441.21 489.37h4.4M441.21 490.37h4.4M443.98 488.46V489.46M441.78 488.46h4.4M441.78 489.46h4.4M444.55 489.47V490.47M442.35 489.47h4.4M442.35 490.47h4.4M445.11 488.63V489.63M442.91 488.63h4.4M442.91 489.63h4.4M445.66 489.44V490.44M443.46 489.44h4.4M443.46 490.44h4.4M446.27 488.71V489.71M444.07 488.71h4.4M444.07 489.71h4.4M446.87 488.56V489.56M444.67 488.56h4.4M444.67 489.56h4.4M446.99 479.5V480.5M444.79 479.5h4.4M444.79 480.5h4.4M447.47 489.52V490.5M445.27 489.52h4.4M445.27 490.5h4.4M448.06 489.04V490.04M445.86 489.04h4.4M445.86 490.04h4.4M448.64 489.02V490.02M446.44 489.02h4.4M446.44 490.02h4.4M449.22 488.5V489.5M447.02 488.5h4.4M447.02 489.5h4.4M449.79 489.17V490.17M447.59 489.17h4.4M447.59 490.17h4.4M450.36 488.48V489.48M448.16 488.48h4.4M448.16 489.48h4.4M450.92 488.45V489.45M448.72 488.45h4.4M448.72 489.45h4.4M451.47 488.49V489.49M449.27 488.49h4.4M449.27 489.49h4.4M452.08 488.84V489.84M449.88 488.84h4.4M449.88 489.84h4.4M452.67 489.19V490.19M450.47 489.19h4.4M450.47 490.19h4.4M453.27 488.74V489.74M451.07 488.74h4.4M451.07 489.74h4.4M453.85 489.52V490.5M451.65 489.52h4.4M451.65 490.5h4.4M454.43 489.41V490.41M452.23 489.41h4.4M452.23 490.41h4.4M455 489.02V490.02M452.8 489.02h4.4M452.8 490.02h4.4M455.57 488.76V489.76M453.37 488.76h4.4M453.37 489.76h4.4M456.13 489.59V490.5M453.93 489.59h4.4M453.93 490.5h4.4M456.69 488.72V489.72M454.49 488.72h4.4M454.49 489.72h4.4M457.24 489.12V490.12M455.04 489.12h4.4M455.04 490.12h4.4M457.84 488.96V489.96M455.64 488.96h4.4M455.64 489.96h4.4M458.43 488.5V489.5M456.23 488.5h4.4M456.23 489.5h4.4M459.01 489.33V490.33M456.81 489.33h4.4M456.81 490.33h4.4M459.59 489.37V490.37M457.39 489.37h4.4M457.39 490.37h4.4M460.16 489.57V490.5M457.96 489.57h4.4M457.96 490.5h4.4M460.72 489.13V490.13M458.52 489.13h4.4M458.52 490.13h4.4M461.28 488.96V489.96M459.08 488.96h4.4M459.08 489.96h4.4M461.84 488.57V489.57M459.64 488.57h4.4M459.64 489.57h4.4M462.43 489.1V490.1M460.23 489.1h4.4M460.23 490.1h4.4M463.02 488.65V489.65M460.82 488.65h4.4M460.82 489.65h4.4M463.6 488.49V489.49M461.4 488.49h4.4M461.4 489.49h4.4M464.18 489.48V490.48M461.98 489.48h4.4M461.98 490.48h4.4M464.75 488.81V489.81M462.55 488.81h4.4M462.55 489.81h4.4M465.31 488.46V489.46M463.11 488.46h4.4M463.11 489.46h4.4M465.87 489.3V490.3M463.67 489.3h4.4M463.67 490.3h4.4M466.42 488.48V489.48M464.22 488.48h4.4M464.22 489.48h4.4M467.01 489.33V490.33M464.81 489.33h4.4M464.81 490.33h4.4M467.6 489.32V490.32M465.4 489.32h4.4M465.4 490.32h4.4M468.18 489.16V490.16M465.98 489.16h4.4M465.98 490.16h4.4M468.75 489.22V490.22M466.55 489.22h4.4M466.55 490.22h4.4M469.31 488.8V489.8M467.11 488.8h4.4M467.11 489.8h4.4M469.88 488.8V489.8M467.68 488.8h4.4M467.68 489.8h4.4M470.43 488.52V489.52M468.23 488.52h4.4M468.23 489.52h4.4M471.02 488.76V489.76M468.82 488.76h4.4M468.82 489.76h4.4M471.6 489.41V490.41M469.4 489.41h4.4M469.4 490.41h4.4M472.18 489.1V490.1M469.98 489.1h4.4M469.98 490.1h4.4M472.75 489.33V490.33M470.55 489.33h4.4M470.55 490.33h4.4" stroke="#3f73b8" stroke-width="1.125" fill="none"/>
<path d="M60.75 468L99.84 479.25L122.7 483L138.93 484.88L151.51 486L161.79 486.75L170.49 487.29L178.02 487.69L184.66 488L190.6 488.25L195.97 488.45L200.88 486.25L205.4 486.5L209.57 488.89L213.47 489L217.1 489.09L220.52 489.18L223.75 489.25L226.8 489.32L229.69 489.38L232.44 489.43L235.06 488L237.57 489.52L239.97 489.56L242.27 489.6L244.48 489.6L246.61 489.6L248.66 489.6L250.64 489.6L252.55 489.6L254.4 489.6L256.19 489.6L257.93 489.6L259.61 489.6L261.25 489.6L262.84 489.6L264.38 489.6L265.88 489.6L267.35 489.6L268.78 489.35L270.17 489.58L271.53 489.69L272.86 489.49L274.15 489.06L275.42 489.76L276.66 489.85L277.87 489.69L279.06 489.68L280.22 489.09L281.36 489.29L282.48 489.57L283.57 489.83L284.65 489.95L285.7 489.88L286.74 489.15L287.75 489.35L288.75 489.84L289.73 489.37L290.7 489.94L291.64 481.25L292.58 489.66L293.49 489.9L294.39 489.26L295.28 489.28L296.16 489.49L297.02 489.83L297.87 489.33L298.7 489.57L299.52 489.34L300.34 489.91L301.14 489.1L301.92 490L302.7 489.78L303.47 489.6L304.23 489.8L304.97 489.91L305.71 489.31L306.44 489.01L307.16 489.67L307.87 489.73L308.57 489.33L309.26 489.78L309.94 489.6L310.62 489.31L311.29 489.57L311.94 489.84L312.6 489.93L313.24 489.46L313.88 489.01L314.51 489.08L315.13 489.9L315.75 489.5L316.36 489.51L316.96 489.81L317.56 489.33L318.15 489.5L318.73 489.19L319.31 489.71L319.88 489.07L320.45 489.19L321.01 489.53L321.57 489.86L322.12 489.52L322.66 489.87L323.2 489.31L323.74 489.3L324.27 489.42L324.79 489.02L325.31 489.95L325.82 489.28L326.34 489.2L326.84 489.89L327.34 489.68L327.84 489.95L328.33 489.42L328.82 489.28L329.3 489.65L329.78 489.3L330.26 489.63L330.73 489.29L331.2 489.72L331.66 489.02L332.12 489.56L332.58 490L333.03 489.91L333.48 489.27L333.93 489.14L334.37 489.36L334.81 489.84L335.25 489.13L335.68 489.28L336.11 489.88L336.53 489.62L336.95 489.33L337.37 490L337.79 489.96L338.2 489.65L338.61 489.13L339.02 489L339.42 489.68L339.83 489.09L340.22 489.21L340.62 489.13L341.01 489.41L341.4 489.03L341.79 489.36L342.18 489.05L342.56 489.43L342.94 489.8L343.32 489.48L343.69 489.52L344.06 489.66L344.43 489.63L344.8 489.49L345.16 489.41L345.53 489.78L345.89 489.72L346.25 489.5L346.6 489.5L346.95 489.58L347.31 489.34L347.66 489.81L348 489.47L348.35 489.72L348.69 489.23L349.03 489.3L349.37 489.22L349.71 489.48L350.04 489.75L350.37 489.07L350.7 489.49L351.03 489.62L351.36 489.71L351.69 489.6L352.01 489.29L352.33 489.18L352.65 489.52L352.97 489.27L353.28 489.79L353.6 489.55L353.91 489.64L354.22 489.69L354.53 489.64L354.84 489.25L355.14 489.27L355.45 489.79L355.75 489.77L356.05 489.22L356.35 489.35L356.65 489.32L356.94 489.36L357.24 489.31L357.53 489.73L357.82 489.94L358.11 489.64L358.4 489.97L358.69 489.04L358.97 489.48L359.26 489.33L359.54 489.03L359.82 489.2L360.1 489.77L360.38 489.66L360.66 489.89L360.93 489.2L361.21 489.26L361.48 489.51L361.75 489.63L362.02 489.73L362.29 489.51L362.56 489.29L362.82 489.1L363.09 489.15L363.35 489.13L363.62 489.56L363.88 489.58L364.14 489.69L364.4 489.03L364.66 489.82L364.91 489.84L365.17 489.72L365.42 489.08L365.68 489.15L365.93 489.67L366.18 489.15L366.43 489.11L366.68 489.57L366.93 489.81L367.17 489.23L367.42 489.63L367.67 489.88L367.91 489.1L368.15 489.56L368.39 489.6L368.63 489.4L368.87 489.74L369.11 489.98L369.35 489.61L369.58 489.62L369.82 489.99L370.05 489.63L370.29 489.24L370.52 489.67L370.75 489.32L370.98 489.38L371.21 489.81L371.44 489.98L371.67 489.33L371.9 489.39L372.12 489.71L372.35 489.8L372.57 489.14L372.8 489.09L373.02 489.77L373.24 489.41L373.46 489.43L373.68 489.68L373.9 489.64L374.12 489.67L374.33 489.36L374.55 489.25L374.77 489.2L374.98 489.15L375.2 489.13L375.41 489.04L375.62 488.59L375.83 488.75L376.04 488.2L376.25 488.11L376.46 488.05L376.67 487.59L376.88 487.37L377.09 487.42L377.29 487.66L377.5 487.09L377.7 487.08L377.91 487.09L378.11 486.29L378.31 486.34L378.51 486.84L378.71 486.63L378.91 486.41L379.11 486.08L379.31 486.3L379.51 486.12L379.71 485.66L379.91 486.38L380.1 485.77L380.3 486.25L380.49 485.6L380.69 485.66L380.88 486.43L381.07 486.22L381.26 486.85L381.46 486.66L381.65 486.59L381.84 486.72L382.03 487.15L382.22 487.57L382.4 487.64L382.59 487.46L382.78 487.92L382.97 487.99L383.15 487.96L383.34 487.97L383.52 488.36L383.7 488.66L383.89 488.66L384.07 488.94L384.25 488.89L384.43 489.26L384.62 489.34L384.8 489.41L384.98 489.14L385.16 489.69L385.33 489.12L385.51 489.64L385.69 489.66L385.87 489.39L386.04 489.44L386.22 489.72L386.4 489.92L386.57 489.04L386.74 489.63L386.92 489.89L387.09 489.34L387.26 489.47L387.44 489.67L387.61 489.67L387.78 489.15L387.95 489.66L388.12 489.58L388.29 489.04L388.46 489.64L388.63 489.6L388.8 489.84L388.96 489.34L389.13 489.34L389.3 489.55L389.46 489.59L389.63 489.77L389.79 489.21L389.96 489.54L390.12 489.17L390.29 489.63L390.45 489.27L390.61 489.97L390.77 489.78L390.94 489.04L391.1 489.32L391.26 489.32L391.42 489.5L391.58 489.53L391.74 489.8L391.9 489.83L392.06 489.35L392.21 489.31L392.37 489.74L392.53 489.36L392.69 489.86L392.84 489.39L393 489.83L393.15 489.49L393.31 489.69L393.46 489.45L393.62 489.87L393.77 489.52L393.93 489.38L394.08 489.87L394.23 489.69L394.38 489.32L394.54 489.45L394.69 489.38L394.84 489.22L394.99 489.43L395.14 489.78L395.29 489.56L395.44 489.17L395.59 489.43L395.73 489.25L395.88 489.64L396.03 489.55L396.18 489.03L396.33 489.18L396.47 489.35L396.62 489.89L396.76 489.39L396.91 489.97L397.05 489.07L397.2 489.03L397.34 489.27L397.49 489.73L397.63 489.15L397.78 489.82L397.92 489.17L398.06 489.48L398.2 489.98L398.34 489.11L398.49 489.56L398.63 489.17L398.77 489.31L398.91 489.47L399.05 489.14L399.19 489.8L399.33 489.1L399.47 489.66L399.61 489.97L399.74 489.66L399.88 489.93L400.02 489.93L400.16 489.38L400.29 489.88L400.43 489.84L400.57 489.71L400.7 489.72L400.84 489.08L400.97 489.09L401.11 489.13L401.24 489.01L401.38 489.56L401.51 489.2L401.65 489.72L401.78 489.07L401.91 489.19L402.05 489.27L402.18 489.77L402.31 489.91L402.44 489.07L402.57 489.45L402.71 489.39L402.84 489.14L402.97 489.86L403.1 489.3L403.23 489.54L403.36 489.21L403.49 489.54L403.62 489.8L403.75 489.04L403.87 489.72L404 489.26L404.13 489.17L404.26 489.75L404.39 489.3L404.51 489.6L404.64 489.78L404.77 489.78L404.89 489.05L405.02 489.63L405.14 489.49L405.27 489.5L405.39 489.97L405.52 489.25L405.64 489.25L405.77 489.12L405.89 489.64L406.02 489.79L406.14 489.65L406.26 489.27L406.39 489.34L406.51 489.59L406.63 489.48L406.75 489.85L406.88 489.08L407 489.53L407.12 489.49L407.24 489.21L407.36 489.8L407.48 489.28L407.6 489.65L407.72 489.19L407.84 489.91L407.96 489.72L408.08 489.36L408.2 489.52L408.32 489.62L408.44 489.42L408.56 489.78L408.67 489.56L408.79 490L408.91 489.2L409.03 489.75L409.14 489.17L409.26 489.45L409.38 489.4L409.49 489.37L409.61 489.87L409.73 489.22L409.84 489.71L409.96 489.14L410.07 489.21L410.19 489.32L410.3 489.18L410.42 489.56L410.53 489.33L410.64 489.05L410.76 489.81L410.87 489.9L410.99 489.59L411.1 489.49L411.21 489.85L411.32 489.78L411.44 489.13L411.55 489.61L411.66 489.85L411.77 489.82L411.88 489.42L412 489.81L412.11 489.52L412.22 489.46L412.33 489.56L412.44 489.5L412.55 489.16L412.66 489.98L412.77 489.07L412.88 489.8L412.99 489.96L413.1 489.23L413.21 489.43L413.31 489.46L413.42 489.78L413.53 489.22L413.64 489.69L413.75 489.27L413.86 489.77L413.96 489.43L414.07 489.35L414.18 489.63L414.28 489.52L414.39 489.93L414.5 489.36L414.6 489.31L414.71 489.85L414.82 489.45L414.92 489.27L415.03 489.9L415.13 489.16L415.24 489.13L415.34 489.95L415.45 489.75L415.55 489.92L415.66 489.75L415.76 489.91L415.86 489.51L415.97 489.75L416.07 489.7L416.17 489.54L416.28 489.63L416.38 489.21L416.48 489.28L416.59 489.89L416.69 489.78L416.79 489.99L416.89 489.67L416.99 489.89L417.1 489.3L417.2 489.22L417.3 489L417.4 489.79L417.5 489.96L417.6 489.24L417.7 489.59L417.8 489.07L417.9 489.61L418 489.69L418.1 489.93L418.2 489.05L418.3 489.49L418.4 489.56L418.5 489.56L418.6 489.23L418.7 489.17L418.8 489.52L418.9 489.82L418.99 489.59L419.09 489.11L419.19 489.59L419.29 489.34L419.39 489.44L419.48 489.54L419.58 489.43L419.68 489.75L419.78 489.44L419.87 489.14L419.97 489.92L420.07 489.63L420.16 489.12L420.26 489.02L420.35 489.99L420.45 489.37L420.55 489.37L420.64 489.16L420.74 489.53L420.83 489.87L420.93 489.7L421.02 489.29L421.12 489.27L421.21 489.8L421.3 489.36L421.4 489.34L421.49 489.34L421.59 489.98L421.68 489.56L421.77 489.68L421.87 489.4L421.96 489.66L422.05 489.87L422.15 489.33L422.24 489.71L422.33 489.21L422.43 489.69L422.52 489.45L422.61 489.19L422.7 489.88L422.79 489.27L422.89 489.93L422.98 489.06L423.07 489.97L423.16 489.28L423.25 489.63L423.34 489.82L423.43 489.61L423.52 489.5L423.61 489.59L423.7 489.88L423.8 489.48L423.89 489.7L423.98 489.03L424.07 489.62L424.15 489.56L424.24 489.77L424.33 489.03L424.42 489.68L424.51 489.35L424.6 489.17L424.69 489.61L424.78 489.24L424.87 489.72L424.96 489.89L425.04 489.96L425.13 489.55L425.22 489.13L425.31 489.8L425.4 489.56L425.48 489.24L425.57 489.72L425.66 489.85L425.75 489.48L425.83 489.57L425.92 489.06L426.01 489.1L426.09 489.76L426.18 489.44L426.27 489.58L426.35 489.97L426.44 489.56L426.52 489.08L426.61 489.7L426.7 489.41L426.78 489.29L426.87 489.94L426.95 489.08L427.04 489.89L427.12 489.7L427.21 489.28L427.29 489.98L427.38 489.62L427.46 489.87L427.55 489.53L427.63 489.98L427.72 489.85L427.8 489.78L427.88 489.92L427.97 489.91L428.05 489.81L428.14 489.48L428.22 489.86L428.3 489.18L428.39 489.58L428.47 489.75L428.55 489.76L428.63 489.16L428.72 489.95L428.8 489.26L428.88 489.9L428.96 489.06L429.05 489.59L429.13 489.4L429.21 489.14L429.29 489.9L429.37 489.94L429.46 489.31L429.54 489.41L429.62 489.28L429.7 489.72L429.78 489.5L429.86 489.81L429.94 489.56L430.02 489.72L430.11 489.41L430.19 489.7L430.27 489.73L430.35 489.36L430.43 489.91L430.51 489.2L430.59 489.5L430.67 489.77L430.75 489.89L430.83 489.49L430.91 489.5L430.99 489.28L431.07 489.63L431.14 489.59L431.22 489.11L431.3 489.73L431.38 489.02L431.46 489.11L431.54 489.01L431.62 489.06L431.7 489.74L431.77 489.19L431.85 489.39L431.93 489.8L432.01 489L432.09 489.35L432.16 489.19L432.24 489.44L432.32 489.92L432.4 489.14L432.48 489.82L432.55 489.74L432.63 489.38L432.71 489.81L432.78 489.54L432.86 489.29L432.94 489.9L433.01 489.34L433.09 489.9L433.17 489.52L433.24 489.35L433.32 489.31L433.4 489.96L433.47 489.81L433.55 489.04L433.62 489.61L433.7 489.58L433.78 489.63L433.85 489.3L433.93 489.26L434 489.35L434.08 489.6L434.15 489.43L434.23 489.48L434.3 489.81L434.38 489.05L434.45 489.04L434.53 489.22L434.6 489.01L434.68 489.53L434.75 489.16L434.82 489.76L434.9 489.26L434.97 489.29L435.05 489.06L435.12 489.17L435.19 489.12L435.27 489.73L435.34 489.21L435.41 489.52L435.49 489.69L435.56 489.63L435.63 489.2L435.71 489.16L435.78 489.16L435.85 489.33L435.93 489.83L436 489.84L436.07 489.43L436.14 489.79L436.22 489.66L436.29 489.9L436.36 489.85L436.43 489.28L436.5 489.78L436.58 489.15L436.65 489.67L436.72 489.15L436.79 489.7L436.86 489.73L436.94 489.61L437.01 489.99L437.08 489.56L437.15 489.62L437.22 489.99L437.29 489.14L437.36 489.62L437.43 490L437.5 489.04L437.58 489.77L437.65 489.75L437.72 489.98L437.79 489.9L437.86 489.29L437.93 489.42L438 489.5L438.07 489.75L438.14 489.71L438.21 489.03L438.28 489.63L438.35 489.01L438.42 489.11L438.49 489.88L438.56 489.15L438.63 489.98L438.69 489.29L438.76 489.19L438.83 489.3L438.9 489.45L438.97 489.19L439.04 489.85L439.11 489.46L439.18 489.73L439.25 489.6L439.31 489.81L439.38 489.29L439.45 489.43L439.52 489.22L439.59 489.37L439.66 489.4L439.72 489.08L439.79 489.19L439.86 489.43L439.93 489.67L440 489.07L440.06 489.63L440.13 489.9L440.2 489.67L440.27 489.29L440.33 489.07L440.4 489.35L440.47 489.34L440.53 489.06L440.6 489.22L440.67 489.55L440.74 489.54L440.8 489.24L440.87 489.68L440.94 489.89L441 489.38L441.07 489.19L441.14 489.75L441.2 489.32L441.27 489.11L441.33 489.87L441.4 489.86L441.47 489.51L441.53 489.67L441.6 489.05L441.66 489L441.73 489.55L441.79 489.21L441.86 489.37L441.93 489.83L441.99 489.03L442.06 489.83L442.12 489.92L442.19 489.55L442.25 489.98L442.32 489.52L442.38 489.59L442.45 489.05L442.51 489.59L442.58 489.15L442.64 489.22L442.71 489.41L442.77 489.76L442.83 489.7L442.9 489.51L442.96 489.6L443.03 489.35L443.09 489.49L443.16 489.68L443.22 489.39L443.28 489L443.35 489.8L443.41 489.66L443.47 489.99L443.54 489.91L443.6 489.94L443.66 489.58L443.73 489.16L443.79 489.3L443.85 489.03L443.92 489.16L443.98 489.41L444.04 489.42L444.11 489.99L444.17 489.62L444.23 489.74L444.3 489.38L444.36 489.93L444.42 489.46L444.48 489.62L444.55 489.51L444.61 489.6L444.67 489.9L444.73 489.27L444.8 489.2L444.86 489.4L444.92 489.88L444.98 489.4L445.04 489.13L445.11 489.01L445.17 489.24L445.23 489.95L445.29 489.12L445.35 489.33L445.41 489.72L445.48 489.08L445.54 489.17L445.6 489.1L445.66 489.75L445.72 489.42L445.78 489.62L445.84 489.7L445.9 489.24L445.96 489.38L446.03 489.67L446.09 489.46L446.15 489.07L446.21 489.43L446.27 489.09L446.33 489.43L446.39 489.01L446.45 489.97L446.51 489.54L446.57 489.45L446.63 489.27L446.69 489.03L446.75 489.38L446.81 489.52L446.87 489.37L446.93 489.47L446.99 489.3L447.05 489.05L447.11 489.99L447.17 489.68L447.23 489.12L447.29 489.94L447.35 489.21L447.41 489.97L447.47 489.35L447.53 489.2L447.59 489.76L447.64 489.62L447.7 489.77L447.76 489.3L447.82 489.47L447.88 489.39L447.94 489.67L448 489.41L448.06 489.05L448.12 489.22L448.17 489.05L448.23 489.75L448.29 489.48L448.35 489.61L448.41 489.65L448.47 489.2L448.52 489.83L448.58 489.44L448.64 489.23L448.7 489.06L448.76 489.98L448.81 489.73L448.87 489.51L448.93 489.06L448.99 489.84L449.05 489.16L449.1 489.6L449.16 489.45L449.22 489.07L449.28 489.94L449.33 489.67L449.39 489.84L449.45 489.87L449.5 489.7L449.56 489.3L449.62 489.42L449.68 489.88L449.73 489.2L449.79 489.49L449.85 489.86L449.9 489.18L449.96 489.18L450.02 489.78L450.07 489.06L450.13 489.19L450.19 489.77L450.24 490L450.3 489.13L450.36 489.17L450.41 489.9L450.47 489.23L450.53 489.23L450.58 489.37L450.64 489.17L450.69 489.02L450.75 489.67L450.81 489.17L450.86 489.08L450.92 489.69L450.97 489.32L451.03 489.32L451.08 489.15L451.14 489.43L451.2 489.72L451.25 489.75L451.31 489.46L451.36 489.86L451.42 489.14L451.47 489.11L451.53 489.76L451.58 489.3L451.64 489.33L451.69 489.88L451.75 489.22L451.8 489.23L451.86 489.69L451.91 489.9L451.97 489.72L452.02 489.23L452.08 489.53L452.13 489.18L452.19 489.84L452.24 489.89L452.29 489.65L452.35 489.12L452.4 489.84L452.46 489.93L452.51 489.25L452.57 489.91L452.62 489.33L452.67 489.92L452.73 489.75L452.78 489.34L452.84 489.13L452.89 489.59L452.94 489.55L453 489.97L453.05 489.66L453.11 489.76L453.16 489.21L453.21 489.29L453.27 489.22L453.32 489.47L453.37 489.3L453.43 489.87L453.48 489.61L453.53 489.71L453.59 489.72L453.64 489.26L453.69 489.79L453.75 489.67L453.8 489.72L453.85 489.14L453.9 489.36L453.96 489.52L454.01 489.62L454.06 489.08L454.12 489.06L454.17 489.55L454.22 489.43L454.27 489.14L454.33 489.74L454.38 489.74L454.43 489.9L454.48 489.5L454.54 489.23L454.59 489.84L454.64 489.57L454.69 489.01L454.74 489.52L454.8 489.62L454.85 489.16L454.9 489.11L454.95 489.62L455 489.88L455.06 489.36L455.11 489.26L455.16 489.08L455.21 489.34L455.26 489.69L455.31 489.49L455.37 489.71L455.42 489.55L455.47 489.53L455.52 489.09L455.57 489.09L455.62 489.07L455.67 489.52L455.73 489.04L455.78 489.86L455.83 489.08L455.88 489.36L455.93 489.13L455.98 489.59L456.03 489.01L456.08 489.97L456.13 489.15L456.19 489.18L456.24 489.63L456.29 489.17L456.34 489.79L456.39 489.25L456.44 489.53L456.49 489.59L456.54 489.8L456.59 489.2L456.64 489.27L456.69 489.9L456.74 489.02L456.79 489.78L456.84 489.62L456.89 489.59L456.94 489.42L456.99 489.11L457.04 489.05L457.09 489.37L457.14 489.63L457.19 489.76L457.24 489.64L457.29 489.48L457.34 489.42L457.39 489.55L457.44 489.02L457.49 489.5L457.54 489.65L457.59 489.58L457.64 489.59L457.69 489.06L457.74 489.41L457.79 489.4L457.84 489.37L457.89 489.3L457.94 489.59L457.99 489.51L458.03 489.29L458.08 489.02L458.13 489.44L458.18 489.46L458.23 489.56L458.28 489.1L458.33 489.31L458.38 489.05L458.43 489.11L458.48 489.33L458.52 489.17L458.57 488.96L458.62 488.83L458.67 489.2L458.72 488.9L458.77 489.1L458.82 488.69L458.86 488.73L458.91 488.87L458.96 489L459.01 489.05L459.06 488.45L459.11 488.49L459.15 488.92L459.2 489.1L459.25 488.96L459.3 488.13L459.35 489.05L459.39 488.19L459.44 488.45L459.49 488.37L459.54 488.34L459.59 488.45L459.63 488.22L459.68 488.75L459.73 487.66L459.78 488.65L459.82 488.56L459.87 487.8L459.92 487.78L459.97 487.49L460.01 487.58L460.06 487.17L460.11 488.42L460.16 488.43L460.2 488.03L460.25 487.1L460.3 488.06L460.35 487.37L460.39 486.88L460.44 487.88L460.49 487.16L460.53 486.4L460.58 486.59L460.63 487.17L460.68 486.94L460.72 487.26L460.77 485.79L460.82 486.06L460.86 486.18L460.91 486.91L460.96 485.87L461 486.32L461.05 485.5L461.1 486.43L461.14 485.07L461.19 485.44L461.24 485.93L461.28 485.53L461.33 484.77L461.37 485.39L461.42 484.07L461.47 486.66L461.51 483.96L461.56 484.37L461.61 484.92L461.65 483.66L461.7 485.75L461.74 485.03L461.79 483.65L461.84 483.12L461.88 484.53L461.93 482.17L461.97 480L462.02 478L462.07 475.5L462.11 472.5L462.16 468.5L462.2 463.5L462.25 425L462.29 379L462.34 460.5L462.39 466L462.43 470.5L462.48 474L462.52 477L462.57 479L462.61 480.5L462.66 484.49L462.7 482.42L462.75 482.66L462.79 483.6L462.84 483.43L462.88 485.99L462.93 485.94L462.97 485.36L463.02 486.13L463.06 485.36L463.11 483.85L463.15 484.42L463.2 484.22L463.24 486.33L463.29 486.42L463.33 487.02L463.38 486.47L463.42 487.09L463.47 486.03L463.51 486.67L463.56 485.89L463.6 486.25L463.65 486.26L463.69 486.99L463.73 486.16L463.78 486.35L463.82 486.39L463.87 486.96L463.91 487.05L463.96 487.46L464 487.98L464.04 487.27L464.09 487.07L464.13 487.89L464.18 486.81L464.22 486.86L464.27 486.98L464.31 487.12L464.35 487.7L464.4 488.23L464.44 488.14L464.48 487.52L464.53 487.24L464.57 488.51L464.62 488.7L464.66 488.28L464.7 488.33L464.75 488.07L464.79 488.72L464.83 487.88L464.88 488.53L464.92 487.92L464.97 488.63L465.01 488.69L465.05 488.87L465.1 488.08L465.14 488.52L465.18 488.32L465.23 489.12L465.27 488.69L465.31 488.55L465.36 488.36L465.4 488.45L465.44 489.23L465.48 489.03L465.53 488.53L465.57 488.96L465.61 488.65L465.66 489.25L465.7 489.33L465.74 488.78L465.79 489.32L465.83 489.13L465.87 489.02L465.91 489.18L465.96 488.97L466 488.99L466.04 489.07L466.08 489.49L466.13 489.17L466.17 489.47L466.21 489.46L466.25 489.18L466.3 489.6L466.34 489.38L466.38 489.14L466.42 489.67L466.47 489.44L466.51 489.24L466.55 489.53L466.59 489.07L466.64 489.66L466.68 489.56L466.72 489.04L466.76 489.66L466.8 489.03L466.85 489.11L466.89 489.62L466.93 489.45L466.97 489.06L467.01 489.61L467.06 489.15L467.1 489.23L467.14 489.25L467.18 489.4L467.22 489.7L467.27 489.04L467.31 489.84L467.35 489.22L467.39 489.28L467.43 489.68L467.47 489.32L467.52 489.59L467.56 489.25L467.6 489.96L467.64 489.07L467.68 489.62L467.72 489.2L467.76 489.53L467.81 489.19L467.85 489.7L467.89 489.45L467.93 489.97L467.97 489.51L468.01 489.92L468.05 489.14L468.09 489.32L468.14 489.57L468.18 489.03L468.22 489.05L468.26 489.04L468.3 489.92L468.34 489.3L468.38 489.27L468.42 489.39L468.46 489.98L468.5 489.08L468.54 489.56L468.59 489.4L468.63 489.19L468.67 489.72L468.71 489.97L468.75 489.08L468.79 489.73L468.83 489.96L468.87 489.86L468.91 489.01L468.95 489.26L468.99 489.79L469.03 489.85L469.07 489.1L469.11 489.34L469.15 489.42L469.19 489.87L469.23 489.59L469.27 489.05L469.31 490L469.36 489.58L469.4 489.94L469.44 489L469.48 489.9L469.52 489.05L469.56 489.16L469.6 489.27L469.64 489.96L469.68 489.3L469.72 489.51L469.76 489.51L469.8 489.85L469.84 489.49L469.88 489.2L469.92 489.87L469.96 489.12L470 489.58L470.03 489.73L470.07 489.76L470.11 489.54L470.15 489.35L470.19 489.43L470.23 489.11L470.27 489.49L470.31 489.49L470.35 489.01L470.39 489.78L470.43 489.98L470.47 489.67L470.51 489.69L470.55 489.88L470.59 489.58L470.63 489.97L470.67 489.08L470.71 489.52L470.75 489.12L470.78 489.3L470.82 489.27L470.86 489.24L470.9 489.7L470.94 489.27L470.98 489.79L471.02 489.45L471.06 489.4L471.1 489.22L471.14 489.83L471.18 489.66L471.21 489.18L471.25 489.2L471.29 489.02L471.33 489.88L471.37 489.79L471.41 489.89L471.45 489.28L471.49 489.25L471.53 489.35L471.56 489.22L471.6 489.48L471.64 489.44L471.68 489.08L471.72 489.35L471.76 489.34L471.8 489.41L471.83 489.51L471.87 489.24L471.91 489.43L471.95 489.87L471.99 489.57L472.03 489.58L472.06 489.57L472.1 489.44L472.14 489.64L472.18 489.61L472.22 489.57L472.26 489.63L472.29 489.03L472.33 489.91L472.37 489.98L472.41 489.28L472.45 489.6L472.48 489.55L472.52 489.41L472.56 489.63L472.6 489.76L472.64 489.98L472.67 489.13L472.71 489.06L472.75 489.71L472.79 489.53L472.83 489.68L472.86 489.94L472.9 489.11L472.94 489.16L472.98 489.76L473.01 489.75L473.05 489.3L473.09 489.2L473.13 489.53L473.17 489.61" stroke="#c95a27" stroke-width="1.25" fill="none" stroke-linejoin="round"/>
<path d="M60.75 467.37V468.63M58.65 467.37h4.2M58.65 468.63h4.2M99.84 478.8V479.7M97.74 478.8h4.2M97.74 479.7h4.2M122.7 482.55V483.45M120.6 482.55h4.2M120.6 483.45h4.2M138.93 484.43V485.32M136.83 484.43h4.2M136.83 485.32h4.2M151.51 485.55V486.45M149.41 485.55h4.2M149.41 486.45h4.2M161.79 486.3V487.2M159.69 486.3h4.2M159.69 487.2h4.2M170.49 486.84V487.74M168.39 486.84h4.2M168.39 487.74h4.2M178.02 487.24V488.14M175.92 487.24h4.2M175.92 488.14h4.2M184.66 487.55V488.45M182.56 487.55h4.2M182.56 488.45h4.2M190.6 487.8V488.7M188.5 487.8h4.2M188.5 488.7h4.2M195.97 488V488.9M193.87 488h4.2M193.87 488.9h4.2M200.88 485.8V486.7M198.78 485.8h4.2M198.78 486.7h4.2M205.4 486.05V486.95M203.3 486.05h4.2M203.3 486.95h4.2M209.57 488.44V489.34M207.47 488.44h4.2M207.47 489.34h4.2M213.47 488.55V489.45M211.37 488.55h4.2M211.37 489.45h4.2M217.1 488.64V489.54M215 488.64h4.2M215 489.54h4.2M220.52 488.73V489.63M218.42 488.73h4.2M218.42 489.63h4.2M223.75 488.8V489.7M221.65 488.8h4.2M221.65 489.7h4.2M226.8 488.87V489.77M224.7 488.87h4.2M224.7 489.77h4.2M229.69 488.93V489.82M227.59 488.93h4.2M227.59 489.82h4.2M232.44 488.98V489.88M230.34 488.98h4.2M230.34 489.88h4.2M235.06 487.55V488.45M232.96 487.55h4.2M232.96 488.45h4.2M237.57 489.07V489.97M235.47 489.07h4.2M235.47 489.97h4.2M239.97 489.11V490.01M237.87 489.11h4.2M237.87 490.01h4.2M242.27 489.15V490.05M240.17 489.15h4.2M240.17 490.05h4.2M244.48 489.15V490.05M242.38 489.15h4.2M242.38 490.05h4.2M246.61 489.15V490.05M244.51 489.15h4.2M244.51 490.05h4.2M248.66 489.15V490.05M246.56 489.15h4.2M246.56 490.05h4.2M250.64 489.15V490.05M248.54 489.15h4.2M248.54 490.05h4.2M252.55 489.15V490.05M250.45 489.15h4.2M250.45 490.05h4.2M254.4 489.15V490.05M252.3 489.15h4.2M252.3 490.05h4.2M256.19 489.15V490.05M254.09 489.15h4.2M254.09 490.05h4.2M257.93 489.15V490.05M255.83 489.15h4.2M255.83 490.05h4.2M259.61 489.15V490.05M257.51 489.15h4.2M257.51 490.05h4.2M261.25 489.15V490.05M259.15 489.15h4.2M259.15 490.05h4.2M262.84 489.15V490.05M260.74 489.15h4.2M260.74 490.05h4.2M264.38 489.15V490.05M262.28 489.15h4.2M262.28 490.05h4.2M265.88 489.15V490.05M263.78 489.15h4.2M263.78 490.05h4.2M267.35 489.15V490.05M265.25 489.15h4.2M265.25 490.05h4.2M268.78 488.9V489.8M266.68 488.9h4.2M266.68 489.8h4.2M270.17 489.13V490.03M268.07 489.13h4.2M268.07 490.03h4.2M271.53 489.24V490.14M269.43 489.24h4.2M269.43 490.14h4.2M272.86 489.04V489.94M270.76 489.04h4.2M270.76 489.94h4.2M274.15 488.61V489.51M272.05 488.61h4.2M272.05 489.51h4.2M275.42 489.31V490.21M273.32 489.31h4.2M273.32 490.21h4.2M276.66 489.4V490.3M274.56 489.4h4.2M274.56 490.3h4.2M277.87 489.24V490.14M275.77 489.24h4.2M275.77 490.14h4.2M279.06 489.23V490.13M276.96 489.23h4.2M276.96 490.13h4.2M280.22 488.64V489.54M278.12 488.64h4.2M278.12 489.54h4.2M281.36 488.84V489.74M279.26 488.84h4.2M279.26 489.74h4.2M282.48 489.12V490.02M280.38 489.12h4.2M280.38 490.02h4.2M283.57 489.38V490.28M281.47 489.38h4.2M281.47 490.28h4.2M284.65 489.5V490.4M282.55 489.5h4.2M282.55 490.4h4.2M285.7 489.43V490.33M283.6 489.43h4.2M283.6 490.33h4.2M286.74 488.7V489.6M284.64 488.7h4.2M284.64 489.6h4.2M287.75 488.9V489.8M285.65 488.9h4.2M285.65 489.8h4.2M288.75 489.39V490.29M286.65 489.39h4.2M286.65 490.29h4.2M289.73 488.92V489.82M287.63 488.92h4.2M287.63 489.82h4.2M290.7 489.49V490.39M288.6 489.49h4.2M288.6 490.39h4.2M291.64 480.8V481.7M289.54 480.8h4.2M289.54 481.7h4.2M292.58 489.21V490.11M290.48 489.21h4.2M290.48 490.11h4.2M293.49 489.45V490.35M291.39 489.45h4.2M291.39 490.35h4.2M294.39 488.81V489.71M292.29 488.81h4.2M292.29 489.71h4.2M295.28 488.83V489.73M293.18 488.83h4.2M293.18 489.73h4.2M296.16 489.04V489.94M294.06 489.04h4.2M294.06 489.94h4.2M297.02 489.38V490.28M294.92 489.38h4.2M294.92 490.28h4.2M297.87 488.88V489.78M295.77 488.88h4.2M295.77 489.78h4.2M298.7 489.12V490.02M296.6 489.12h4.2M296.6 490.02h4.2M299.52 488.89V489.79M297.42 488.89h4.2M297.42 489.79h4.2M300.34 489.46V490.36M298.24 489.46h4.2M298.24 490.36h4.2M301.14 488.65V489.55M299.04 488.65h4.2M299.04 489.55h4.2M301.92 489.55V490.45M299.82 489.55h4.2M299.82 490.45h4.2M302.7 489.33V490.23M300.6 489.33h4.2M300.6 490.23h4.2M303.47 489.15V490.05M301.37 489.15h4.2M301.37 490.05h4.2M304.23 489.35V490.25M302.13 489.35h4.2M302.13 490.25h4.2M304.97 489.46V490.36M302.87 489.46h4.2M302.87 490.36h4.2M305.71 488.86V489.76M303.61 488.86h4.2M303.61 489.76h4.2M306.44 488.56V489.46M304.34 488.56h4.2M304.34 489.46h4.2M307.16 489.22V490.12M305.06 489.22h4.2M305.06 490.12h4.2M307.87 489.28V490.18M305.77 489.28h4.2M305.77 490.18h4.2M308.57 488.88V489.78M306.47 488.88h4.2M306.47 489.78h4.2M309.26 489.33V490.23M307.16 489.33h4.2M307.16 490.23h4.2M309.94 489.15V490.05M307.84 489.15h4.2M307.84 490.05h4.2M310.62 488.86V489.76M308.52 488.86h4.2M308.52 489.76h4.2M311.29 489.12V490.02M309.19 489.12h4.2M309.19 490.02h4.2M311.94 489.39V490.29M309.84 489.39h4.2M309.84 490.29h4.2M312.6 489.48V490.38M310.5 489.48h4.2M310.5 490.38h4.2M313.24 489.01V489.91M311.14 489.01h4.2M311.14 489.91h4.2M313.88 488.56V489.46M311.78 488.56h4.2M311.78 489.46h4.2M314.51 488.63V489.53M312.41 488.63h4.2M312.41 489.53h4.2M315.13 489.45V490.35M313.03 489.45h4.2M313.03 490.35h4.2M315.75 489.05V489.95M313.65 489.05h4.2M313.65 489.95h4.2M316.36 489.06V489.96M314.26 489.06h4.2M314.26 489.96h4.2M316.96 489.36V490.26M314.86 489.36h4.2M314.86 490.26h4.2M317.56 488.88V489.78M315.46 488.88h4.2M315.46 489.78h4.2M318.15 489.05V489.95M316.05 489.05h4.2M316.05 489.95h4.2M318.73 488.74V489.64M316.63 488.74h4.2M316.63 489.64h4.2M319.31 489.26V490.16M317.21 489.26h4.2M317.21 490.16h4.2M319.88 488.62V489.52M317.78 488.62h4.2M317.78 489.52h4.2M320.45 488.74V489.64M318.35 488.74h4.2M318.35 489.64h4.2M321.01 489.08V489.98M318.91 489.08h4.2M318.91 489.98h4.2M321.57 489.41V490.31M319.47 489.41h4.2M319.47 490.31h4.2M322.12 489.07V489.97M320.02 489.07h4.2M320.02 489.97h4.2M323.2 488.86V489.76M321.1 488.86h4.2M321.1 489.76h4.2M324.27 488.97V489.87M322.17 488.97h4.2M322.17 489.87h4.2M325.31 489.5V490.4M323.21 489.5h4.2M323.21 490.4h4.2M326.34 488.75V489.65M324.24 488.75h4.2M324.24 489.65h4.2M327.34 489.23V490.13M325.24 489.23h4.2M325.24 490.13h4.2M328.33 488.97V489.87M326.23 488.97h4.2M326.23 489.87h4.2M329.3 489.2V490.1M327.2 489.2h4.2M327.2 490.1h4.2M330.26 489.18V490.08M328.16 489.18h4.2M328.16 490.08h4.2M331.2 489.27V490.17M329.1 489.27h4.2M329.1 490.17h4.2M332.12 489.11V490.01M330.02 489.11h4.2M330.02 490.01h4.2M333.03 489.46V490.36M330.93 489.46h4.2M330.93 490.36h4.2M333.93 488.69V489.59M331.83 488.69h4.2M331.83 489.59h4.2M334.81 489.39V490.29M332.71 489.39h4.2M332.71 490.29h4.2M335.68 488.83V489.73M333.58 488.83h4.2M333.58 489.73h4.2M336.53 489.17V490.07M334.43 489.17h4.2M334.43 490.07h4.2M337.37 489.55V490.45M335.27 489.55h4.2M335.27 490.45h4.2M338.2 489.2V490.1M336.1 489.2h4.2M336.1 490.1h4.2M339.02 488.55V489.45M336.92 488.55h4.2M336.92 489.45h4.2M339.83 488.64V489.54M337.73 488.64h4.2M337.73 489.54h4.2M340.62 488.68V489.58M338.52 488.68h4.2M338.52 489.58h4.2M341.4 488.58V489.48M339.3 488.58h4.2M339.3 489.48h4.2M342.18 488.6V489.5M340.08 488.6h4.2M340.08 489.5h4.2M342.94 489.35V490.25M340.84 489.35h4.2M340.84 490.25h4.2M343.69 489.07V489.97M341.59 489.07h4.2M341.59 489.97h4.2M344.43 489.18V490.08M342.33 489.18h4.2M342.33 490.08h4.2M345.16 488.96V489.86M343.06 488.96h4.2M343.06 489.86h4.2M345.89 489.27V490.17M343.79 489.27h4.2M343.79 490.17h4.2M346.6 489.05V489.95M344.5 489.05h4.2M344.5 489.95h4.2M347.31 488.89V489.79M345.21 488.89h4.2M345.21 489.79h4.2M348 489.02V489.92M345.9 489.02h4.2M345.9 489.92h4.2M348.69 488.78V489.68M346.59 488.78h4.2M346.59 489.68h4.2M349.37 488.77V489.67M347.27 488.77h4.2M347.27 489.67h4.2M350.04 489.3V490.2M347.94 489.3h4.2M347.94 490.2h4.2M350.7 489.04V489.94M348.6 489.04h4.2M348.6 489.94h4.2M351.36 489.26V490.16M349.26 489.26h4.2M349.26 490.16h4.2M352.01 488.84V489.74M349.91 488.84h4.2M349.91 489.74h4.2M352.65 489.07V489.97M350.55 489.07h4.2M350.55 489.97h4.2M353.28 489.34V490.24M351.18 489.34h4.2M351.18 490.24h4.2M353.91 489.19V490.09M351.81 489.19h4.2M351.81 490.09h4.2M354.53 489.19V490.09M352.43 489.19h4.2M352.43 490.09h4.2M355.14 488.82V489.72M353.04 488.82h4.2M353.04 489.72h4.2M355.75 489.32V490.22M353.65 489.32h4.2M353.65 490.22h4.2M356.35 488.9V489.8M354.25 488.9h4.2M354.25 489.8h4.2M356.94 488.91V489.81M354.84 488.91h4.2M354.84 489.81h4.2M357.53 489.28V490.18M355.43 489.28h4.2M355.43 490.18h4.2M358.11 489.19V490.09M356.01 489.19h4.2M356.01 490.09h4.2M358.69 488.59V489.49M356.59 488.59h4.2M356.59 489.49h4.2M359.26 488.88V489.78M357.16 488.88h4.2M357.16 489.78h4.2M359.82 488.75V489.65M357.72 488.75h4.2M357.72 489.65h4.2M360.38 489.21V490.11M358.28 489.21h4.2M358.28 490.11h4.2M360.93 488.75V489.65M358.83 488.75h4.2M358.83 489.65h4.2M361.75 489.18V490.08M359.65 489.18h4.2M359.65 490.08h4.2M362.56 488.84V489.74M360.46 488.84h4.2M360.46 489.74h4.2M363.35 488.68V489.58M361.25 488.68h4.2M361.25 489.58h4.2M364.14 489.24V490.14M362.04 489.24h4.2M362.04 490.14h4.2M364.91 489.39V490.29M362.81 489.39h4.2M362.81 490.29h4.2M365.68 488.7V489.6M363.58 488.7h4.2M363.58 489.6h4.2M366.43 488.66V489.56M364.33 488.66h4.2M364.33 489.56h4.2M367.17 488.78V489.68M365.07 488.78h4.2M365.07 489.68h4.2M367.91 488.65V489.55M365.81 488.65h4.2M365.81 489.55h4.2M368.63 488.95V489.85M366.53 488.95h4.2M366.53 489.85h4.2M369.35 489.16V490.06M367.25 489.16h4.2M367.25 490.06h4.2M370.05 489.18V490.08M367.95 489.18h4.2M367.95 490.08h4.2M370.75 488.87V489.77M368.65 488.87h4.2M368.65 489.77h4.2M371.44 489.53V490.43M369.34 489.53h4.2M369.34 490.43h4.2M372.12 489.26V490.16M370.02 489.26h4.2M370.02 490.16h4.2M372.8 488.64V489.54M370.7 488.64h4.2M370.7 489.54h4.2M373.46 488.98V489.88M371.36 488.98h4.2M371.36 489.88h4.2M374.12 489.22V490.12M372.02 489.22h4.2M372.02 490.12h4.2M374.77 488.75V489.65M372.67 488.75h4.2M372.67 489.65h4.2M375.41 488.59V489.49M373.31 488.59h4.2M373.31 489.49h4.2M376.04 487.75V488.65M373.94 487.75h4.2M373.94 488.65h4.2M376.67 487.14V488.04M374.57 487.14h4.2M374.57 488.04h4.2M377.29 487.21V488.11M375.19 487.21h4.2M375.19 488.11h4.2M377.91 486.64V487.54M375.81 486.64h4.2M375.81 487.54h4.2M378.51 486.39V487.29M376.41 486.39h4.2M376.41 487.29h4.2M379.11 485.63V486.53M377.01 485.63h4.2M377.01 486.53h4.2M379.71 485.21V486.11M377.61 485.21h4.2M377.61 486.11h4.2M380.3 485.8V486.7M378.2 485.8h4.2M378.2 486.7h4.2M380.88 485.98V486.88M378.78 485.98h4.2M378.78 486.88h4.2M381.46 486.21V487.11M379.36 486.21h4.2M379.36 487.11h4.2M382.03 486.7V487.6M379.93 486.7h4.2M379.93 487.6h4.2M382.59 487.01V487.91M380.49 487.01h4.2M380.49 487.91h4.2M383.15 487.51V488.41M381.05 487.51h4.2M381.05 488.41h4.2M383.7 488.21V489.11M381.6 488.21h4.2M381.6 489.11h4.2M384.43 488.81V489.71M382.33 488.81h4.2M382.33 489.71h4.2M385.16 489.24V490.14M383.06 489.24h4.2M383.06 490.14h4.2M385.87 488.94V489.84M383.77 488.94h4.2M383.77 489.84h4.2M386.57 488.59V489.49M384.47 488.59h4.2M384.47 489.49h4.2M387.26 489.02V489.92M385.16 489.02h4.2M385.16 489.92h4.2M387.95 489.21V490.11M385.85 489.21h4.2M385.85 490.11h4.2M388.63 489.15V490.05M386.53 489.15h4.2M386.53 490.05h4.2M389.3 489.1V490M387.2 489.1h4.2M387.2 490h4.2M389.96 489.09V489.99M387.86 489.09h4.2M387.86 489.99h4.2M390.61 489.52V490.42M388.51 489.52h4.2M388.51 490.42h4.2M391.26 488.87V489.77M389.16 488.87h4.2M389.16 489.77h4.2M391.9 489.38V490.28M389.8 489.38h4.2M389.8 490.28h4.2M392.53 488.91V489.81M390.43 488.91h4.2M390.43 489.81h4.2M393.15 489.04V489.94M391.05 489.04h4.2M391.05 489.94h4.2M393.77 489.07V489.97M391.67 489.07h4.2M391.67 489.97h4.2M394.38 488.87V489.77M392.28 488.87h4.2M392.28 489.77h4.2M394.99 488.98V489.88M392.89 488.98h4.2M392.89 489.88h4.2M395.59 488.98V489.88M393.49 488.98h4.2M393.49 489.88h4.2M396.18 488.58V489.48M394.08 488.58h4.2M394.08 489.48h4.2M396.76 488.94V489.84M394.66 488.94h4.2M394.66 489.84h4.2M397.34 488.82V489.72M395.24 488.82h4.2M395.24 489.72h4.2M397.92 488.72V489.62M395.82 488.72h4.2M395.82 489.62h4.2M398.49 489.11V490.01M396.39 489.11h4.2M396.39 490.01h4.2M399.05 488.69V489.59M396.95 488.69h4.2M396.95 489.59h4.2M399.61 489.52V490.42M397.51 489.52h4.2M397.51 490.42h4.2M400.16 488.93V489.83M398.06 488.93h4.2M398.06 489.83h4.2M400.84 488.63V489.53M398.74 488.63h4.2M398.74 489.53h4.2M401.51 488.75V489.65M399.41 488.75h4.2M399.41 489.65h4.2M402.18 489.32V490.22M400.08 489.32h4.2M400.08 490.22h4.2M402.84 488.69V489.59M400.74 488.69h4.2M400.74 489.59h4.2M403.49 489.09V489.99M401.39 489.09h4.2M401.39 489.99h4.2M404.13 488.72V489.62M402.03 488.72h4.2M402.03 489.62h4.2M404.77 489.33V490.23M402.67 489.33h4.2M402.67 490.23h4.2M405.39 489.52V490.42M403.29 489.52h4.2M403.29 490.42h4.2M406.02 489.34V490.24M403.92 489.34h4.2M403.92 490.24h4.2M406.63 489.03V489.93M404.53 489.03h4.2M404.53 489.93h4.2M407.24 488.76V489.66M405.14 488.76h4.2M405.14 489.66h4.2M407.84 489.46V490.36M405.74 489.46h4.2M405.74 490.36h4.2M408.44 488.97V489.87M406.34 488.97h4.2M406.34 489.87h4.2M409.03 489.3V490.2M406.93 489.3h4.2M406.93 490.2h4.2M409.61 489.42V490.32M407.51 489.42h4.2M407.51 490.32h4.2M410.19 488.87V489.77M408.09 488.87h4.2M408.09 489.77h4.2M410.76 489.36V490.26M408.66 489.36h4.2M408.66 490.26h4.2M411.32 489.33V490.23M409.22 489.33h4.2M409.22 490.23h4.2M411.88 488.97V489.87M409.78 488.97h4.2M409.78 489.87h4.2M412.44 489.05V489.95M410.34 489.05h4.2M410.34 489.95h4.2M413.1 488.78V489.68M411 488.78h4.2M411 489.68h4.2M413.75 488.82V489.72M411.65 488.82h4.2M411.65 489.72h4.2M414.39 489.48V490.38M412.29 489.48h4.2M412.29 490.38h4.2M415.03 489.45V490.35M412.93 489.45h4.2M412.93 490.35h4.2M415.66 489.3V490.2M413.56 489.3h4.2M413.56 490.2h4.2M416.28 489.18V490.08M414.18 489.18h4.2M414.18 490.08h4.2M416.89 489.22V490.12M414.79 489.22h4.2M414.79 490.12h4.2M417.5 489.51V490.41M415.4 489.51h4.2M415.4 490.41h4.2M418.1 489.48V490.38M416 489.48h4.2M416 490.38h4.2M418.7 488.72V489.62M416.6 488.72h4.2M416.6 489.62h4.2M419.29 488.89V489.79M417.19 488.89h4.2M417.19 489.79h4.2M419.87 488.69V489.59M417.77 488.69h4.2M417.77 489.59h4.2M420.45 488.92V489.82M418.35 488.92h4.2M418.35 489.82h4.2M421.02 488.84V489.74M418.92 488.84h4.2M418.92 489.74h4.2M421.59 489.53V490.43M419.49 489.53h4.2M419.49 490.43h4.2M422.15 488.88V489.78M420.05 488.88h4.2M420.05 489.78h4.2M422.7 489.43V490.33M420.6 489.43h4.2M420.6 490.33h4.2M423.34 489.37V490.27M421.24 489.37h4.2M421.24 490.27h4.2M423.98 488.58V489.48M421.88 488.58h4.2M421.88 489.48h4.2M424.6 488.72V489.62M422.5 488.72h4.2M422.5 489.62h4.2M425.22 488.68V489.58M423.12 488.68h4.2M423.12 489.58h4.2M425.83 489.12V490.02M423.73 489.12h4.2M423.73 490.02h4.2M426.44 489.11V490.01M424.34 489.11h4.2M424.34 490.01h4.2M427.04 489.44V490.34M424.94 489.44h4.2M424.94 490.34h4.2M427.63 489.53V490.43M425.53 489.53h4.2M425.53 490.43h4.2M428.22 489.41V490.31M426.12 489.41h4.2M426.12 490.31h4.2M428.8 488.81V489.71M426.7 488.81h4.2M426.7 489.71h4.2M429.37 489.49V490.39M427.27 489.49h4.2M427.27 490.39h4.2M429.94 489.11V490.01M427.84 489.11h4.2M427.84 490.01h4.2M430.51 488.75V489.65M428.41 488.75h4.2M428.41 489.65h4.2M431.07 489.18V490.08M428.97 489.18h4.2M428.97 490.08h4.2M431.62 488.61V489.51M429.52 488.61h4.2M429.52 489.51h4.2M432.24 488.99V489.89M430.14 488.99h4.2M430.14 489.89h4.2M432.86 488.84V489.74M430.76 488.84h4.2M430.76 489.74h4.2M433.47 489.36V490.26M431.37 489.36h4.2M431.37 490.26h4.2M434.08 489.15V490.05M431.98 489.15h4.2M431.98 490.05h4.2M434.68 489.08V489.98M432.58 489.08h4.2M432.58 489.98h4.2M435.27 489.28V490.18M433.17 489.28h4.2M433.17 490.18h4.2M435.85 488.88V489.78M433.75 488.88h4.2M433.75 489.78h4.2M436.43 488.83V489.73M434.33 488.83h4.2M434.33 489.73h4.2M437.01 489.54V490.44M434.91 489.54h4.2M434.91 490.44h4.2M437.58 489.32V490.22M435.48 489.32h4.2M435.48 490.22h4.2M438.14 489.26V490.16M436.04 489.26h4.2M436.04 490.16h4.2M438.69 488.84V489.74M436.59 488.84h4.2M436.59 489.74h4.2M439.25 489.15V490.05M437.15 489.15h4.2M437.15 490.05h4.2M439.86 488.98V489.88M437.76 488.98h4.2M437.76 489.88h4.2M440.47 488.89V489.79M438.37 488.89h4.2M438.37 489.79h4.2M441.07 488.74V489.64M438.97 488.74h4.2M438.97 489.64h4.2M441.66 488.55V489.45M439.56 488.55h4.2M439.56 489.45h4.2M442.25 489.53V490.43M440.15 489.53h4.2M440.15 490.43h4.2M442.83 489.25V490.15M440.73 489.25h4.2M440.73 490.15h4.2M443.41 489.21V490.11M441.31 489.21h4.2M441.31 490.11h4.2M443.98 488.96V489.86M441.88 488.96h4.2M441.88 489.86h4.2M444.55 489.06V489.96M442.45 489.06h4.2M442.45 489.96h4.2M445.11 488.56V489.46M443.01 488.56h4.2M443.01 489.46h4.2M445.66 489.3V490.2M443.56 489.3h4.2M443.56 490.2h4.2M446.27 488.64V489.54M444.17 488.64h4.2M444.17 489.54h4.2M446.87 488.92V489.82M444.77 488.92h4.2M444.77 489.82h4.2M447.47 488.9V489.8M445.37 488.9h4.2M445.37 489.8h4.2M448.06 488.6V489.5M445.96 488.6h4.2M445.96 489.5h4.2M448.64 488.78V489.68M446.54 488.78h4.2M446.54 489.68h4.2M449.22 488.62V489.52M447.12 488.62h4.2M447.12 489.52h4.2M449.79 489.04V489.94M447.69 489.04h4.2M447.69 489.94h4.2M450.36 488.72V489.62M448.26 488.72h4.2M448.26 489.62h4.2M450.92 489.24V490.14M448.82 489.24h4.2M448.82 490.14h4.2M451.47 488.66V489.56M449.37 488.66h4.2M449.37 489.56h4.2M452.08 489.08V489.98M449.98 489.08h4.2M449.98 489.98h4.2M452.67 489.47V490.37M450.57 489.47h4.2M450.57 490.37h4.2M453.27 488.77V489.67M451.17 488.77h4.2M451.17 489.67h4.2M453.85 488.69V489.59M451.75 488.69h4.2M451.75 489.59h4.2M454.43 489.45V490.35M452.33 489.45h4.2M452.33 490.35h4.2M455 489.43V490.33M452.9 489.43h4.2M452.9 490.33h4.2M455.57 488.64V489.54M453.47 488.64h4.2M453.47 489.54h4.2M456.13 488.7V489.6M454.03 488.7h4.2M454.03 489.6h4.2M456.69 489.45V490.35M454.59 489.45h4.2M454.59 490.35h4.2M457.24 489.19V490.09M455.14 489.19h4.2M455.14 490.09h4.2M457.84 488.92V489.82M455.74 488.92h4.2M455.74 489.82h4.2M458.43 488.66V489.56M456.33 488.66h4.2M456.33 489.56h4.2M459.01 488.6V489.5M456.91 488.6h4.2M456.91 489.5h4.2M459.59 488V488.9M457.49 488h4.2M457.49 488.9h4.2M460.16 487.98V488.88M458.06 487.98h4.2M458.06 488.88h4.2M460.72 486.81V487.71M458.62 486.81h4.2M458.62 487.71h4.2M461.28 485.08V485.98M459.18 485.08h4.2M459.18 485.98h4.2M461.84 482.67V483.57M459.74 482.67h4.2M459.74 483.57h4.2M461.97 479.55V480.45M459.87 479.55h4.2M459.87 480.45h4.2M462.02 477.55V478.45M459.92 477.55h4.2M459.92 478.45h4.2M462.07 475.05V475.95M459.97 475.05h4.2M459.97 475.95h4.2M462.11 472V473M460.01 472h4.2M460.01 473h4.2M462.16 467.88V469.12M460.06 467.88h4.2M460.06 469.12h4.2M462.2 462.74V464.26M460.1 462.74h4.2M460.1 464.26h4.2M462.25 422.5V427.5M460.15 422.5h4.2M460.15 427.5h4.2M462.29 376.5V381.5M460.19 376.5h4.2M460.19 381.5h4.2M462.34 459.66V461.34M460.24 459.66h4.2M460.24 461.34h4.2M462.39 465.31V466.69M460.29 465.31h4.2M460.29 466.69h4.2M462.43 469.94V471.06M460.33 469.94h4.2M460.33 471.06h4.2M462.48 473.54V474.46M460.38 473.54h4.2M460.38 474.46h4.2M462.52 476.55V477.45M460.42 476.55h4.2M460.42 477.45h4.2M462.57 478.55V479.45M460.47 478.55h4.2M460.47 479.45h4.2M462.61 480.05V480.95M460.51 480.05h4.2M460.51 480.95h4.2M462.66 484.04V484.94M460.56 484.04h4.2M460.56 484.94h4.2M463.24 485.88V486.78M461.14 485.88h4.2M461.14 486.78h4.2M463.82 485.94V486.84M461.72 485.94h4.2M461.72 486.84h4.2M464.4 487.78V488.68M462.3 487.78h4.2M462.3 488.68h4.2M464.97 488.18V489.08M462.87 488.18h4.2M462.87 489.08h4.2M465.53 488.08V488.98M463.43 488.08h4.2M463.43 488.98h4.2M466.08 489.04V489.94M463.98 489.04h4.2M463.98 489.94h4.2M466.64 489.21V490.11M464.54 489.21h4.2M464.54 490.11h4.2M467.22 489.25V490.15M465.12 489.25h4.2M465.12 490.15h4.2M467.81 488.74V489.64M465.71 488.74h4.2M465.71 489.64h4.2M468.38 488.82V489.72M466.28 488.82h4.2M466.28 489.72h4.2M468.95 488.81V489.71M466.85 488.81h4.2M466.85 489.71h4.2M469.52 488.6V489.5M467.42 488.6h4.2M467.42 489.5h4.2M470.07 489.31V490.21M467.97 489.31h4.2M467.97 490.21h4.2M470.63 489.52V490.42M468.53 489.52h4.2M468.53 490.42h4.2M471.21 488.73V489.63M469.11 488.73h4.2M469.11 489.63h4.2M471.8 488.96V489.86M469.7 488.96h4.2M469.7 489.86h4.2M472.37 489.53V490.43M470.27 489.53h4.2M470.27 490.43h4.2M472.94 488.71V489.61M470.84 488.71h4.2M470.84 489.61h4.2" stroke="#c95a27" stroke-width="1.125" fill="none"/>
</g>
<rect x="60.75" y="285.5" width="412.5" height="205" fill="none" stroke="#bdbdbd" stroke-width="0.9"/>
<path d="M60.75 490.5v-4M60.75 285.5v4M99.84 490.5v-2M99.84 285.5v2M122.7 490.5v-2M122.7 285.5v2M138.93 490.5v-2M138.93 285.5v2M151.51 490.5v-2M151.51 285.5v2M161.79 490.5v-2M161.79 285.5v2M170.49 490.5v-2M170.49 285.5v2M178.02 490.5v-2M178.02 285.5v2M184.66 490.5v-2M184.66 285.5v2M190.6 490.5v-4M190.6 285.5v4M229.69 490.5v-2M229.69 285.5v2M252.55 490.5v-2M252.55 285.5v2M268.78 490.5v-2M268.78 285.5v2M281.36 490.5v-2M281.36 285.5v2M291.64 490.5v-2M291.64 285.5v2M300.34 490.5v-2M300.34 285.5v2M307.87 490.5v-2M307.87 285.5v2M314.51 490.5v-2M314.51 285.5v2M320.45 490.5v-4M320.45 285.5v4M359.54 490.5v-2M359.54 285.5v2M382.4 490.5v-2M382.4 285.5v2M398.63 490.5v-2M398.63 285.5v2M411.21 490.5v-2M411.21 285.5v2M421.49 490.5v-2M421.49 285.5v2M430.19 490.5v-2M430.19 285.5v2M437.72 490.5v-2M437.72 285.5v2M444.36 490.5v-2M444.36 285.5v2M450.3 490.5v-4M450.3 285.5v4M60.75 490.5h4M473.25 490.5h-4M60.75 439.25h4M473.25 439.25h-4M60.75 388h4M473.25 388h-4M60.75 336.75h4M473.25 336.75h-4M60.75 285.5h4M473.25 285.5h-4" stroke="#bdbdbd" stroke-width="0.7" fill="none"/>
<text transform="translate(56.25 495.7) scale(1.045 1)" font-family="'Liberation Sans', Arial, Helvetica, sans-serif" font-size="14.8" fill="#222222" stroke="#222222" stroke-width="0.25" text-anchor="end">0</text>
<text transform="translate(56.25 444.45) scale(1.045 1)" font-family="'Liberation Sans', Arial, Helvetica, sans-serif" font-size="14.8" fill="#222222" stroke="#222222" stroke-width="0.25" text-anchor="end">5</text>
<text transform="translate(56.25 393.2) scale(1.045 1)" font-family="'Liberation Sans', Arial, Helvetica, sans-serif" font-size="14.8" fill="#222222" stroke="#222222" stroke-width="0.25" text-anchor="end">10</text>
<text transform="translate(56.25 341.95) scale(1.045 1)" font-family="'Liberation Sans', Arial, Helvetica, sans-serif" font-size="14.8" fill="#222222" stroke="#222222" stroke-width="0.25" text-anchor="end">15</text>
<text transform="translate(56.25 290.7) scale(1.045 1)" font-family="'Liberation Sans', Arial, Helvetica, sans-serif" font-size="14.8" fill="#222222" stroke="#222222" stroke-width="0.25" text-anchor="end">20</text>
<text transform="translate(48.53 515.5) scale(1.045 1)" font-family="'Liberation Sans', Arial, Helvetica, sans-serif" font-size="14.5" fill="#222222" stroke="#262626" stroke-width="0.25">10<tspan dy="-6.9" font-size="12.2">0</tspan></text>
<text transform="translate(178.38 515.5) scale(1.045 1)" font-family="'Liberation Sans', Arial, Helvetica, sans-serif" font-size="14.5" fill="#222222" stroke="#262626" stroke-width="0.25">10<tspan dy="-6.9" font-size="12.2">1</tspan></text>
<text transform="translate(308.23 515.5) scale(1.045 1)" font-family="'Liberation Sans', Arial, Helvetica, sans-serif" font-size="14.5" fill="#222222" stroke="#262626" stroke-width="0.25">10<tspan dy="-6.9" font-size="12.2">2</tspan></text>
<text transform="translate(438.08 515.5) scale(1.045 1)" font-family="'Liberation Sans', Arial, Helvetica, sans-serif" font-size="14.5" fill="#222222" stroke="#262626" stroke-width="0.25">10<tspan dy="-6.9" font-size="12.2">3</tspan></text>
<rect x="75.6" y="301.1" width="113.3" height="133.8" fill="#fff" stroke="#000" stroke-width="1.4"/>
<text transform="translate(132.25 317.4) scale(1.045 1)" font-family="'Liberation Sans', Arial, Helvetica, sans-serif" font-size="14.6" fill="#111" stroke="#111" stroke-width="0.25" text-anchor="middle">Integrated</text>
<text transform="translate(132.25 335.5) scale(1.045 1)" font-family="'Liberation Sans', Arial, Helvetica, sans-serif" font-size="14.6" fill="#111" stroke="#111" stroke-width="0.25" text-anchor="middle">values</text>
<text transform="translate(132.25 353.6) scale(1.045 1)" font-family="'Liberation Sans', Arial, Helvetica, sans-serif" font-size="14.6" fill="#111" stroke="#111" stroke-width="0.25" text-anchor="middle">(1 Hz - 1.5 kHz)</text>
<text transform="translate(132.25 389.8) scale(1.045 1)" text-anchor="middle" font-family="'Liberation Sans', Arial, Helvetica, sans-serif" font-size="14.6" fill="#111" stroke="#111" stroke-width="0.25"><tspan font-family="'Liberation Serif', 'Times New Roman', serif" font-style="italic" font-size="15.1">δ</tspan> x = 20 nm</text>
<text transform="translate(132.25 407.9) scale(1.045 1)" text-anchor="middle" font-family="'Liberation Sans', Arial, Helvetica, sans-serif" font-size="14.6" fill="#111" stroke="#111" stroke-width="0.25"><tspan font-family="'Liberation Serif', 'Times New Roman', serif" font-style="italic" font-size="15.1">δ</tspan> y = 6 nm</text>
<text transform="translate(132.25 426) scale(1.045 1)" text-anchor="middle" font-family="'Liberation Sans', Arial, Helvetica, sans-serif" font-size="14.6" fill="#111" stroke="#111" stroke-width="0.25"><tspan font-family="'Liberation Serif', 'Times New Roman', serif" font-style="italic" font-size="15.1">δ</tspan> z = 15 nm</text>
<rect x="364.2" y="290.3" width="104" height="35.5" fill="#fff" stroke="#b5b5b5" stroke-width="0.9"/>
<path d="M366.6 299.8H385.6M376.1 294.4V305.2M374.1 294.4h4M374.1 305.2h4" stroke="#3f73b8" stroke-width="1.2" fill="none"/>
<text transform="translate(387.6 304.4) scale(1.045 1)" font-family="'Liberation Sans', Arial, Helvetica, sans-serif" font-size="13.5" fill="#111" stroke="#111" stroke-width="0.25">In-plane</text>
<path d="M366.6 316.8H385.6M376.1 311.4V322.2M374.1 311.4h4M374.1 322.2h4" stroke="#c95a27" stroke-width="1.2" fill="none"/>
<text transform="translate(387.6 321.4) scale(1.045 1)" font-family="'Liberation Sans', Arial, Helvetica, sans-serif" font-size="13.5" fill="#111" stroke="#111" stroke-width="0.25">Out-of-plane</text>
<text transform="translate(266.5 279) scale(1.045 1)" font-family="'Liberation Sans', Arial, Helvetica, sans-serif" font-size="14.7" fill="#000" stroke="#000" stroke-width="0.25" text-anchor="middle" font-weight="bold" textLength="368.9" lengthAdjust="spacingAndGlyphs">SQUID - sample vibrations, passive vibration isolation</text>
<text transform="translate(198.6 526) scale(1.045 1)" font-family="'Liberation Sans', Arial, Helvetica, sans-serif" font-size="15.4" fill="#222222" stroke="#222222" stroke-width="0.25" textLength="72.73" lengthAdjust="spacingAndGlyphs">Frequency</text>
<text transform="translate(280 526.2) scale(1.045 1)" font-family="'Liberation Serif', 'Times New Roman', serif" font-size="14.8" fill="#222222" stroke="#222222" stroke-width="0.25" textLength="28.33" lengthAdjust="spacingAndGlyphs">[Hz]</text>
<g transform="translate(31.8 422) rotate(-90)"><text transform="translate(-0.3 0) scale(0.87 1.1)" font-family="'Liberation Serif', 'Times New Roman', serif" font-size="15.4" fill="#222222" stroke="#222222" stroke-width="0.3">nm</text><text transform="translate(18.2 1.3) scale(1.77 1.3)" font-family="'Liberation Serif', 'Times New Roman', serif" font-size="14.8" fill="#222222" stroke="#222222" stroke-width="0.3">/</text><text transform="translate(25.05 3.16) scale(0.76 1)" font-family="'DejaVu Sans', sans-serif" font-size="23.9" fill="#222222" stroke="#222222" stroke-width="0.3">√</text><path d="M36.2 -15.75H59.5" stroke="#222222" stroke-width="1.0" fill="none"/><text transform="translate(37.3 0) scale(1.21 1)" font-family="'Liberation Serif', 'Times New Roman', serif" font-size="14.8" fill="#222222" stroke="#222222" stroke-width="0.3">Hz</text></g>
<text transform="translate(0 282.4) scale(1.07 1)" font-family="'Liberation Sans', Arial, Helvetica, sans-serif" font-size="24.3" fill="#111" stroke="#111" stroke-width="0.25">(b)</text>
</svg>
</body>
</html>
